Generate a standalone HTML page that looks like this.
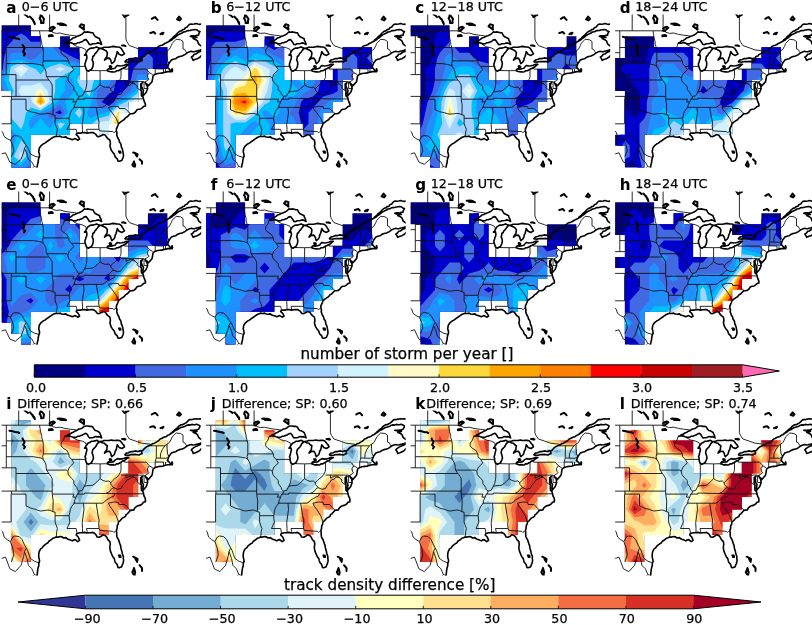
<!DOCTYPE html>
<html><head><meta charset="utf-8"><style>
html,body{margin:0;padding:0;background:#fff;}
body{width:812px;height:625px;overflow:hidden;}
svg{display:block;}
text{font-family:'DejaVu Sans', 'Liberation Sans', sans-serif;fill:#000;stroke:#000;stroke-width:0.25px;}
</style></head><body>
<svg width="812" height="625" viewBox="0 0 812 625">
<defs><clipPath id="cpA"><rect x="1.6" y="14.4" width="199.6" height="153.2"/></clipPath><clipPath id="cpB"><rect x="1.6" y="15.5" width="199.6" height="165.1"/></clipPath></defs>
<g transform="translate(0,0)">
<path d="M11.4 25.3L21.1 25.3L30.9 25.3L30.9 36.3L40.6 36.3L40.6 47.2L50.4 47.2L60.1 47.2L60.1 36.3L69.9 36.3L69.9 47.2L79.6 47.2L79.6 58.1L79.6 69.1L79.6 80.0L89.4 80.0L99.1 80.0L108.9 80.0L118.6 80.0L128.4 80.0L128.4 69.1L128.4 58.1L138.1 58.1L138.1 47.2L147.9 47.2L157.6 47.2L167.4 47.2L167.4 58.1L167.4 69.1L157.6 69.1L147.9 69.1L147.9 80.0L138.1 80.0L138.1 91.0L138.1 101.9L128.4 101.9L128.4 112.8L118.6 112.8L118.6 123.8L108.9 123.8L108.9 134.7L99.1 134.7L99.1 123.8L89.4 123.8L79.6 123.8L69.9 123.8L69.9 134.7L60.1 134.7L50.4 134.7L40.6 134.7L30.9 134.7L30.9 145.7L30.9 156.6L30.9 167.6L21.1 167.6L11.4 167.6L11.4 156.6L11.4 145.7L11.4 134.7L11.4 123.8L11.4 112.8L11.4 101.9L11.4 91.0L1.6 91.0L1.6 80.0L1.6 69.1L1.6 58.1L1.6 47.2L1.6 36.3L1.6 25.3Z" fill="#000080"/>
<path d="M11.4 30.8L21.1 28.1L30.9 30.8L30.9 36.3L40.6 36.3L40.6 47.2L50.4 47.2L60.1 47.2L60.1 41.7L65.0 47.2L69.9 49.9L79.6 52.7L79.6 58.1L79.6 69.1L79.6 80.0L89.4 80.0L99.1 80.0L108.9 80.0L118.6 80.0L128.4 80.0L128.4 69.1L128.4 58.1L138.1 58.1L138.1 47.2L147.9 47.2L157.6 47.2L167.4 47.2L167.4 58.1L167.4 69.1L157.6 69.1L147.9 69.1L147.9 80.0L138.1 80.0L138.1 91.0L138.1 101.9L128.4 101.9L128.4 112.8L118.6 112.8L118.6 123.8L108.9 123.8L108.9 134.7L99.1 134.7L99.1 123.8L89.4 123.8L79.6 123.8L69.9 123.8L69.9 134.7L60.1 134.7L50.4 134.7L40.6 134.7L30.9 134.7L30.9 145.7L30.9 156.6L30.9 167.6L21.1 167.6L11.4 167.6L11.4 156.6L11.4 145.7L11.4 134.7L11.4 123.8L11.4 112.8L11.4 101.9L11.4 91.0L1.6 91.0L1.6 80.0L1.6 69.1L1.6 58.1L1.6 47.2L1.6 36.3L1.6 30.8ZM106.4 101.9L108.9 103.3L110.5 101.9L108.9 99.2Z" fill="#0000cd"/>
<path d="M21.1 33.5L26.0 36.3L30.9 41.7L40.6 41.7L40.6 47.2L50.4 47.2L57.7 47.2L60.1 49.9L69.9 55.4L74.8 58.1L79.6 60.0L79.6 69.1L79.6 80.0L89.4 80.0L99.1 80.0L108.9 80.0L116.2 80.0L113.8 91.0L108.9 93.7L101.6 101.9L108.9 106.0L113.8 101.9L118.6 93.7L123.5 91.0L128.4 85.5L130.8 80.0L133.2 69.1L138.1 63.6L143.0 58.1L147.9 52.7L152.8 58.1L152.8 69.1L147.9 69.1L147.9 80.0L138.1 80.0L138.1 91.0L138.1 101.9L128.4 101.9L128.4 112.8L118.6 112.8L118.6 123.8L108.9 123.8L108.9 134.7L99.1 134.7L99.1 123.8L89.4 123.8L79.6 123.8L69.9 123.8L69.9 134.7L60.1 134.7L50.4 134.7L40.6 134.7L30.9 134.7L30.9 145.7L30.9 156.6L30.9 167.6L21.1 167.6L11.4 167.6L11.4 156.6L11.4 145.7L11.4 134.7L11.4 123.8L11.4 112.8L11.4 101.9L11.4 91.0L1.6 91.0L1.6 80.0L1.6 71.8L2.8 69.1L4.1 58.1L6.5 47.2L11.4 41.7L16.2 36.3ZM55.2 112.8L60.1 114.2L61.8 112.8L60.1 110.1Z" fill="#4169e1"/>
<path d="M11.4 52.7L21.1 52.7L26.0 58.1L30.9 60.0L35.8 58.1L40.6 52.7L45.5 47.2L50.4 47.2L52.8 47.2L60.1 55.4L65.0 58.1L69.9 60.0L79.6 63.6L79.6 69.1L79.6 80.0L89.4 80.0L99.1 80.0L108.9 80.0L111.3 80.0L108.9 85.5L99.1 88.2L97.5 91.0L96.7 101.9L99.1 107.4L108.9 108.7L117.0 101.9L118.6 99.2L128.4 92.8L130.8 91.0L135.7 80.0L138.1 74.6L147.9 74.6L147.9 80.0L138.1 80.0L138.1 91.0L138.1 101.9L128.4 101.9L128.4 112.8L118.6 112.8L118.6 123.8L108.9 123.8L108.9 134.7L99.1 134.7L99.1 123.8L89.4 123.8L79.6 123.8L69.9 123.8L69.9 134.7L60.1 134.7L50.4 134.7L40.6 134.7L30.9 134.7L30.9 145.7L30.9 156.6L30.9 162.1L26.0 167.6L21.1 167.6L11.4 167.6L11.4 156.6L11.4 145.7L11.4 134.7L11.4 123.8L11.4 112.8L11.4 101.9L11.4 91.0L4.1 91.0L1.6 85.5L1.6 80.0L1.6 77.3L5.3 69.1L8.9 58.1ZM45.5 112.8L50.4 118.3L60.1 117.0L65.0 112.8L60.1 104.6L50.4 111.0Z" fill="#1e90ff"/>
<path d="M11.4 60.9L21.1 59.5L30.9 63.6L40.6 63.6L50.4 60.9L60.1 60.0L69.9 63.6L79.6 67.3L79.6 69.1L79.6 80.0L89.4 80.0L99.1 80.0L104.0 80.0L99.1 82.8L94.2 91.0L91.8 101.9L89.4 107.4L86.9 112.8L89.4 118.3L99.1 114.7L104.0 112.8L108.9 111.5L118.6 103.0L121.1 101.9L128.4 96.4L135.7 91.0L138.1 85.5L138.1 91.0L138.1 101.9L128.4 101.9L128.4 112.8L118.6 112.8L118.6 123.8L108.9 123.8L108.9 134.7L99.1 134.7L99.1 123.8L89.4 123.8L79.6 123.8L69.9 123.8L69.9 134.7L60.1 134.7L50.4 134.7L40.6 134.7L30.9 134.7L30.9 145.7L30.9 151.1L29.2 156.6L21.1 165.7L11.4 162.1L11.4 156.6L11.4 151.1L13.8 145.7L16.2 134.7L11.4 129.3L11.4 123.8L11.4 112.8L11.4 101.9L11.4 91.0L8.9 91.0L4.1 80.0L7.7 69.1ZM65.0 80.0L65.0 91.0L60.1 96.4L57.7 101.9L50.4 107.4L40.6 112.1L35.8 112.8L30.9 118.3L28.4 123.8L30.9 129.3L35.8 123.8L40.6 118.3L45.5 123.8L50.4 129.3L52.8 123.8L60.1 119.7L68.2 112.8L65.0 101.9L69.9 96.4L74.8 91.0L72.3 80.0L69.9 77.3Z" fill="#00bfff"/>
<path d="M11.4 66.4L21.1 62.3L30.9 67.3L35.8 69.1L40.6 74.6L45.5 69.1L50.4 66.4L60.1 63.6L69.9 67.3L74.8 69.1L69.9 71.8L60.1 77.3L55.2 80.0L55.2 91.0L52.8 101.9L50.4 103.7L40.6 110.5L30.9 107.4L26.0 112.8L23.6 123.8L21.1 129.3L16.2 123.8L11.4 118.3L11.4 112.8L11.4 101.9L11.4 96.4L13.8 91.0L11.4 85.5L8.9 80.0L10.2 69.1ZM79.6 74.6L79.6 80.0L89.4 80.0L94.2 80.0L91.0 91.0L89.4 96.4L84.5 91.0L79.6 85.5L77.2 80.0ZM128.4 100.1L138.1 92.8L138.1 101.9L128.4 101.9L128.4 112.8L118.6 112.8L118.6 123.8L108.9 123.8L108.9 134.7L99.1 134.7L99.1 123.8L91.8 123.8L99.1 118.3L108.9 115.6L110.1 112.8L118.6 105.2L125.9 101.9ZM79.6 107.4L82.1 112.8L79.6 118.3L74.8 112.8ZM60.1 122.4L65.0 123.8L60.1 129.3L57.7 123.8ZM21.1 140.2L26.0 145.7L26.0 156.6L21.1 162.1L13.8 156.6L18.7 145.7Z" fill="#a4d2fe"/>
<path d="M21.1 65.0L28.4 69.1L21.1 77.3L13.8 69.1ZM60.1 67.3L65.0 69.1L60.1 71.8L55.2 69.1ZM21.1 85.5L30.9 85.5L40.6 82.8L47.9 91.0L49.4 101.9L40.6 108.9L31.9 101.9L30.9 96.4L21.1 96.4L18.7 91.0ZM138.1 96.4L138.1 101.9L130.8 101.9ZM118.6 107.4L128.4 107.4L128.4 112.8L118.6 112.8L118.6 123.8L108.9 123.8L108.9 134.7L99.1 134.7L99.1 123.8L96.7 123.8L99.1 122.0L108.9 121.1L112.5 112.8ZM21.1 151.1L22.8 156.6L21.1 158.4L18.7 156.6Z" fill="#d2f2ff"/>
<path d="M21.1 67.7L23.6 69.1L21.1 71.8L18.7 69.1ZM40.6 88.2L43.1 91.0L47.4 101.9L40.6 107.4L33.8 101.9L35.8 91.0ZM138.1 100.1L138.1 101.9L135.7 101.9ZM118.6 109.6L125.9 112.8L118.6 112.8L118.6 123.8L110.5 123.8L115.0 112.8Z" fill="#fffac8"/>
<path d="M40.6 92.8L45.5 101.9L40.6 105.8L35.8 101.9ZM118.6 111.8L121.1 112.8L118.6 112.8L118.6 123.8L113.8 123.8L117.4 112.8Z" fill="#ffd93c"/>
<path d="M40.6 96.4L43.5 101.9L40.6 104.3L37.7 101.9ZM118.6 118.3L118.6 123.8L117.0 123.8Z" fill="#ffa500"/>
<path d="M40.6 100.1L41.6 101.9L40.6 102.7L39.6 101.9Z" fill="#ff7f00"/>
<g clip-path="url(#cpA)">
<path d="M-22.8,30.8 49.6,30.8M49.6,28.7 51.4,29.2 52.3,32.3 56.2,33.4 60.1,33.0 65.0,34.4 69.9,35.2 74.8,35.7 76.7,36.3M18.7,30.8 18.7,8.9M49.6,28.7 49.6,8.9M125.9,8.9 125.9,17.1 125.9,39.0 126.9,41.7 129.4,45.6 135.7,47.8 141.5,49.9 150.3,51.0 151.3,52.7M149.3,52.7 164.9,52.7M164.9,52.7 166.9,51.0 169.3,49.4 171.3,45.6 172.2,43.4 176.1,39.3 180.5,39.8 183.0,41.5 183.0,48.9 184.7,49.4 185.9,51.6 186.9,53.0M6.3,30.8 6.3,74.6M-27.6,52.7 6.3,52.7M-27.6,74.6 16.0,74.6M16.0,74.6 16.0,96.4M6.3,47.5 42.8,47.5M6.3,63.6 33.3,63.6 38.2,64.4 41.1,65.0 43.3,66.4M16.0,80.0 48.9,80.0M-17.9,96.4 52.2,96.4M11.4,96.4 11.4,99.2 26.0,99.2 26.0,109.8M11.1,99.2 11.1,123.8 -6.2,123.8M26.0,109.8 28.4,110.7 30.9,111.8 33.3,112.3 35.8,112.8 38.2,113.7 40.6,114.2 43.1,113.9 45.5,113.7 47.9,113.4 50.4,113.7 52.9,114.8 55.1,115.3M55.1,115.3 55.1,118.3M55.1,118.3 55.1,123.8 56.2,126.5 57.4,129.3 56.7,132.0 56.5,134.7 56.0,136.4M55.1,118.3 69.1,118.3M52.9,114.8 53.2,105.2 52.2,99.2 52.2,85.0M52.2,85.0 50.9,82.8 49.9,81.1 48.9,80.0 46.6,76.7 46.2,74.6 46.0,71.8 45.0,69.1 43.3,66.4M43.3,66.4 42.6,63.6 43.3,60.9 43.3,51.0 42.8,47.5 41.8,44.5 41.6,41.7 40.6,37.9 40.1,34.6 39.5,30.8M43.3,60.9 68.8,60.9M46.6,76.7 66.3,76.7 67.8,78.0M52.2,99.2 74.0,99.2 72.9,101.9 76.1,101.9M64.5,43.1 63.5,46.7 61.3,49.7 61.1,52.7 63.5,55.4 66.5,57.1 68.9,60.9 69.1,63.6 71.6,66.4 73.8,69.6 71.8,71.8 69.4,74.0 67.8,78.0 68.4,81.1 71.3,84.4 73.8,86.6 73.8,89.3 76.7,93.2 77.2,94.8 78.9,96.4 78.6,98.6 77.2,99.2 76.2,101.9 74.5,105.2 74.3,107.4 71.8,110.1 70.4,112.8 69.1,118.3 69.4,121.1 69.9,123.8 67.0,129.3M67.0,129.3 76.1,129.3 76.7,131.4 76.9,133.6M71.6,66.4 85.5,66.4M86.5,52.1 85.5,49.4 82.1,47.8 77.2,46.7 72.8,44.2M88.4,70.5 100.1,70.7 106.7,70.6M86.8,70.5 86.8,83.3 86.5,86.0 85.7,89.3 84.3,92.1M100.1,70.7 100.1,85.0M121.0,69.1 121.0,76.5M78.9,96.4 82.1,95.9 84.3,92.1 86.9,91.5 90.4,91.2 92.8,91.0 95.2,89.3 97.7,87.1 100.1,85.0 103.0,86.6 105.5,87.4 108.9,87.1 110.8,88.8 112.8,86.6 114.7,85.0 117.2,83.3 119.1,81.1 120.6,78.4 121.0,76.5M77.2,99.2 84.3,99.2 84.3,98.2 94.2,98.5 105.6,98.6 115.3,98.6 123.5,98.9 133.2,98.9 143.6,98.9M105.6,98.6 108.9,97.3 110.8,95.3 112.3,93.7 114.0,93.4 110.8,90.1 110.8,88.8M114.0,93.4 117.6,94.8 121.1,94.0 122.5,91.5 124.5,89.3 125.9,88.0 126.9,86.0 129.8,85.2 131.5,83.3 134.2,83.9 134.7,83.9M126.0,81.6 126.0,84.4 128.9,83.0 131.5,82.2 134.2,83.0 135.7,85.0 137.6,86.0 137.1,87.7 138.6,89.3 141.5,91.0M121.0,81.6 144.0,81.6M144.0,81.6 144.1,88.5 147.6,88.5M121.0,69.1 124.7,67.6 124.7,69.1 146.1,69.1M146.1,69.1 147.4,70.2 149.3,72.6 147.4,75.4 147.9,77.8 149.1,79.2 147.4,80.6 145.4,81.7 145.2,82.8M149.3,72.6 152.8,74.6M155.2,74.0 155.2,68.8 156.3,65.0 156.4,52.7M155.2,68.8 163.5,69.0 163.5,72.9M165.5,69.0 165.5,71.8M156.3,65.0 165.9,65.3 167.6,64.4M160.3,65.1 160.5,60.9 162.3,56.5 164.9,52.7M168.8,63.1 167.6,60.9 167.0,55.4 167.0,51.0M73.3,107.4 102.4,107.4M83.5,107.4 84.0,112.8 82.2,124.3 82.5,129.3 82.5,132.5M96.2,107.4 98.1,118.3 99.1,122.1 98.6,126.0 99.1,129.3M86.5,129.3 99.1,129.3M86.5,129.3 87.2,132.0 86.9,133.1M99.1,129.3 99.8,130.9 112.8,131.6 113.8,132.5 115.0,132.0 116.2,130.9M102.4,107.4 104.5,106.3 106.4,104.4 108.9,103.3 111.3,101.9 113.8,101.1 115.3,98.6M108.4,107.4 109.9,110.1 112.3,112.8 114.2,115.6 116.2,118.3 118.1,122.7 119.1,123.8M108.4,107.4 113.8,106.3 118.6,106.6 119.1,108.5 125.0,108.5 130.6,113.7M-6.2,123.8 -5.2,125.2 -0.8,129.3 2.6,132.0 4.1,136.4 7.0,138.6 10.4,140.2 12.8,136.4 14.8,135.6 19.2,136.1 22.1,138.6 24.5,142.9 27.5,147.3 28.9,150.6 30.4,153.9 34.3,156.1 38.2,157.2 39.9,156.9M-5.7,159.3 1.6,153.9 5.5,152.8 9.9,162.1 15.3,164.3M10.4,140.2 12.8,145.7 13.8,151.1 11.4,156.6M26.0,145.7 24.5,148.4 27.0,153.9 28.4,159.3 31.9,162.1 34.3,166.5M15.3,164.3 21.1,159.3 23.6,152.2 24.5,148.4M37.2,167.6 34.3,166.5 29.9,170.3 28.4,174.1" fill="none" stroke="#111" stroke-width="0.9" stroke-linejoin="round"/>
<path d="M197.6,37.4 195.2,37.4 193.2,38.5 194.8,39.2 196.3,40.0 197.6,41.2 198.6,43.9 200.0,45.1 201.5,46.1 203.2,46.6 204.4,47.8 202.9,48.5 201.5,49.4 199.6,50.2 197.6,50.8 194.7,51.6 192.9,51.8 191.3,51.3 188.8,52.1 186.9,53.0 184.9,54.6 183.5,55.3 182.0,56.0 179.6,56.5 177.1,57.6 175.8,58.7 174.2,59.0 171.3,60.1 170.3,61.5 169.3,62.8 168.4,64.7 167.9,66.4 167.4,67.4 168.8,68.5 169.8,69.9 171.8,70.5 172.5,69.6 172.0,68.8 172.5,70.7 172.2,71.6 169.8,71.6 167.9,71.6 165.4,72.1 163.0,72.9 160.1,73.2 157.6,73.5 154.7,74.6 153.2,75.7 152.8,77.3 152.5,79.5 152.0,81.7 150.3,83.6 148.4,85.8 147.4,84.4 145.7,83.3 145.2,82.2 145.9,83.9 147.4,86.6 147.6,88.8 146.7,91.0 146.1,92.5 145.0,93.7 143.2,95.6 143.0,93.2 143.5,90.4 142.0,87.7 141.4,86.1 141.5,84.4 142.5,82.5 140.6,84.1 140.8,86.6 140.6,88.8 141.5,91.0 141.3,93.2 141.5,95.9 143.0,97.0 143.5,98.9 144.2,101.4 145.4,104.1 145.4,106.0 143.5,106.6 142.1,107.8 140.6,109.0 138.5,109.3 136.7,110.1 135.5,112.0 133.7,113.4 132.1,113.8 130.3,113.7 128.8,115.1 127.4,116.7 125.4,117.9 124.0,119.7 122.5,120.6 121.1,121.6 118.6,123.5 118.0,125.3 117.2,127.1 116.4,128.9 116.4,130.9 117.0,132.8 116.7,134.7 117.6,137.5 119.1,140.2 119.5,142.0 120.6,143.5 121.1,145.1 121.3,146.8 122.3,148.9 122.8,151.1 123.3,153.9 123.5,155.8 123.0,157.7 121.8,160.4 119.1,161.3 117.9,161.0 117.2,158.8 115.2,156.9 114.2,153.9 112.3,151.7 111.3,150.1 110.6,148.4 109.9,145.7 110.4,144.1 110.3,142.4 109.9,140.2 107.9,138.6 106.5,137.1 105.5,135.3 103.0,134.5 101.6,135.6 99.1,136.6 97.2,136.4 95.7,134.2 94.3,133.3 92.8,132.5 91.1,132.6 89.4,132.8 86.9,133.1 84.5,132.5 82.1,132.8 80.4,133.1 78.6,133.1 76.7,133.6 76.2,134.7 78.2,136.4 79.6,139.1 77.7,140.2 75.2,138.6 72.3,139.7 70.6,139.1 68.9,138.6 67.2,138.1 66.0,136.9 63.5,137.2 61.7,137.0 60.1,136.1 58.2,136.5 56.2,136.4 54.5,136.8 52.8,137.5 50.4,139.1 48.5,140.5 46.5,141.8 44.9,143.1 43.1,144.0 41.8,145.1 40.6,146.2 39.2,148.4 39.0,150.1 38.7,151.7 39.3,153.8 39.6,156.1 38.9,157.6 38.5,159.3 38.2,161.0 38.1,162.8 37.5,164.6 37.2,166.5 37.1,168.1 36.6,169.7 36.6,171.4 36.7,173.0 37.0,174.6 36.5,176.3 37.4,177.9 37.2,179.6 37.2,181.2M64.5,43.1 66.4,42.4 67.9,41.0 69.9,40.4 71.5,39.4 72.9,38.0 74.8,37.4 77.2,36.3 78.9,35.7 80.5,35.0 82.1,34.1 83.3,33.0 84.5,31.9 86.1,32.3 87.8,31.9 89.4,32.2 91.1,32.6 92.8,32.7 93.9,34.7 95.2,36.5 96.7,37.3 98.2,38.0 99.6,38.7 99.9,40.4 100.8,41.7 101.6,44.5 99.1,43.1 97.5,42.9 95.9,43.5 94.2,43.7 92.6,43.8 91.1,44.6 89.4,44.5 88.4,42.7 87.2,41.1 86.0,39.6 84.0,40.1 82.5,41.5 79.6,42.6 77.9,42.7 76.4,43.7 74.8,43.9 73.1,43.6 71.5,42.9 69.9,42.6 68.1,43.2 66.3,43.0 64.5,43.1M100.1,48.3 98.3,47.9 96.7,46.9 95.0,47.6 93.2,48.1 91.3,48.0 89.5,48.8 87.9,49.9 86.5,52.1 85.8,53.8 84.5,55.1 86.5,54.9 86.9,57.1 86.7,58.8 86.0,60.3 85.6,62.0 85.0,63.6 84.9,65.3 85.5,66.9 86.5,69.9 88.4,71.3 89.7,70.3 91.3,69.9 92.0,68.4 92.8,66.9 93.1,65.3 93.3,63.6 93.0,61.6 92.1,59.8 92.7,58.2 92.8,56.5 94.2,55.5 94.9,53.8 96.2,52.7 97.1,51.4 98.0,50.1 99.1,48.9 100.1,48.3M100.1,48.3 102.1,48.1 104.0,47.2 106.9,47.2 109.2,47.3 111.3,46.7 113.0,46.4 114.6,46.6 116.2,46.9 118.2,47.0 120.1,47.5 121.5,48.8 122.5,50.5 123.5,52.1 124.5,53.8 122.0,55.4 119.1,54.3 118.2,52.9 117.2,51.6 116.7,54.3 116.1,56.3 115.2,58.1 114.9,60.2 113.8,62.0 111.8,63.6 111.2,62.0 110.8,60.3 109.4,58.1 106.9,58.4 104.5,60.1 105.6,58.2 106.9,56.5 107.2,54.6 107.4,52.7 106.2,51.0 104.5,49.9 102.4,49.0 100.1,48.3M111.3,65.8 109.4,66.1 109.9,67.4 111.6,67.2 111.3,65.8M106.7,70.6 108.5,71.2 110.3,71.8 112.0,71.9 113.6,72.0 115.2,71.8 116.5,70.8 118.3,70.8 119.7,70.0 121.1,69.1 122.9,68.6 124.5,67.4 126.1,66.7 127.3,65.4 128.9,64.4 126.4,64.3 124.3,65.2 122.0,65.8 119.8,66.0 117.6,65.5 116.3,66.4 115.3,67.9 113.8,68.5 110.8,69.1 108.4,68.8 106.7,70.6M124.5,62.0 126.2,61.7 127.9,62.3 129.6,61.8 131.4,61.5 133.2,61.6 135.2,61.6 137.2,61.4 139.1,62.0 140.4,60.9 142.0,60.6 141.5,57.9 139.9,58.5 138.1,58.4 135.2,57.9 133.1,58.6 130.8,58.6 128.7,59.4 126.4,60.1 124.5,62.0M141.5,57.9 142.6,56.5 144.4,55.9 145.4,54.6 147.4,53.6 149.3,52.4 151.0,51.3 152.8,50.6 154.7,49.9 156.0,48.7 157.3,47.7 158.5,46.4 160.1,45.6 161.8,45.2 163.4,44.6 164.8,43.5 166.4,42.8 167.9,42.0 169.3,41.2M169.3,41.2 170.5,39.6 172.2,38.5 173.7,36.6 175.7,35.2 176.9,33.8 178.1,32.5 179.6,31.3 181.3,30.9 182.7,29.6 184.4,29.2 185.4,27.7 187.2,27.1 188.1,25.7 189.3,24.5 190.9,24.0 192.6,24.2 194.2,24.0 196.0,23.5 197.8,24.0 199.7,24.4 201.5,24.0M169.3,41.2 171.5,40.1 173.2,38.5 175.3,37.2 177.1,35.7 178.6,34.6 180.3,33.8 182.0,33.0 183.5,32.0 185.4,31.8 186.9,30.8 188.5,30.6 190.2,30.5 191.8,30.0 193.4,29.7 195.0,29.5 196.6,29.7 198.2,30.9 200.0,31.6 198.9,33.2 198.6,35.2 196.8,35.3 195.2,36.0 193.5,35.8 191.9,35.9 190.3,36.3 192.2,37.0 194.2,37.4 195.9,37.1 197.6,37.4M202.5,51.0 200.5,51.6 198.6,52.1 197.2,53.0 195.8,54.0 194.2,54.3 193.0,56.0 191.3,57.1 192.4,58.6 193.2,60.3 195.3,59.3 197.6,58.7 199.0,57.7 200.5,56.8 201.5,55.4 203.9,54.9 206.4,54.3M201.5,43.4 203.5,44.3 205.4,45.3 207.6,45.7 209.8,45.3 207.7,44.3 205.4,44.2 203.5,43.4 201.5,43.4" fill="none" stroke="#000" stroke-width="1.6" stroke-linejoin="round"/>
<path d="M118.9,151.4 120.3,151.4 120.6,152.8 119.6,152.8 118.9,151.4M133.2,152.5 135.7,153.3 137.6,154.4 137.1,156.6 136.1,155.2 135.2,153.6M134.0,161.5 133.3,163.3 132.3,164.8 133.4,166.2 134.7,167.6 135.2,164.8 134.4,163.3 134.0,161.5M139.6,159.3 140.8,160.5 142.0,161.5 142.0,163.7M49.6,28.7 50.9,27.5 53.3,26.7 54.8,27.8 52.8,29.4 51.4,31.1 49.6,30.8M48.9,36.3 50.9,36.1 52.8,36.0 51.8,34.9 48.9,35.4 48.9,36.3M82.1,28.1 84.0,29.7 83.7,27.4 84.0,25.1 81.1,24.2 79.6,26.4 82.1,28.1M57.7,23.7 59.3,23.7 60.9,23.4 62.6,23.7 64.3,24.5 66.0,25.3 63.5,24.8 61.8,25.0 60.1,24.8M41.1,23.1 43.5,22.9 43.5,20.8 44.0,18.8 42.9,17.5 41.9,16.1 40.6,14.9 40.4,16.6 39.6,18.2 40.5,19.8 41.1,21.5 41.1,23.1M34.8,24.2 34.3,22.0 33.4,20.7 32.6,19.3 31.4,18.2 29.9,16.6 31.3,18.2 32.8,19.9 33.6,21.5 34.3,23.1M28.0,17.1 26.4,15.5 24.5,14.4 24.8,12.7 25.5,11.1 23.1,9.5M9.4,36.8 11.3,37.4 13.3,37.6 16.2,38.5 17.7,38.5 19.2,39.3M22.6,45.0 23.7,46.6 24.5,48.3 24.0,50.0 23.1,51.6 25.0,53.8 24.0,55.4M122.0,45.6 123.8,45.6 125.5,46.1 124.0,45.3M151.8,18.8 153.4,17.8 155.2,17.1 156.3,18.6 157.6,19.9M160.5,34.1 161.9,33.2 163.5,32.7 162.5,34.1M150.3,33.0 152.0,32.5 153.7,31.9 155.2,33.5M177.1,19.3 178.2,18.0 179.1,16.6 181.0,18.8 179.6,20.4 177.1,19.3M121.1,11.7 122.0,13.0 122.7,14.4 123.8,15.6 124.5,17.1 126.3,15.8 128.4,14.9 128.7,13.2 129.4,11.7" fill="none" stroke="#000" stroke-width="2.0" stroke-linejoin="round" stroke-linecap="round"/>
</g></g>
<g transform="translate(204.5,0)">
<path d="M11.4 25.3L21.1 25.3L30.9 25.3L40.6 25.3L40.6 36.3L40.6 47.2L50.4 47.2L60.1 47.2L60.1 36.3L69.9 36.3L69.9 47.2L79.6 47.2L79.6 58.1L79.6 69.1L79.6 80.0L89.4 80.0L99.1 80.0L108.9 80.0L118.6 80.0L128.4 80.0L128.4 69.1L138.1 69.1L138.1 58.1L138.1 47.2L147.9 47.2L157.6 47.2L167.4 47.2L167.4 58.1L167.4 69.1L157.6 69.1L147.9 69.1L147.9 80.0L138.1 80.0L138.1 91.0L138.1 101.9L128.4 101.9L128.4 112.8L118.6 112.8L118.6 123.8L108.9 123.8L108.9 134.7L99.1 134.7L99.1 123.8L89.4 123.8L79.6 123.8L69.9 123.8L69.9 134.7L60.1 134.7L50.4 134.7L40.6 134.7L30.9 134.7L30.9 145.7L30.9 156.6L30.9 167.6L21.1 167.6L11.4 167.6L11.4 156.6L11.4 145.7L11.4 134.7L11.4 123.8L11.4 112.8L11.4 101.9L11.4 91.0L11.4 80.0L1.6 80.0L1.6 69.1L1.6 58.1L1.6 47.2L1.6 36.3L1.6 25.3Z" fill="#000080"/>
<path d="M11.4 30.8L21.1 30.8L30.9 30.8L40.6 30.8L40.6 36.3L40.6 47.2L50.4 47.2L60.1 47.2L60.1 39.0L69.9 41.7L69.9 47.2L79.6 47.2L79.6 58.1L79.6 69.1L79.6 80.0L89.4 80.0L99.1 80.0L108.9 80.0L118.6 80.0L128.4 80.0L128.4 69.1L138.1 69.1L138.1 58.1L138.1 47.2L147.9 47.2L157.6 47.2L167.4 47.2L167.4 58.1L167.4 69.1L157.6 69.1L147.9 69.1L147.9 80.0L138.1 80.0L138.1 91.0L138.1 101.9L128.4 101.9L128.4 112.8L118.6 112.8L118.6 123.8L108.9 123.8L108.9 134.7L99.1 134.7L99.1 123.8L89.4 123.8L79.6 123.8L69.9 123.8L69.9 134.7L60.1 134.7L50.4 134.7L40.6 134.7L30.9 134.7L30.9 145.7L30.9 156.6L30.9 167.6L21.1 167.6L11.4 167.6L11.4 156.6L11.4 145.7L11.4 134.7L11.4 123.8L11.4 112.8L11.4 101.9L11.4 91.0L11.4 80.0L1.6 80.0L1.6 69.1L1.6 58.1L1.6 47.2L1.6 41.7L6.5 36.3Z" fill="#0000cd"/>
<path d="M11.4 41.7L21.1 41.7L30.9 41.7L40.6 39.0L40.6 47.2L50.4 47.2L60.1 47.2L60.1 44.5L65.0 47.2L69.9 49.9L74.8 47.2L79.6 47.2L79.6 58.1L79.6 69.1L79.6 80.0L89.4 80.0L99.1 80.0L108.9 80.0L116.2 80.0L113.8 91.0L108.9 96.4L99.1 99.2L96.7 101.9L94.2 112.8L96.7 123.8L89.4 123.8L79.6 123.8L69.9 123.8L69.9 134.7L60.1 134.7L50.4 134.7L40.6 134.7L30.9 134.7L30.9 145.7L30.9 156.6L30.9 167.6L21.1 167.6L16.2 167.6L11.4 162.1L11.4 156.6L11.4 145.7L11.4 134.7L11.4 123.8L11.4 112.8L11.4 101.9L11.4 91.0L11.4 80.0L3.2 80.0L4.1 69.1L6.5 58.1L6.5 47.2ZM147.9 52.7L152.8 58.1L152.8 69.1L147.9 69.1L147.9 80.0L138.1 80.0L138.1 91.0L138.1 101.9L128.4 101.9L128.4 112.8L118.6 112.8L118.6 123.8L108.9 123.8L108.9 134.7L99.1 134.7L99.1 129.3L104.0 123.8L104.0 112.8L108.9 107.4L113.8 101.9L118.6 96.4L128.4 93.7L133.2 91.0L133.2 80.0L133.2 69.1L138.1 69.1L138.1 63.6L143.0 58.1ZM167.4 52.7L167.4 58.1L167.4 63.6L162.5 58.1Z" fill="#4169e1"/>
<path d="M40.6 44.5L40.6 47.2L50.4 47.2L55.2 47.2L60.1 49.9L69.9 55.4L74.8 58.1L79.6 60.9L79.6 69.1L79.6 80.0L89.4 80.0L99.1 80.0L108.9 80.0L111.3 80.0L108.9 85.5L104.0 91.0L99.1 93.7L91.8 101.9L89.4 107.4L84.5 112.8L89.4 118.3L91.8 123.8L89.4 123.8L79.6 123.8L69.9 123.8L69.9 134.7L60.1 134.7L50.4 134.7L40.6 134.7L30.9 134.7L30.9 145.7L30.9 156.6L30.9 162.1L21.1 164.8L13.8 156.6L13.0 145.7L11.4 140.2L11.4 134.7L11.4 123.8L11.4 112.8L11.4 101.9L11.4 91.0L11.4 80.0L6.5 80.0L8.9 69.1L11.4 63.6L16.2 58.1L21.1 52.7L30.9 49.9L35.8 47.2ZM128.4 99.2L138.1 96.4L138.1 101.9L128.4 101.9L128.4 112.8L118.6 112.8L118.6 123.8L113.8 123.8L113.8 112.8L118.6 107.4L123.5 101.9Z" fill="#1e90ff"/>
<path d="M30.9 55.4L35.8 58.1L40.6 60.9L45.5 58.1L50.4 52.7L60.1 55.4L65.0 58.1L69.9 60.9L79.6 66.4L79.6 69.1L79.6 80.0L84.5 80.0L89.4 85.5L94.2 91.0L89.4 96.4L79.6 96.4L74.8 101.9L74.8 112.8L69.9 118.3L65.0 112.8L60.1 110.1L57.7 112.8L60.1 118.3L65.0 123.8L65.0 134.7L60.1 134.7L50.4 134.7L45.5 134.7L50.4 129.3L55.2 123.8L50.4 121.1L45.5 123.8L40.6 129.3L35.8 134.7L30.9 134.7L30.9 145.7L30.9 151.1L26.0 156.6L21.1 159.3L18.7 156.6L16.2 145.7L13.8 134.7L13.8 123.8L13.8 112.8L13.8 101.9L13.8 91.0L11.4 85.5L11.4 80.0L9.8 80.0L11.4 74.6L13.8 69.1L21.1 60.9L26.0 58.1ZM99.1 80.0L104.0 80.0L99.1 85.5L94.2 80.0Z" fill="#00bfff"/>
<path d="M21.1 66.4L30.9 60.9L40.6 66.4L50.4 59.5L60.1 60.9L69.9 66.4L74.8 69.1L69.9 74.6L68.2 80.0L67.4 91.0L65.0 101.9L60.1 104.6L52.8 112.8L50.4 115.6L40.6 122.4L30.9 122.4L26.0 123.8L26.0 134.7L26.0 145.7L21.1 151.1L19.5 145.7L18.7 134.7L18.7 123.8L18.7 112.8L18.7 101.9L18.7 91.0L13.8 80.0L18.7 69.1Z" fill="#a4d2fe"/>
<path d="M30.9 66.4L35.8 69.1L40.6 71.8L42.2 69.1L50.4 62.3L60.1 66.4L65.0 69.1L65.0 80.0L62.6 91.0L60.1 96.4L58.5 101.9L50.4 111.0L48.8 112.8L40.6 119.7L30.9 119.7L22.8 112.8L22.1 101.9L22.8 91.0L21.1 85.5L18.7 80.0L21.1 74.6L26.0 69.1Z" fill="#d2f2ff"/>
<path d="M50.4 65.0L57.7 69.1L60.1 74.6L61.8 80.0L60.1 85.5L57.7 91.0L55.2 101.9L50.4 107.4L45.5 112.8L40.6 117.0L30.9 117.0L26.0 112.8L24.1 101.9L26.0 91.0L30.9 82.8L35.8 80.0L40.6 77.3L45.5 69.1Z" fill="#fffac8"/>
<path d="M50.4 67.7L52.8 69.1L57.7 80.0L52.8 91.0L52.0 101.9L50.4 103.7L42.2 112.8L40.6 114.2L30.9 114.2L29.2 112.8L26.0 101.9L29.2 91.0L30.9 88.2L40.6 85.5L43.1 80.0L48.8 69.1Z" fill="#ffd93c"/>
<path d="M50.4 74.6L52.8 80.0L50.4 85.5L47.9 80.0ZM30.9 93.7L40.6 92.8L48.8 101.9L40.6 111.0L30.9 110.1L27.9 101.9Z" fill="#ffa500"/>
<path d="M30.9 99.2L40.6 96.4L45.5 101.9L40.6 107.4L30.9 104.6L29.9 101.9Z" fill="#ff7f00"/>
<path d="M40.6 100.1L42.2 101.9L40.6 103.7L35.8 101.9Z" fill="#ff0000"/>
<g clip-path="url(#cpA)">
<path d="M-22.8,30.8 49.6,30.8M49.6,28.7 51.4,29.2 52.3,32.3 56.2,33.4 60.1,33.0 65.0,34.4 69.9,35.2 74.8,35.7 76.7,36.3M18.7,30.8 18.7,8.9M49.6,28.7 49.6,8.9M125.9,8.9 125.9,17.1 125.9,39.0 126.9,41.7 129.4,45.6 135.7,47.8 141.5,49.9 150.3,51.0 151.3,52.7M149.3,52.7 164.9,52.7M164.9,52.7 166.9,51.0 169.3,49.4 171.3,45.6 172.2,43.4 176.1,39.3 180.5,39.8 183.0,41.5 183.0,48.9 184.7,49.4 185.9,51.6 186.9,53.0M6.3,30.8 6.3,74.6M-27.6,52.7 6.3,52.7M-27.6,74.6 16.0,74.6M16.0,74.6 16.0,96.4M6.3,47.5 42.8,47.5M6.3,63.6 33.3,63.6 38.2,64.4 41.1,65.0 43.3,66.4M16.0,80.0 48.9,80.0M-17.9,96.4 52.2,96.4M11.4,96.4 11.4,99.2 26.0,99.2 26.0,109.8M11.1,99.2 11.1,123.8 -6.2,123.8M26.0,109.8 28.4,110.7 30.9,111.8 33.3,112.3 35.8,112.8 38.2,113.7 40.6,114.2 43.1,113.9 45.5,113.7 47.9,113.4 50.4,113.7 52.9,114.8 55.1,115.3M55.1,115.3 55.1,118.3M55.1,118.3 55.1,123.8 56.2,126.5 57.4,129.3 56.7,132.0 56.5,134.7 56.0,136.4M55.1,118.3 69.1,118.3M52.9,114.8 53.2,105.2 52.2,99.2 52.2,85.0M52.2,85.0 50.9,82.8 49.9,81.1 48.9,80.0 46.6,76.7 46.2,74.6 46.0,71.8 45.0,69.1 43.3,66.4M43.3,66.4 42.6,63.6 43.3,60.9 43.3,51.0 42.8,47.5 41.8,44.5 41.6,41.7 40.6,37.9 40.1,34.6 39.5,30.8M43.3,60.9 68.8,60.9M46.6,76.7 66.3,76.7 67.8,78.0M52.2,99.2 74.0,99.2 72.9,101.9 76.1,101.9M64.5,43.1 63.5,46.7 61.3,49.7 61.1,52.7 63.5,55.4 66.5,57.1 68.9,60.9 69.1,63.6 71.6,66.4 73.8,69.6 71.8,71.8 69.4,74.0 67.8,78.0 68.4,81.1 71.3,84.4 73.8,86.6 73.8,89.3 76.7,93.2 77.2,94.8 78.9,96.4 78.6,98.6 77.2,99.2 76.2,101.9 74.5,105.2 74.3,107.4 71.8,110.1 70.4,112.8 69.1,118.3 69.4,121.1 69.9,123.8 67.0,129.3M67.0,129.3 76.1,129.3 76.7,131.4 76.9,133.6M71.6,66.4 85.5,66.4M86.5,52.1 85.5,49.4 82.1,47.8 77.2,46.7 72.8,44.2M88.4,70.5 100.1,70.7 106.7,70.6M86.8,70.5 86.8,83.3 86.5,86.0 85.7,89.3 84.3,92.1M100.1,70.7 100.1,85.0M121.0,69.1 121.0,76.5M78.9,96.4 82.1,95.9 84.3,92.1 86.9,91.5 90.4,91.2 92.8,91.0 95.2,89.3 97.7,87.1 100.1,85.0 103.0,86.6 105.5,87.4 108.9,87.1 110.8,88.8 112.8,86.6 114.7,85.0 117.2,83.3 119.1,81.1 120.6,78.4 121.0,76.5M77.2,99.2 84.3,99.2 84.3,98.2 94.2,98.5 105.6,98.6 115.3,98.6 123.5,98.9 133.2,98.9 143.6,98.9M105.6,98.6 108.9,97.3 110.8,95.3 112.3,93.7 114.0,93.4 110.8,90.1 110.8,88.8M114.0,93.4 117.6,94.8 121.1,94.0 122.5,91.5 124.5,89.3 125.9,88.0 126.9,86.0 129.8,85.2 131.5,83.3 134.2,83.9 134.7,83.9M126.0,81.6 126.0,84.4 128.9,83.0 131.5,82.2 134.2,83.0 135.7,85.0 137.6,86.0 137.1,87.7 138.6,89.3 141.5,91.0M121.0,81.6 144.0,81.6M144.0,81.6 144.1,88.5 147.6,88.5M121.0,69.1 124.7,67.6 124.7,69.1 146.1,69.1M146.1,69.1 147.4,70.2 149.3,72.6 147.4,75.4 147.9,77.8 149.1,79.2 147.4,80.6 145.4,81.7 145.2,82.8M149.3,72.6 152.8,74.6M155.2,74.0 155.2,68.8 156.3,65.0 156.4,52.7M155.2,68.8 163.5,69.0 163.5,72.9M165.5,69.0 165.5,71.8M156.3,65.0 165.9,65.3 167.6,64.4M160.3,65.1 160.5,60.9 162.3,56.5 164.9,52.7M168.8,63.1 167.6,60.9 167.0,55.4 167.0,51.0M73.3,107.4 102.4,107.4M83.5,107.4 84.0,112.8 82.2,124.3 82.5,129.3 82.5,132.5M96.2,107.4 98.1,118.3 99.1,122.1 98.6,126.0 99.1,129.3M86.5,129.3 99.1,129.3M86.5,129.3 87.2,132.0 86.9,133.1M99.1,129.3 99.8,130.9 112.8,131.6 113.8,132.5 115.0,132.0 116.2,130.9M102.4,107.4 104.5,106.3 106.4,104.4 108.9,103.3 111.3,101.9 113.8,101.1 115.3,98.6M108.4,107.4 109.9,110.1 112.3,112.8 114.2,115.6 116.2,118.3 118.1,122.7 119.1,123.8M108.4,107.4 113.8,106.3 118.6,106.6 119.1,108.5 125.0,108.5 130.6,113.7M-6.2,123.8 -5.2,125.2 -0.8,129.3 2.6,132.0 4.1,136.4 7.0,138.6 10.4,140.2 12.8,136.4 14.8,135.6 19.2,136.1 22.1,138.6 24.5,142.9 27.5,147.3 28.9,150.6 30.4,153.9 34.3,156.1 38.2,157.2 39.9,156.9M-5.7,159.3 1.6,153.9 5.5,152.8 9.9,162.1 15.3,164.3M10.4,140.2 12.8,145.7 13.8,151.1 11.4,156.6M26.0,145.7 24.5,148.4 27.0,153.9 28.4,159.3 31.9,162.1 34.3,166.5M15.3,164.3 21.1,159.3 23.6,152.2 24.5,148.4M37.2,167.6 34.3,166.5 29.9,170.3 28.4,174.1" fill="none" stroke="#111" stroke-width="0.9" stroke-linejoin="round"/>
<path d="M197.6,37.4 195.2,37.4 193.2,38.5 194.8,39.2 196.3,40.0 197.6,41.2 198.6,43.9 200.0,45.1 201.5,46.1 203.2,46.6 204.4,47.8 202.9,48.5 201.5,49.4 199.6,50.2 197.6,50.8 194.7,51.6 192.9,51.8 191.3,51.3 188.8,52.1 186.9,53.0 184.9,54.6 183.5,55.3 182.0,56.0 179.6,56.5 177.1,57.6 175.8,58.7 174.2,59.0 171.3,60.1 170.3,61.5 169.3,62.8 168.4,64.7 167.9,66.4 167.4,67.4 168.8,68.5 169.8,69.9 171.8,70.5 172.5,69.6 172.0,68.8 172.5,70.7 172.2,71.6 169.8,71.6 167.9,71.6 165.4,72.1 163.0,72.9 160.1,73.2 157.6,73.5 154.7,74.6 153.2,75.7 152.8,77.3 152.5,79.5 152.0,81.7 150.3,83.6 148.4,85.8 147.4,84.4 145.7,83.3 145.2,82.2 145.9,83.9 147.4,86.6 147.6,88.8 146.7,91.0 146.1,92.5 145.0,93.7 143.2,95.6 143.0,93.2 143.5,90.4 142.0,87.7 141.4,86.1 141.5,84.4 142.5,82.5 140.6,84.1 140.8,86.6 140.6,88.8 141.5,91.0 141.3,93.2 141.5,95.9 143.0,97.0 143.5,98.9 144.2,101.4 145.4,104.1 145.4,106.0 143.5,106.6 142.1,107.8 140.6,109.0 138.5,109.3 136.7,110.1 135.5,112.0 133.7,113.4 132.1,113.8 130.3,113.7 128.8,115.1 127.4,116.7 125.4,117.9 124.0,119.7 122.5,120.6 121.1,121.6 118.6,123.5 118.0,125.3 117.2,127.1 116.4,128.9 116.4,130.9 117.0,132.8 116.7,134.7 117.6,137.5 119.1,140.2 119.5,142.0 120.6,143.5 121.1,145.1 121.3,146.8 122.3,148.9 122.8,151.1 123.3,153.9 123.5,155.8 123.0,157.7 121.8,160.4 119.1,161.3 117.9,161.0 117.2,158.8 115.2,156.9 114.2,153.9 112.3,151.7 111.3,150.1 110.6,148.4 109.9,145.7 110.4,144.1 110.3,142.4 109.9,140.2 107.9,138.6 106.5,137.1 105.5,135.3 103.0,134.5 101.6,135.6 99.1,136.6 97.2,136.4 95.7,134.2 94.3,133.3 92.8,132.5 91.1,132.6 89.4,132.8 86.9,133.1 84.5,132.5 82.1,132.8 80.4,133.1 78.6,133.1 76.7,133.6 76.2,134.7 78.2,136.4 79.6,139.1 77.7,140.2 75.2,138.6 72.3,139.7 70.6,139.1 68.9,138.6 67.2,138.1 66.0,136.9 63.5,137.2 61.7,137.0 60.1,136.1 58.2,136.5 56.2,136.4 54.5,136.8 52.8,137.5 50.4,139.1 48.5,140.5 46.5,141.8 44.9,143.1 43.1,144.0 41.8,145.1 40.6,146.2 39.2,148.4 39.0,150.1 38.7,151.7 39.3,153.8 39.6,156.1 38.9,157.6 38.5,159.3 38.2,161.0 38.1,162.8 37.5,164.6 37.2,166.5 37.1,168.1 36.6,169.7 36.6,171.4 36.7,173.0 37.0,174.6 36.5,176.3 37.4,177.9 37.2,179.6 37.2,181.2M64.5,43.1 66.4,42.4 67.9,41.0 69.9,40.4 71.5,39.4 72.9,38.0 74.8,37.4 77.2,36.3 78.9,35.7 80.5,35.0 82.1,34.1 83.3,33.0 84.5,31.9 86.1,32.3 87.8,31.9 89.4,32.2 91.1,32.6 92.8,32.7 93.9,34.7 95.2,36.5 96.7,37.3 98.2,38.0 99.6,38.7 99.9,40.4 100.8,41.7 101.6,44.5 99.1,43.1 97.5,42.9 95.9,43.5 94.2,43.7 92.6,43.8 91.1,44.6 89.4,44.5 88.4,42.7 87.2,41.1 86.0,39.6 84.0,40.1 82.5,41.5 79.6,42.6 77.9,42.7 76.4,43.7 74.8,43.9 73.1,43.6 71.5,42.9 69.9,42.6 68.1,43.2 66.3,43.0 64.5,43.1M100.1,48.3 98.3,47.9 96.7,46.9 95.0,47.6 93.2,48.1 91.3,48.0 89.5,48.8 87.9,49.9 86.5,52.1 85.8,53.8 84.5,55.1 86.5,54.9 86.9,57.1 86.7,58.8 86.0,60.3 85.6,62.0 85.0,63.6 84.9,65.3 85.5,66.9 86.5,69.9 88.4,71.3 89.7,70.3 91.3,69.9 92.0,68.4 92.8,66.9 93.1,65.3 93.3,63.6 93.0,61.6 92.1,59.8 92.7,58.2 92.8,56.5 94.2,55.5 94.9,53.8 96.2,52.7 97.1,51.4 98.0,50.1 99.1,48.9 100.1,48.3M100.1,48.3 102.1,48.1 104.0,47.2 106.9,47.2 109.2,47.3 111.3,46.7 113.0,46.4 114.6,46.6 116.2,46.9 118.2,47.0 120.1,47.5 121.5,48.8 122.5,50.5 123.5,52.1 124.5,53.8 122.0,55.4 119.1,54.3 118.2,52.9 117.2,51.6 116.7,54.3 116.1,56.3 115.2,58.1 114.9,60.2 113.8,62.0 111.8,63.6 111.2,62.0 110.8,60.3 109.4,58.1 106.9,58.4 104.5,60.1 105.6,58.2 106.9,56.5 107.2,54.6 107.4,52.7 106.2,51.0 104.5,49.9 102.4,49.0 100.1,48.3M111.3,65.8 109.4,66.1 109.9,67.4 111.6,67.2 111.3,65.8M106.7,70.6 108.5,71.2 110.3,71.8 112.0,71.9 113.6,72.0 115.2,71.8 116.5,70.8 118.3,70.8 119.7,70.0 121.1,69.1 122.9,68.6 124.5,67.4 126.1,66.7 127.3,65.4 128.9,64.4 126.4,64.3 124.3,65.2 122.0,65.8 119.8,66.0 117.6,65.5 116.3,66.4 115.3,67.9 113.8,68.5 110.8,69.1 108.4,68.8 106.7,70.6M124.5,62.0 126.2,61.7 127.9,62.3 129.6,61.8 131.4,61.5 133.2,61.6 135.2,61.6 137.2,61.4 139.1,62.0 140.4,60.9 142.0,60.6 141.5,57.9 139.9,58.5 138.1,58.4 135.2,57.9 133.1,58.6 130.8,58.6 128.7,59.4 126.4,60.1 124.5,62.0M141.5,57.9 142.6,56.5 144.4,55.9 145.4,54.6 147.4,53.6 149.3,52.4 151.0,51.3 152.8,50.6 154.7,49.9 156.0,48.7 157.3,47.7 158.5,46.4 160.1,45.6 161.8,45.2 163.4,44.6 164.8,43.5 166.4,42.8 167.9,42.0 169.3,41.2M169.3,41.2 170.5,39.6 172.2,38.5 173.7,36.6 175.7,35.2 176.9,33.8 178.1,32.5 179.6,31.3 181.3,30.9 182.7,29.6 184.4,29.2 185.4,27.7 187.2,27.1 188.1,25.7 189.3,24.5 190.9,24.0 192.6,24.2 194.2,24.0 196.0,23.5 197.8,24.0 199.7,24.4 201.5,24.0M169.3,41.2 171.5,40.1 173.2,38.5 175.3,37.2 177.1,35.7 178.6,34.6 180.3,33.8 182.0,33.0 183.5,32.0 185.4,31.8 186.9,30.8 188.5,30.6 190.2,30.5 191.8,30.0 193.4,29.7 195.0,29.5 196.6,29.7 198.2,30.9 200.0,31.6 198.9,33.2 198.6,35.2 196.8,35.3 195.2,36.0 193.5,35.8 191.9,35.9 190.3,36.3 192.2,37.0 194.2,37.4 195.9,37.1 197.6,37.4M202.5,51.0 200.5,51.6 198.6,52.1 197.2,53.0 195.8,54.0 194.2,54.3 193.0,56.0 191.3,57.1 192.4,58.6 193.2,60.3 195.3,59.3 197.6,58.7 199.0,57.7 200.5,56.8 201.5,55.4 203.9,54.9 206.4,54.3M201.5,43.4 203.5,44.3 205.4,45.3 207.6,45.7 209.8,45.3 207.7,44.3 205.4,44.2 203.5,43.4 201.5,43.4" fill="none" stroke="#000" stroke-width="1.6" stroke-linejoin="round"/>
<path d="M118.9,151.4 120.3,151.4 120.6,152.8 119.6,152.8 118.9,151.4M133.2,152.5 135.7,153.3 137.6,154.4 137.1,156.6 136.1,155.2 135.2,153.6M134.0,161.5 133.3,163.3 132.3,164.8 133.4,166.2 134.7,167.6 135.2,164.8 134.4,163.3 134.0,161.5M139.6,159.3 140.8,160.5 142.0,161.5 142.0,163.7M49.6,28.7 50.9,27.5 53.3,26.7 54.8,27.8 52.8,29.4 51.4,31.1 49.6,30.8M48.9,36.3 50.9,36.1 52.8,36.0 51.8,34.9 48.9,35.4 48.9,36.3M82.1,28.1 84.0,29.7 83.7,27.4 84.0,25.1 81.1,24.2 79.6,26.4 82.1,28.1M57.7,23.7 59.3,23.7 60.9,23.4 62.6,23.7 64.3,24.5 66.0,25.3 63.5,24.8 61.8,25.0 60.1,24.8M41.1,23.1 43.5,22.9 43.5,20.8 44.0,18.8 42.9,17.5 41.9,16.1 40.6,14.9 40.4,16.6 39.6,18.2 40.5,19.8 41.1,21.5 41.1,23.1M34.8,24.2 34.3,22.0 33.4,20.7 32.6,19.3 31.4,18.2 29.9,16.6 31.3,18.2 32.8,19.9 33.6,21.5 34.3,23.1M28.0,17.1 26.4,15.5 24.5,14.4 24.8,12.7 25.5,11.1 23.1,9.5M9.4,36.8 11.3,37.4 13.3,37.6 16.2,38.5 17.7,38.5 19.2,39.3M22.6,45.0 23.7,46.6 24.5,48.3 24.0,50.0 23.1,51.6 25.0,53.8 24.0,55.4M122.0,45.6 123.8,45.6 125.5,46.1 124.0,45.3M151.8,18.8 153.4,17.8 155.2,17.1 156.3,18.6 157.6,19.9M160.5,34.1 161.9,33.2 163.5,32.7 162.5,34.1M150.3,33.0 152.0,32.5 153.7,31.9 155.2,33.5M177.1,19.3 178.2,18.0 179.1,16.6 181.0,18.8 179.6,20.4 177.1,19.3M121.1,11.7 122.0,13.0 122.7,14.4 123.8,15.6 124.5,17.1 126.3,15.8 128.4,14.9 128.7,13.2 129.4,11.7" fill="none" stroke="#000" stroke-width="2.0" stroke-linejoin="round" stroke-linecap="round"/>
</g></g>
<g transform="translate(409,0)">
<path d="M11.4 25.3L21.1 25.3L30.9 25.3L40.6 25.3L40.6 36.3L40.6 47.2L50.4 47.2L60.1 47.2L60.1 36.3L69.9 36.3L69.9 47.2L79.6 47.2L79.6 58.1L79.6 69.1L79.6 80.0L89.4 80.0L99.1 80.0L108.9 80.0L118.6 80.0L128.4 80.0L128.4 69.1L138.1 69.1L138.1 58.1L138.1 47.2L147.9 47.2L157.6 47.2L157.6 36.3L167.4 36.3L167.4 47.2L167.4 58.1L167.4 69.1L157.6 69.1L147.9 69.1L147.9 80.0L138.1 80.0L138.1 91.0L138.1 101.9L128.4 101.9L128.4 112.8L118.6 112.8L118.6 123.8L108.9 123.8L108.9 134.7L99.1 134.7L99.1 123.8L89.4 123.8L79.6 123.8L69.9 123.8L69.9 134.7L60.1 134.7L50.4 134.7L40.6 134.7L30.9 134.7L30.9 145.7L30.9 156.6L30.9 167.6L21.1 167.6L21.1 156.6L11.4 156.6L11.4 145.7L11.4 134.7L11.4 123.8L11.4 112.8L11.4 101.9L11.4 91.0L11.4 80.0L11.4 69.1L11.4 58.1L11.4 47.2L11.4 36.3L1.6 36.3L1.6 25.3Z" fill="#000080"/>
<path d="M30.9 30.8L40.6 30.8L40.6 36.3L40.6 47.2L50.4 47.2L60.1 47.2L60.1 41.7L69.9 41.7L69.9 47.2L79.6 47.2L79.6 58.1L79.6 69.1L79.6 80.0L89.4 80.0L99.1 80.0L108.9 80.0L118.6 80.0L128.4 80.0L128.4 69.1L138.1 69.1L138.1 58.1L138.1 47.2L147.9 47.2L152.8 47.2L157.6 49.9L167.4 49.9L167.4 58.1L167.4 69.1L157.6 69.1L147.9 69.1L147.9 80.0L138.1 80.0L138.1 91.0L138.1 101.9L128.4 101.9L128.4 112.8L118.6 112.8L118.6 123.8L108.9 123.8L108.9 134.7L99.1 134.7L99.1 123.8L89.4 123.8L79.6 123.8L69.9 123.8L69.9 134.7L60.1 134.7L50.4 134.7L40.6 134.7L30.9 134.7L30.9 145.7L30.9 156.6L30.9 167.6L21.1 167.6L21.1 156.6L11.4 156.6L11.4 145.7L11.4 134.7L11.4 123.8L11.4 112.8L11.4 107.4L13.8 101.9L16.2 91.0L16.2 80.0L16.2 69.1L21.1 63.6L23.6 58.1L26.0 47.2L26.0 36.3Z" fill="#0000cd"/>
<path d="M40.6 41.7L40.6 47.2L45.5 47.2L50.4 52.7L60.1 52.7L65.0 58.1L69.9 60.9L79.6 63.6L79.6 69.1L79.6 80.0L89.4 80.0L99.1 80.0L108.9 80.0L113.8 80.0L113.8 91.0L108.9 96.4L106.4 101.9L108.9 107.4L118.6 104.6L123.5 101.9L128.4 96.4L133.2 91.0L133.2 80.0L133.2 69.1L138.1 69.1L138.1 63.6L143.0 58.1L147.9 52.7L157.6 55.4L167.4 55.4L167.4 58.1L167.4 69.1L162.5 69.1L157.6 63.6L152.8 69.1L147.9 69.1L147.9 80.0L138.1 80.0L138.1 91.0L138.1 101.9L128.4 101.9L128.4 112.8L118.6 112.8L118.6 123.8L108.9 123.8L108.9 134.7L99.1 134.7L99.1 123.8L89.4 123.8L79.6 123.8L69.9 123.8L69.9 134.7L60.1 134.7L50.4 134.7L40.6 134.7L30.9 134.7L30.9 145.7L30.9 156.6L30.9 167.6L26.0 167.6L21.1 164.8L21.1 156.6L11.4 156.6L11.4 145.7L11.4 134.7L11.4 129.3L13.8 123.8L16.2 112.8L18.7 101.9L21.1 96.4L23.6 91.0L26.0 80.0L26.0 69.1L28.4 58.1L30.9 52.7L35.8 47.2Z" fill="#4169e1"/>
<path d="M40.6 52.7L45.5 58.1L50.4 60.9L60.1 60.9L69.9 66.4L74.8 69.1L79.6 74.6L79.6 80.0L84.5 80.0L89.4 85.5L94.2 80.0L99.1 80.0L104.0 80.0L106.4 91.0L101.6 101.9L104.0 112.8L99.1 118.3L96.7 123.8L89.4 123.8L79.6 123.8L69.9 123.8L69.9 134.7L60.1 134.7L50.4 134.7L40.6 134.7L30.9 134.7L30.9 145.7L30.9 153.9L26.0 156.6L21.1 159.3L21.1 156.6L11.4 156.6L11.4 145.7L11.4 140.2L16.2 134.7L18.7 123.8L21.1 118.3L23.6 112.8L23.6 101.9L28.4 91.0L30.9 85.5L33.3 80.0L35.8 69.1L35.8 58.1ZM147.9 74.6L147.9 80.0L143.0 80.0ZM118.6 110.1L128.4 107.4L128.4 112.8L118.6 112.8L118.6 123.8L113.8 123.8L113.8 112.8Z" fill="#1e90ff"/>
<path d="M50.4 66.4L60.1 66.4L65.0 69.1L67.4 80.0L69.9 85.5L79.6 85.5L84.5 91.0L79.6 96.4L69.9 96.4L67.4 101.9L67.4 112.8L69.9 118.3L74.8 112.8L79.6 107.4L84.5 112.8L89.4 118.3L91.8 123.8L89.4 123.8L79.6 123.8L69.9 123.8L69.9 134.7L60.1 134.7L50.4 134.7L40.6 134.7L30.9 134.7L30.9 145.7L30.9 148.4L21.1 151.1L16.2 145.7L21.1 140.2L23.6 134.7L26.0 123.8L28.4 112.8L28.4 101.9L30.9 96.4L32.5 91.0L38.2 80.0L40.6 74.6L45.5 69.1ZM99.1 85.5L101.6 91.0L99.1 96.4L94.2 91.0ZM89.4 96.4L94.2 101.9L89.4 107.4L84.5 101.9Z" fill="#00bfff"/>
<path d="M50.4 74.6L60.1 74.6L62.6 80.0L68.2 91.0L62.6 101.9L62.6 112.8L65.0 123.8L65.0 134.7L60.1 134.7L50.4 134.7L40.6 134.7L30.9 134.7L30.9 140.2L28.4 134.7L30.9 129.3L33.3 123.8L32.1 112.8L32.5 101.9L35.8 91.0L40.6 82.8L45.5 80.0ZM47.9 123.8L50.4 126.5L55.2 123.8L50.4 118.3Z" fill="#a4d2fe"/>
<path d="M40.6 88.2L45.5 91.0L47.9 101.9L48.8 112.8L43.1 123.8L40.6 129.3L38.2 123.8L34.5 112.8L35.8 101.9L39.0 91.0ZM60.1 82.8L65.0 91.0L60.1 99.2L52.8 91.0ZM50.4 132.0L55.2 134.7L50.4 134.7L45.5 134.7Z" fill="#d2f2ff"/>
<path d="M60.1 88.2L61.8 91.0L60.1 93.7L57.7 91.0ZM40.6 96.4L43.1 101.9L45.5 112.8L40.6 121.1L37.0 112.8L39.0 101.9Z" fill="#fffac8"/>
<path d="M40.6 107.4L42.2 112.8L40.6 115.6L39.4 112.8Z" fill="#ffd93c"/>
<g clip-path="url(#cpA)">
<path d="M-22.8,30.8 49.6,30.8M49.6,28.7 51.4,29.2 52.3,32.3 56.2,33.4 60.1,33.0 65.0,34.4 69.9,35.2 74.8,35.7 76.7,36.3M18.7,30.8 18.7,8.9M49.6,28.7 49.6,8.9M125.9,8.9 125.9,17.1 125.9,39.0 126.9,41.7 129.4,45.6 135.7,47.8 141.5,49.9 150.3,51.0 151.3,52.7M149.3,52.7 164.9,52.7M164.9,52.7 166.9,51.0 169.3,49.4 171.3,45.6 172.2,43.4 176.1,39.3 180.5,39.8 183.0,41.5 183.0,48.9 184.7,49.4 185.9,51.6 186.9,53.0M6.3,30.8 6.3,74.6M-27.6,52.7 6.3,52.7M-27.6,74.6 16.0,74.6M16.0,74.6 16.0,96.4M6.3,47.5 42.8,47.5M6.3,63.6 33.3,63.6 38.2,64.4 41.1,65.0 43.3,66.4M16.0,80.0 48.9,80.0M-17.9,96.4 52.2,96.4M11.4,96.4 11.4,99.2 26.0,99.2 26.0,109.8M11.1,99.2 11.1,123.8 -6.2,123.8M26.0,109.8 28.4,110.7 30.9,111.8 33.3,112.3 35.8,112.8 38.2,113.7 40.6,114.2 43.1,113.9 45.5,113.7 47.9,113.4 50.4,113.7 52.9,114.8 55.1,115.3M55.1,115.3 55.1,118.3M55.1,118.3 55.1,123.8 56.2,126.5 57.4,129.3 56.7,132.0 56.5,134.7 56.0,136.4M55.1,118.3 69.1,118.3M52.9,114.8 53.2,105.2 52.2,99.2 52.2,85.0M52.2,85.0 50.9,82.8 49.9,81.1 48.9,80.0 46.6,76.7 46.2,74.6 46.0,71.8 45.0,69.1 43.3,66.4M43.3,66.4 42.6,63.6 43.3,60.9 43.3,51.0 42.8,47.5 41.8,44.5 41.6,41.7 40.6,37.9 40.1,34.6 39.5,30.8M43.3,60.9 68.8,60.9M46.6,76.7 66.3,76.7 67.8,78.0M52.2,99.2 74.0,99.2 72.9,101.9 76.1,101.9M64.5,43.1 63.5,46.7 61.3,49.7 61.1,52.7 63.5,55.4 66.5,57.1 68.9,60.9 69.1,63.6 71.6,66.4 73.8,69.6 71.8,71.8 69.4,74.0 67.8,78.0 68.4,81.1 71.3,84.4 73.8,86.6 73.8,89.3 76.7,93.2 77.2,94.8 78.9,96.4 78.6,98.6 77.2,99.2 76.2,101.9 74.5,105.2 74.3,107.4 71.8,110.1 70.4,112.8 69.1,118.3 69.4,121.1 69.9,123.8 67.0,129.3M67.0,129.3 76.1,129.3 76.7,131.4 76.9,133.6M71.6,66.4 85.5,66.4M86.5,52.1 85.5,49.4 82.1,47.8 77.2,46.7 72.8,44.2M88.4,70.5 100.1,70.7 106.7,70.6M86.8,70.5 86.8,83.3 86.5,86.0 85.7,89.3 84.3,92.1M100.1,70.7 100.1,85.0M121.0,69.1 121.0,76.5M78.9,96.4 82.1,95.9 84.3,92.1 86.9,91.5 90.4,91.2 92.8,91.0 95.2,89.3 97.7,87.1 100.1,85.0 103.0,86.6 105.5,87.4 108.9,87.1 110.8,88.8 112.8,86.6 114.7,85.0 117.2,83.3 119.1,81.1 120.6,78.4 121.0,76.5M77.2,99.2 84.3,99.2 84.3,98.2 94.2,98.5 105.6,98.6 115.3,98.6 123.5,98.9 133.2,98.9 143.6,98.9M105.6,98.6 108.9,97.3 110.8,95.3 112.3,93.7 114.0,93.4 110.8,90.1 110.8,88.8M114.0,93.4 117.6,94.8 121.1,94.0 122.5,91.5 124.5,89.3 125.9,88.0 126.9,86.0 129.8,85.2 131.5,83.3 134.2,83.9 134.7,83.9M126.0,81.6 126.0,84.4 128.9,83.0 131.5,82.2 134.2,83.0 135.7,85.0 137.6,86.0 137.1,87.7 138.6,89.3 141.5,91.0M121.0,81.6 144.0,81.6M144.0,81.6 144.1,88.5 147.6,88.5M121.0,69.1 124.7,67.6 124.7,69.1 146.1,69.1M146.1,69.1 147.4,70.2 149.3,72.6 147.4,75.4 147.9,77.8 149.1,79.2 147.4,80.6 145.4,81.7 145.2,82.8M149.3,72.6 152.8,74.6M155.2,74.0 155.2,68.8 156.3,65.0 156.4,52.7M155.2,68.8 163.5,69.0 163.5,72.9M165.5,69.0 165.5,71.8M156.3,65.0 165.9,65.3 167.6,64.4M160.3,65.1 160.5,60.9 162.3,56.5 164.9,52.7M168.8,63.1 167.6,60.9 167.0,55.4 167.0,51.0M73.3,107.4 102.4,107.4M83.5,107.4 84.0,112.8 82.2,124.3 82.5,129.3 82.5,132.5M96.2,107.4 98.1,118.3 99.1,122.1 98.6,126.0 99.1,129.3M86.5,129.3 99.1,129.3M86.5,129.3 87.2,132.0 86.9,133.1M99.1,129.3 99.8,130.9 112.8,131.6 113.8,132.5 115.0,132.0 116.2,130.9M102.4,107.4 104.5,106.3 106.4,104.4 108.9,103.3 111.3,101.9 113.8,101.1 115.3,98.6M108.4,107.4 109.9,110.1 112.3,112.8 114.2,115.6 116.2,118.3 118.1,122.7 119.1,123.8M108.4,107.4 113.8,106.3 118.6,106.6 119.1,108.5 125.0,108.5 130.6,113.7M-6.2,123.8 -5.2,125.2 -0.8,129.3 2.6,132.0 4.1,136.4 7.0,138.6 10.4,140.2 12.8,136.4 14.8,135.6 19.2,136.1 22.1,138.6 24.5,142.9 27.5,147.3 28.9,150.6 30.4,153.9 34.3,156.1 38.2,157.2 39.9,156.9M-5.7,159.3 1.6,153.9 5.5,152.8 9.9,162.1 15.3,164.3M10.4,140.2 12.8,145.7 13.8,151.1 11.4,156.6M26.0,145.7 24.5,148.4 27.0,153.9 28.4,159.3 31.9,162.1 34.3,166.5M15.3,164.3 21.1,159.3 23.6,152.2 24.5,148.4M37.2,167.6 34.3,166.5 29.9,170.3 28.4,174.1" fill="none" stroke="#111" stroke-width="0.9" stroke-linejoin="round"/>
<path d="M197.6,37.4 195.2,37.4 193.2,38.5 194.8,39.2 196.3,40.0 197.6,41.2 198.6,43.9 200.0,45.1 201.5,46.1 203.2,46.6 204.4,47.8 202.9,48.5 201.5,49.4 199.6,50.2 197.6,50.8 194.7,51.6 192.9,51.8 191.3,51.3 188.8,52.1 186.9,53.0 184.9,54.6 183.5,55.3 182.0,56.0 179.6,56.5 177.1,57.6 175.8,58.7 174.2,59.0 171.3,60.1 170.3,61.5 169.3,62.8 168.4,64.7 167.9,66.4 167.4,67.4 168.8,68.5 169.8,69.9 171.8,70.5 172.5,69.6 172.0,68.8 172.5,70.7 172.2,71.6 169.8,71.6 167.9,71.6 165.4,72.1 163.0,72.9 160.1,73.2 157.6,73.5 154.7,74.6 153.2,75.7 152.8,77.3 152.5,79.5 152.0,81.7 150.3,83.6 148.4,85.8 147.4,84.4 145.7,83.3 145.2,82.2 145.9,83.9 147.4,86.6 147.6,88.8 146.7,91.0 146.1,92.5 145.0,93.7 143.2,95.6 143.0,93.2 143.5,90.4 142.0,87.7 141.4,86.1 141.5,84.4 142.5,82.5 140.6,84.1 140.8,86.6 140.6,88.8 141.5,91.0 141.3,93.2 141.5,95.9 143.0,97.0 143.5,98.9 144.2,101.4 145.4,104.1 145.4,106.0 143.5,106.6 142.1,107.8 140.6,109.0 138.5,109.3 136.7,110.1 135.5,112.0 133.7,113.4 132.1,113.8 130.3,113.7 128.8,115.1 127.4,116.7 125.4,117.9 124.0,119.7 122.5,120.6 121.1,121.6 118.6,123.5 118.0,125.3 117.2,127.1 116.4,128.9 116.4,130.9 117.0,132.8 116.7,134.7 117.6,137.5 119.1,140.2 119.5,142.0 120.6,143.5 121.1,145.1 121.3,146.8 122.3,148.9 122.8,151.1 123.3,153.9 123.5,155.8 123.0,157.7 121.8,160.4 119.1,161.3 117.9,161.0 117.2,158.8 115.2,156.9 114.2,153.9 112.3,151.7 111.3,150.1 110.6,148.4 109.9,145.7 110.4,144.1 110.3,142.4 109.9,140.2 107.9,138.6 106.5,137.1 105.5,135.3 103.0,134.5 101.6,135.6 99.1,136.6 97.2,136.4 95.7,134.2 94.3,133.3 92.8,132.5 91.1,132.6 89.4,132.8 86.9,133.1 84.5,132.5 82.1,132.8 80.4,133.1 78.6,133.1 76.7,133.6 76.2,134.7 78.2,136.4 79.6,139.1 77.7,140.2 75.2,138.6 72.3,139.7 70.6,139.1 68.9,138.6 67.2,138.1 66.0,136.9 63.5,137.2 61.7,137.0 60.1,136.1 58.2,136.5 56.2,136.4 54.5,136.8 52.8,137.5 50.4,139.1 48.5,140.5 46.5,141.8 44.9,143.1 43.1,144.0 41.8,145.1 40.6,146.2 39.2,148.4 39.0,150.1 38.7,151.7 39.3,153.8 39.6,156.1 38.9,157.6 38.5,159.3 38.2,161.0 38.1,162.8 37.5,164.6 37.2,166.5 37.1,168.1 36.6,169.7 36.6,171.4 36.7,173.0 37.0,174.6 36.5,176.3 37.4,177.9 37.2,179.6 37.2,181.2M64.5,43.1 66.4,42.4 67.9,41.0 69.9,40.4 71.5,39.4 72.9,38.0 74.8,37.4 77.2,36.3 78.9,35.7 80.5,35.0 82.1,34.1 83.3,33.0 84.5,31.9 86.1,32.3 87.8,31.9 89.4,32.2 91.1,32.6 92.8,32.7 93.9,34.7 95.2,36.5 96.7,37.3 98.2,38.0 99.6,38.7 99.9,40.4 100.8,41.7 101.6,44.5 99.1,43.1 97.5,42.9 95.9,43.5 94.2,43.7 92.6,43.8 91.1,44.6 89.4,44.5 88.4,42.7 87.2,41.1 86.0,39.6 84.0,40.1 82.5,41.5 79.6,42.6 77.9,42.7 76.4,43.7 74.8,43.9 73.1,43.6 71.5,42.9 69.9,42.6 68.1,43.2 66.3,43.0 64.5,43.1M100.1,48.3 98.3,47.9 96.7,46.9 95.0,47.6 93.2,48.1 91.3,48.0 89.5,48.8 87.9,49.9 86.5,52.1 85.8,53.8 84.5,55.1 86.5,54.9 86.9,57.1 86.7,58.8 86.0,60.3 85.6,62.0 85.0,63.6 84.9,65.3 85.5,66.9 86.5,69.9 88.4,71.3 89.7,70.3 91.3,69.9 92.0,68.4 92.8,66.9 93.1,65.3 93.3,63.6 93.0,61.6 92.1,59.8 92.7,58.2 92.8,56.5 94.2,55.5 94.9,53.8 96.2,52.7 97.1,51.4 98.0,50.1 99.1,48.9 100.1,48.3M100.1,48.3 102.1,48.1 104.0,47.2 106.9,47.2 109.2,47.3 111.3,46.7 113.0,46.4 114.6,46.6 116.2,46.9 118.2,47.0 120.1,47.5 121.5,48.8 122.5,50.5 123.5,52.1 124.5,53.8 122.0,55.4 119.1,54.3 118.2,52.9 117.2,51.6 116.7,54.3 116.1,56.3 115.2,58.1 114.9,60.2 113.8,62.0 111.8,63.6 111.2,62.0 110.8,60.3 109.4,58.1 106.9,58.4 104.5,60.1 105.6,58.2 106.9,56.5 107.2,54.6 107.4,52.7 106.2,51.0 104.5,49.9 102.4,49.0 100.1,48.3M111.3,65.8 109.4,66.1 109.9,67.4 111.6,67.2 111.3,65.8M106.7,70.6 108.5,71.2 110.3,71.8 112.0,71.9 113.6,72.0 115.2,71.8 116.5,70.8 118.3,70.8 119.7,70.0 121.1,69.1 122.9,68.6 124.5,67.4 126.1,66.7 127.3,65.4 128.9,64.4 126.4,64.3 124.3,65.2 122.0,65.8 119.8,66.0 117.6,65.5 116.3,66.4 115.3,67.9 113.8,68.5 110.8,69.1 108.4,68.8 106.7,70.6M124.5,62.0 126.2,61.7 127.9,62.3 129.6,61.8 131.4,61.5 133.2,61.6 135.2,61.6 137.2,61.4 139.1,62.0 140.4,60.9 142.0,60.6 141.5,57.9 139.9,58.5 138.1,58.4 135.2,57.9 133.1,58.6 130.8,58.6 128.7,59.4 126.4,60.1 124.5,62.0M141.5,57.9 142.6,56.5 144.4,55.9 145.4,54.6 147.4,53.6 149.3,52.4 151.0,51.3 152.8,50.6 154.7,49.9 156.0,48.7 157.3,47.7 158.5,46.4 160.1,45.6 161.8,45.2 163.4,44.6 164.8,43.5 166.4,42.8 167.9,42.0 169.3,41.2M169.3,41.2 170.5,39.6 172.2,38.5 173.7,36.6 175.7,35.2 176.9,33.8 178.1,32.5 179.6,31.3 181.3,30.9 182.7,29.6 184.4,29.2 185.4,27.7 187.2,27.1 188.1,25.7 189.3,24.5 190.9,24.0 192.6,24.2 194.2,24.0 196.0,23.5 197.8,24.0 199.7,24.4 201.5,24.0M169.3,41.2 171.5,40.1 173.2,38.5 175.3,37.2 177.1,35.7 178.6,34.6 180.3,33.8 182.0,33.0 183.5,32.0 185.4,31.8 186.9,30.8 188.5,30.6 190.2,30.5 191.8,30.0 193.4,29.7 195.0,29.5 196.6,29.7 198.2,30.9 200.0,31.6 198.9,33.2 198.6,35.2 196.8,35.3 195.2,36.0 193.5,35.8 191.9,35.9 190.3,36.3 192.2,37.0 194.2,37.4 195.9,37.1 197.6,37.4M202.5,51.0 200.5,51.6 198.6,52.1 197.2,53.0 195.8,54.0 194.2,54.3 193.0,56.0 191.3,57.1 192.4,58.6 193.2,60.3 195.3,59.3 197.6,58.7 199.0,57.7 200.5,56.8 201.5,55.4 203.9,54.9 206.4,54.3M201.5,43.4 203.5,44.3 205.4,45.3 207.6,45.7 209.8,45.3 207.7,44.3 205.4,44.2 203.5,43.4 201.5,43.4" fill="none" stroke="#000" stroke-width="1.6" stroke-linejoin="round"/>
<path d="M118.9,151.4 120.3,151.4 120.6,152.8 119.6,152.8 118.9,151.4M133.2,152.5 135.7,153.3 137.6,154.4 137.1,156.6 136.1,155.2 135.2,153.6M134.0,161.5 133.3,163.3 132.3,164.8 133.4,166.2 134.7,167.6 135.2,164.8 134.4,163.3 134.0,161.5M139.6,159.3 140.8,160.5 142.0,161.5 142.0,163.7M49.6,28.7 50.9,27.5 53.3,26.7 54.8,27.8 52.8,29.4 51.4,31.1 49.6,30.8M48.9,36.3 50.9,36.1 52.8,36.0 51.8,34.9 48.9,35.4 48.9,36.3M82.1,28.1 84.0,29.7 83.7,27.4 84.0,25.1 81.1,24.2 79.6,26.4 82.1,28.1M57.7,23.7 59.3,23.7 60.9,23.4 62.6,23.7 64.3,24.5 66.0,25.3 63.5,24.8 61.8,25.0 60.1,24.8M41.1,23.1 43.5,22.9 43.5,20.8 44.0,18.8 42.9,17.5 41.9,16.1 40.6,14.9 40.4,16.6 39.6,18.2 40.5,19.8 41.1,21.5 41.1,23.1M34.8,24.2 34.3,22.0 33.4,20.7 32.6,19.3 31.4,18.2 29.9,16.6 31.3,18.2 32.8,19.9 33.6,21.5 34.3,23.1M28.0,17.1 26.4,15.5 24.5,14.4 24.8,12.7 25.5,11.1 23.1,9.5M9.4,36.8 11.3,37.4 13.3,37.6 16.2,38.5 17.7,38.5 19.2,39.3M22.6,45.0 23.7,46.6 24.5,48.3 24.0,50.0 23.1,51.6 25.0,53.8 24.0,55.4M122.0,45.6 123.8,45.6 125.5,46.1 124.0,45.3M151.8,18.8 153.4,17.8 155.2,17.1 156.3,18.6 157.6,19.9M160.5,34.1 161.9,33.2 163.5,32.7 162.5,34.1M150.3,33.0 152.0,32.5 153.7,31.9 155.2,33.5M177.1,19.3 178.2,18.0 179.1,16.6 181.0,18.8 179.6,20.4 177.1,19.3M121.1,11.7 122.0,13.0 122.7,14.4 123.8,15.6 124.5,17.1 126.3,15.8 128.4,14.9 128.7,13.2 129.4,11.7" fill="none" stroke="#000" stroke-width="2.0" stroke-linejoin="round" stroke-linecap="round"/>
</g></g>
<g transform="translate(613.5,0)">
<path d="M21.1 36.3L30.9 36.3L40.6 36.3L40.6 47.2L50.4 47.2L60.1 47.2L69.9 47.2L79.6 47.2L79.6 58.1L79.6 69.1L79.6 80.0L89.4 80.0L99.1 80.0L108.9 80.0L118.6 80.0L128.4 80.0L128.4 69.1L138.1 69.1L138.1 58.1L147.9 58.1L147.9 47.2L157.6 47.2L167.4 47.2L167.4 58.1L167.4 69.1L157.6 69.1L147.9 69.1L147.9 80.0L138.1 80.0L138.1 91.0L138.1 101.9L128.4 101.9L128.4 112.8L118.6 112.8L118.6 123.8L118.6 134.7L108.9 134.7L99.1 134.7L99.1 123.8L89.4 123.8L79.6 123.8L69.9 123.8L69.9 134.7L60.1 134.7L50.4 134.7L40.6 134.7L30.9 134.7L30.9 145.7L30.9 156.6L30.9 167.6L21.1 167.6L11.4 167.6L11.4 156.6L11.4 145.7L1.6 145.7L1.6 134.7L11.4 134.7L11.4 123.8L11.4 112.8L11.4 101.9L11.4 91.0L1.6 91.0L1.6 80.0L1.6 69.1L1.6 58.1L11.4 58.1L11.4 47.2L11.4 36.3Z" fill="#000080"/>
<path d="M40.6 41.7L40.6 47.2L50.4 47.2L60.1 47.2L69.9 47.2L79.6 47.2L79.6 58.1L79.6 69.1L79.6 80.0L89.4 80.0L99.1 80.0L108.9 80.0L118.6 80.0L128.4 80.0L128.4 69.1L138.1 69.1L138.1 58.1L147.9 58.1L147.9 47.2L157.6 47.2L167.4 47.2L167.4 58.1L167.4 69.1L157.6 69.1L147.9 69.1L147.9 80.0L138.1 80.0L138.1 91.0L138.1 101.9L128.4 101.9L128.4 112.8L118.6 112.8L118.6 123.8L118.6 134.7L108.9 134.7L99.1 134.7L99.1 123.8L89.4 123.8L79.6 123.8L69.9 123.8L69.9 134.7L60.1 134.7L50.4 134.7L40.6 134.7L30.9 134.7L30.9 145.7L30.9 156.6L30.9 167.6L23.6 167.6L21.1 162.1L11.4 164.8L11.4 156.6L11.4 145.7L4.1 145.7L6.5 134.7L11.4 134.7L11.4 123.8L11.4 112.8L11.4 107.4L16.2 112.8L21.1 118.3L26.0 112.8L26.0 101.9L26.0 91.0L21.1 85.5L16.2 80.0L11.4 74.6L6.5 69.1L11.4 63.6L21.1 63.6L30.9 63.6L33.3 58.1L35.8 47.2ZM116.2 91.0L118.6 96.4L123.5 91.0L118.6 85.5Z" fill="#0000cd"/>
<path d="M40.6 52.7L50.4 52.7L60.1 52.7L69.9 52.7L74.8 58.1L74.8 69.1L79.6 71.8L79.6 80.0L89.4 80.0L99.1 80.0L108.9 80.0L113.8 80.0L111.3 91.0L108.9 96.4L106.4 101.9L108.9 107.4L118.6 103.0L119.6 101.9L128.4 92.1L130.0 91.0L133.2 80.0L133.2 69.1L138.1 69.1L138.1 63.6L147.9 63.6L152.8 69.1L147.9 69.1L147.9 80.0L138.1 80.0L138.1 91.0L138.1 101.9L128.4 101.9L128.4 112.8L118.6 112.8L118.6 123.8L118.6 134.7L108.9 134.7L99.1 134.7L99.1 123.8L89.4 123.8L79.6 123.8L69.9 123.8L69.9 134.7L60.1 134.7L50.4 134.7L40.6 134.7L30.9 134.7L30.9 145.7L30.9 156.6L30.9 167.6L28.4 167.6L26.0 156.6L26.0 145.7L26.0 134.7L26.0 123.8L30.9 118.3L33.3 112.8L33.3 101.9L35.8 91.0L35.8 80.0L35.8 69.1L38.2 58.1ZM86.9 91.0L89.4 93.7L94.2 91.0L89.4 85.5ZM167.4 52.7L167.4 58.1L167.4 63.6L162.5 58.1ZM11.4 140.2L16.2 145.7L16.2 156.6L11.4 159.3L11.4 156.6L11.4 145.7L8.9 145.7Z" fill="#4169e1"/>
<path d="M50.4 63.6L60.1 63.6L65.0 69.1L69.9 74.6L79.6 77.3L79.6 80.0L84.5 80.0L82.1 91.0L89.4 99.2L99.1 96.4L101.6 101.9L104.0 112.8L108.9 114.2L110.1 112.8L118.6 105.2L121.5 101.9L128.4 94.3L133.2 91.0L138.1 82.8L138.1 91.0L138.1 101.9L128.4 101.9L128.4 112.8L118.6 112.8L118.6 123.8L118.6 134.7L108.9 134.7L99.1 134.7L99.1 123.8L89.4 123.8L79.6 123.8L69.9 123.8L69.9 134.7L60.1 134.7L50.4 134.7L40.6 134.7L33.3 134.7L35.8 123.8L38.2 112.8L38.2 101.9L40.6 96.4L45.5 91.0L43.1 80.0L45.5 69.1ZM147.9 74.6L147.9 80.0L143.0 80.0Z" fill="#1e90ff"/>
<path d="M50.4 74.6L55.2 80.0L50.4 85.5L47.9 80.0ZM138.1 88.2L138.1 91.0L138.1 101.9L128.4 101.9L128.4 112.8L118.6 112.8L118.6 123.8L118.6 134.7L108.9 134.7L99.1 134.7L99.1 123.8L91.8 123.8L99.1 115.6L108.9 117.0L112.5 112.8L118.6 107.4L123.5 101.9L128.4 96.4L136.5 91.0ZM50.4 107.4L55.2 112.8L60.1 115.6L69.9 118.3L74.8 112.8L79.6 107.4L84.5 112.8L86.9 123.8L79.6 123.8L69.9 123.8L69.9 134.7L60.1 134.7L50.4 134.7L40.6 134.7L38.2 134.7L40.6 129.3L50.4 126.5L52.8 123.8L50.4 118.3L45.5 112.8Z" fill="#00bfff"/>
<path d="M128.4 98.6L138.1 92.8L138.1 101.9L128.4 101.9L128.4 112.8L118.6 112.8L118.6 123.8L118.6 134.7L108.9 134.7L99.1 134.7L99.1 123.8L96.7 123.8L99.1 121.1L108.9 119.7L115.0 112.8L118.6 109.6L125.4 101.9ZM60.1 121.1L65.0 123.8L69.9 126.5L69.9 134.7L60.1 134.7L50.4 134.7L45.5 134.7L50.4 132.0L57.7 123.8ZM79.6 118.3L82.1 123.8L79.6 123.8L74.8 123.8Z" fill="#a4d2fe"/>
<path d="M128.4 100.8L138.1 96.4L138.1 101.9L128.4 101.9L128.4 112.8L118.6 112.8L118.6 123.8L118.6 134.7L108.9 134.7L99.1 134.7L99.1 129.3L104.0 123.8L108.9 122.4L117.4 112.8L118.6 111.8L127.4 101.9ZM69.9 132.0L69.9 134.7L65.0 134.7Z" fill="#d2f2ff"/>
<path d="M138.1 100.1L138.1 101.9L133.2 101.9ZM118.6 118.3L118.6 123.8L118.6 129.3L113.8 123.8Z" fill="#fffac8"/>
<g clip-path="url(#cpA)">
<path d="M-22.8,30.8 49.6,30.8M49.6,28.7 51.4,29.2 52.3,32.3 56.2,33.4 60.1,33.0 65.0,34.4 69.9,35.2 74.8,35.7 76.7,36.3M18.7,30.8 18.7,8.9M49.6,28.7 49.6,8.9M125.9,8.9 125.9,17.1 125.9,39.0 126.9,41.7 129.4,45.6 135.7,47.8 141.5,49.9 150.3,51.0 151.3,52.7M149.3,52.7 164.9,52.7M164.9,52.7 166.9,51.0 169.3,49.4 171.3,45.6 172.2,43.4 176.1,39.3 180.5,39.8 183.0,41.5 183.0,48.9 184.7,49.4 185.9,51.6 186.9,53.0M6.3,30.8 6.3,74.6M-27.6,52.7 6.3,52.7M-27.6,74.6 16.0,74.6M16.0,74.6 16.0,96.4M6.3,47.5 42.8,47.5M6.3,63.6 33.3,63.6 38.2,64.4 41.1,65.0 43.3,66.4M16.0,80.0 48.9,80.0M-17.9,96.4 52.2,96.4M11.4,96.4 11.4,99.2 26.0,99.2 26.0,109.8M11.1,99.2 11.1,123.8 -6.2,123.8M26.0,109.8 28.4,110.7 30.9,111.8 33.3,112.3 35.8,112.8 38.2,113.7 40.6,114.2 43.1,113.9 45.5,113.7 47.9,113.4 50.4,113.7 52.9,114.8 55.1,115.3M55.1,115.3 55.1,118.3M55.1,118.3 55.1,123.8 56.2,126.5 57.4,129.3 56.7,132.0 56.5,134.7 56.0,136.4M55.1,118.3 69.1,118.3M52.9,114.8 53.2,105.2 52.2,99.2 52.2,85.0M52.2,85.0 50.9,82.8 49.9,81.1 48.9,80.0 46.6,76.7 46.2,74.6 46.0,71.8 45.0,69.1 43.3,66.4M43.3,66.4 42.6,63.6 43.3,60.9 43.3,51.0 42.8,47.5 41.8,44.5 41.6,41.7 40.6,37.9 40.1,34.6 39.5,30.8M43.3,60.9 68.8,60.9M46.6,76.7 66.3,76.7 67.8,78.0M52.2,99.2 74.0,99.2 72.9,101.9 76.1,101.9M64.5,43.1 63.5,46.7 61.3,49.7 61.1,52.7 63.5,55.4 66.5,57.1 68.9,60.9 69.1,63.6 71.6,66.4 73.8,69.6 71.8,71.8 69.4,74.0 67.8,78.0 68.4,81.1 71.3,84.4 73.8,86.6 73.8,89.3 76.7,93.2 77.2,94.8 78.9,96.4 78.6,98.6 77.2,99.2 76.2,101.9 74.5,105.2 74.3,107.4 71.8,110.1 70.4,112.8 69.1,118.3 69.4,121.1 69.9,123.8 67.0,129.3M67.0,129.3 76.1,129.3 76.7,131.4 76.9,133.6M71.6,66.4 85.5,66.4M86.5,52.1 85.5,49.4 82.1,47.8 77.2,46.7 72.8,44.2M88.4,70.5 100.1,70.7 106.7,70.6M86.8,70.5 86.8,83.3 86.5,86.0 85.7,89.3 84.3,92.1M100.1,70.7 100.1,85.0M121.0,69.1 121.0,76.5M78.9,96.4 82.1,95.9 84.3,92.1 86.9,91.5 90.4,91.2 92.8,91.0 95.2,89.3 97.7,87.1 100.1,85.0 103.0,86.6 105.5,87.4 108.9,87.1 110.8,88.8 112.8,86.6 114.7,85.0 117.2,83.3 119.1,81.1 120.6,78.4 121.0,76.5M77.2,99.2 84.3,99.2 84.3,98.2 94.2,98.5 105.6,98.6 115.3,98.6 123.5,98.9 133.2,98.9 143.6,98.9M105.6,98.6 108.9,97.3 110.8,95.3 112.3,93.7 114.0,93.4 110.8,90.1 110.8,88.8M114.0,93.4 117.6,94.8 121.1,94.0 122.5,91.5 124.5,89.3 125.9,88.0 126.9,86.0 129.8,85.2 131.5,83.3 134.2,83.9 134.7,83.9M126.0,81.6 126.0,84.4 128.9,83.0 131.5,82.2 134.2,83.0 135.7,85.0 137.6,86.0 137.1,87.7 138.6,89.3 141.5,91.0M121.0,81.6 144.0,81.6M144.0,81.6 144.1,88.5 147.6,88.5M121.0,69.1 124.7,67.6 124.7,69.1 146.1,69.1M146.1,69.1 147.4,70.2 149.3,72.6 147.4,75.4 147.9,77.8 149.1,79.2 147.4,80.6 145.4,81.7 145.2,82.8M149.3,72.6 152.8,74.6M155.2,74.0 155.2,68.8 156.3,65.0 156.4,52.7M155.2,68.8 163.5,69.0 163.5,72.9M165.5,69.0 165.5,71.8M156.3,65.0 165.9,65.3 167.6,64.4M160.3,65.1 160.5,60.9 162.3,56.5 164.9,52.7M168.8,63.1 167.6,60.9 167.0,55.4 167.0,51.0M73.3,107.4 102.4,107.4M83.5,107.4 84.0,112.8 82.2,124.3 82.5,129.3 82.5,132.5M96.2,107.4 98.1,118.3 99.1,122.1 98.6,126.0 99.1,129.3M86.5,129.3 99.1,129.3M86.5,129.3 87.2,132.0 86.9,133.1M99.1,129.3 99.8,130.9 112.8,131.6 113.8,132.5 115.0,132.0 116.2,130.9M102.4,107.4 104.5,106.3 106.4,104.4 108.9,103.3 111.3,101.9 113.8,101.1 115.3,98.6M108.4,107.4 109.9,110.1 112.3,112.8 114.2,115.6 116.2,118.3 118.1,122.7 119.1,123.8M108.4,107.4 113.8,106.3 118.6,106.6 119.1,108.5 125.0,108.5 130.6,113.7M-6.2,123.8 -5.2,125.2 -0.8,129.3 2.6,132.0 4.1,136.4 7.0,138.6 10.4,140.2 12.8,136.4 14.8,135.6 19.2,136.1 22.1,138.6 24.5,142.9 27.5,147.3 28.9,150.6 30.4,153.9 34.3,156.1 38.2,157.2 39.9,156.9M-5.7,159.3 1.6,153.9 5.5,152.8 9.9,162.1 15.3,164.3M10.4,140.2 12.8,145.7 13.8,151.1 11.4,156.6M26.0,145.7 24.5,148.4 27.0,153.9 28.4,159.3 31.9,162.1 34.3,166.5M15.3,164.3 21.1,159.3 23.6,152.2 24.5,148.4M37.2,167.6 34.3,166.5 29.9,170.3 28.4,174.1" fill="none" stroke="#111" stroke-width="0.9" stroke-linejoin="round"/>
<path d="M197.6,37.4 195.2,37.4 193.2,38.5 194.8,39.2 196.3,40.0 197.6,41.2 198.6,43.9 200.0,45.1 201.5,46.1 203.2,46.6 204.4,47.8 202.9,48.5 201.5,49.4 199.6,50.2 197.6,50.8 194.7,51.6 192.9,51.8 191.3,51.3 188.8,52.1 186.9,53.0 184.9,54.6 183.5,55.3 182.0,56.0 179.6,56.5 177.1,57.6 175.8,58.7 174.2,59.0 171.3,60.1 170.3,61.5 169.3,62.8 168.4,64.7 167.9,66.4 167.4,67.4 168.8,68.5 169.8,69.9 171.8,70.5 172.5,69.6 172.0,68.8 172.5,70.7 172.2,71.6 169.8,71.6 167.9,71.6 165.4,72.1 163.0,72.9 160.1,73.2 157.6,73.5 154.7,74.6 153.2,75.7 152.8,77.3 152.5,79.5 152.0,81.7 150.3,83.6 148.4,85.8 147.4,84.4 145.7,83.3 145.2,82.2 145.9,83.9 147.4,86.6 147.6,88.8 146.7,91.0 146.1,92.5 145.0,93.7 143.2,95.6 143.0,93.2 143.5,90.4 142.0,87.7 141.4,86.1 141.5,84.4 142.5,82.5 140.6,84.1 140.8,86.6 140.6,88.8 141.5,91.0 141.3,93.2 141.5,95.9 143.0,97.0 143.5,98.9 144.2,101.4 145.4,104.1 145.4,106.0 143.5,106.6 142.1,107.8 140.6,109.0 138.5,109.3 136.7,110.1 135.5,112.0 133.7,113.4 132.1,113.8 130.3,113.7 128.8,115.1 127.4,116.7 125.4,117.9 124.0,119.7 122.5,120.6 121.1,121.6 118.6,123.5 118.0,125.3 117.2,127.1 116.4,128.9 116.4,130.9 117.0,132.8 116.7,134.7 117.6,137.5 119.1,140.2 119.5,142.0 120.6,143.5 121.1,145.1 121.3,146.8 122.3,148.9 122.8,151.1 123.3,153.9 123.5,155.8 123.0,157.7 121.8,160.4 119.1,161.3 117.9,161.0 117.2,158.8 115.2,156.9 114.2,153.9 112.3,151.7 111.3,150.1 110.6,148.4 109.9,145.7 110.4,144.1 110.3,142.4 109.9,140.2 107.9,138.6 106.5,137.1 105.5,135.3 103.0,134.5 101.6,135.6 99.1,136.6 97.2,136.4 95.7,134.2 94.3,133.3 92.8,132.5 91.1,132.6 89.4,132.8 86.9,133.1 84.5,132.5 82.1,132.8 80.4,133.1 78.6,133.1 76.7,133.6 76.2,134.7 78.2,136.4 79.6,139.1 77.7,140.2 75.2,138.6 72.3,139.7 70.6,139.1 68.9,138.6 67.2,138.1 66.0,136.9 63.5,137.2 61.7,137.0 60.1,136.1 58.2,136.5 56.2,136.4 54.5,136.8 52.8,137.5 50.4,139.1 48.5,140.5 46.5,141.8 44.9,143.1 43.1,144.0 41.8,145.1 40.6,146.2 39.2,148.4 39.0,150.1 38.7,151.7 39.3,153.8 39.6,156.1 38.9,157.6 38.5,159.3 38.2,161.0 38.1,162.8 37.5,164.6 37.2,166.5 37.1,168.1 36.6,169.7 36.6,171.4 36.7,173.0 37.0,174.6 36.5,176.3 37.4,177.9 37.2,179.6 37.2,181.2M64.5,43.1 66.4,42.4 67.9,41.0 69.9,40.4 71.5,39.4 72.9,38.0 74.8,37.4 77.2,36.3 78.9,35.7 80.5,35.0 82.1,34.1 83.3,33.0 84.5,31.9 86.1,32.3 87.8,31.9 89.4,32.2 91.1,32.6 92.8,32.7 93.9,34.7 95.2,36.5 96.7,37.3 98.2,38.0 99.6,38.7 99.9,40.4 100.8,41.7 101.6,44.5 99.1,43.1 97.5,42.9 95.9,43.5 94.2,43.7 92.6,43.8 91.1,44.6 89.4,44.5 88.4,42.7 87.2,41.1 86.0,39.6 84.0,40.1 82.5,41.5 79.6,42.6 77.9,42.7 76.4,43.7 74.8,43.9 73.1,43.6 71.5,42.9 69.9,42.6 68.1,43.2 66.3,43.0 64.5,43.1M100.1,48.3 98.3,47.9 96.7,46.9 95.0,47.6 93.2,48.1 91.3,48.0 89.5,48.8 87.9,49.9 86.5,52.1 85.8,53.8 84.5,55.1 86.5,54.9 86.9,57.1 86.7,58.8 86.0,60.3 85.6,62.0 85.0,63.6 84.9,65.3 85.5,66.9 86.5,69.9 88.4,71.3 89.7,70.3 91.3,69.9 92.0,68.4 92.8,66.9 93.1,65.3 93.3,63.6 93.0,61.6 92.1,59.8 92.7,58.2 92.8,56.5 94.2,55.5 94.9,53.8 96.2,52.7 97.1,51.4 98.0,50.1 99.1,48.9 100.1,48.3M100.1,48.3 102.1,48.1 104.0,47.2 106.9,47.2 109.2,47.3 111.3,46.7 113.0,46.4 114.6,46.6 116.2,46.9 118.2,47.0 120.1,47.5 121.5,48.8 122.5,50.5 123.5,52.1 124.5,53.8 122.0,55.4 119.1,54.3 118.2,52.9 117.2,51.6 116.7,54.3 116.1,56.3 115.2,58.1 114.9,60.2 113.8,62.0 111.8,63.6 111.2,62.0 110.8,60.3 109.4,58.1 106.9,58.4 104.5,60.1 105.6,58.2 106.9,56.5 107.2,54.6 107.4,52.7 106.2,51.0 104.5,49.9 102.4,49.0 100.1,48.3M111.3,65.8 109.4,66.1 109.9,67.4 111.6,67.2 111.3,65.8M106.7,70.6 108.5,71.2 110.3,71.8 112.0,71.9 113.6,72.0 115.2,71.8 116.5,70.8 118.3,70.8 119.7,70.0 121.1,69.1 122.9,68.6 124.5,67.4 126.1,66.7 127.3,65.4 128.9,64.4 126.4,64.3 124.3,65.2 122.0,65.8 119.8,66.0 117.6,65.5 116.3,66.4 115.3,67.9 113.8,68.5 110.8,69.1 108.4,68.8 106.7,70.6M124.5,62.0 126.2,61.7 127.9,62.3 129.6,61.8 131.4,61.5 133.2,61.6 135.2,61.6 137.2,61.4 139.1,62.0 140.4,60.9 142.0,60.6 141.5,57.9 139.9,58.5 138.1,58.4 135.2,57.9 133.1,58.6 130.8,58.6 128.7,59.4 126.4,60.1 124.5,62.0M141.5,57.9 142.6,56.5 144.4,55.9 145.4,54.6 147.4,53.6 149.3,52.4 151.0,51.3 152.8,50.6 154.7,49.9 156.0,48.7 157.3,47.7 158.5,46.4 160.1,45.6 161.8,45.2 163.4,44.6 164.8,43.5 166.4,42.8 167.9,42.0 169.3,41.2M169.3,41.2 170.5,39.6 172.2,38.5 173.7,36.6 175.7,35.2 176.9,33.8 178.1,32.5 179.6,31.3 181.3,30.9 182.7,29.6 184.4,29.2 185.4,27.7 187.2,27.1 188.1,25.7 189.3,24.5 190.9,24.0 192.6,24.2 194.2,24.0 196.0,23.5 197.8,24.0 199.7,24.4 201.5,24.0M169.3,41.2 171.5,40.1 173.2,38.5 175.3,37.2 177.1,35.7 178.6,34.6 180.3,33.8 182.0,33.0 183.5,32.0 185.4,31.8 186.9,30.8 188.5,30.6 190.2,30.5 191.8,30.0 193.4,29.7 195.0,29.5 196.6,29.7 198.2,30.9 200.0,31.6 198.9,33.2 198.6,35.2 196.8,35.3 195.2,36.0 193.5,35.8 191.9,35.9 190.3,36.3 192.2,37.0 194.2,37.4 195.9,37.1 197.6,37.4M202.5,51.0 200.5,51.6 198.6,52.1 197.2,53.0 195.8,54.0 194.2,54.3 193.0,56.0 191.3,57.1 192.4,58.6 193.2,60.3 195.3,59.3 197.6,58.7 199.0,57.7 200.5,56.8 201.5,55.4 203.9,54.9 206.4,54.3M201.5,43.4 203.5,44.3 205.4,45.3 207.6,45.7 209.8,45.3 207.7,44.3 205.4,44.2 203.5,43.4 201.5,43.4" fill="none" stroke="#000" stroke-width="1.6" stroke-linejoin="round"/>
<path d="M118.9,151.4 120.3,151.4 120.6,152.8 119.6,152.8 118.9,151.4M133.2,152.5 135.7,153.3 137.6,154.4 137.1,156.6 136.1,155.2 135.2,153.6M134.0,161.5 133.3,163.3 132.3,164.8 133.4,166.2 134.7,167.6 135.2,164.8 134.4,163.3 134.0,161.5M139.6,159.3 140.8,160.5 142.0,161.5 142.0,163.7M49.6,28.7 50.9,27.5 53.3,26.7 54.8,27.8 52.8,29.4 51.4,31.1 49.6,30.8M48.9,36.3 50.9,36.1 52.8,36.0 51.8,34.9 48.9,35.4 48.9,36.3M82.1,28.1 84.0,29.7 83.7,27.4 84.0,25.1 81.1,24.2 79.6,26.4 82.1,28.1M57.7,23.7 59.3,23.7 60.9,23.4 62.6,23.7 64.3,24.5 66.0,25.3 63.5,24.8 61.8,25.0 60.1,24.8M41.1,23.1 43.5,22.9 43.5,20.8 44.0,18.8 42.9,17.5 41.9,16.1 40.6,14.9 40.4,16.6 39.6,18.2 40.5,19.8 41.1,21.5 41.1,23.1M34.8,24.2 34.3,22.0 33.4,20.7 32.6,19.3 31.4,18.2 29.9,16.6 31.3,18.2 32.8,19.9 33.6,21.5 34.3,23.1M28.0,17.1 26.4,15.5 24.5,14.4 24.8,12.7 25.5,11.1 23.1,9.5M9.4,36.8 11.3,37.4 13.3,37.6 16.2,38.5 17.7,38.5 19.2,39.3M22.6,45.0 23.7,46.6 24.5,48.3 24.0,50.0 23.1,51.6 25.0,53.8 24.0,55.4M122.0,45.6 123.8,45.6 125.5,46.1 124.0,45.3M151.8,18.8 153.4,17.8 155.2,17.1 156.3,18.6 157.6,19.9M160.5,34.1 161.9,33.2 163.5,32.7 162.5,34.1M150.3,33.0 152.0,32.5 153.7,31.9 155.2,33.5M177.1,19.3 178.2,18.0 179.1,16.6 181.0,18.8 179.6,20.4 177.1,19.3M121.1,11.7 122.0,13.0 122.7,14.4 123.8,15.6 124.5,17.1 126.3,15.8 128.4,14.9 128.7,13.2 129.4,11.7" fill="none" stroke="#000" stroke-width="2.0" stroke-linejoin="round" stroke-linecap="round"/>
</g></g>
<g transform="translate(0,177)">
<path d="M11.4 25.3L21.1 25.3L30.9 25.3L40.6 25.3L40.6 36.3L40.6 47.2L50.4 47.2L60.1 47.2L60.1 36.3L69.9 36.3L69.9 47.2L79.6 47.2L79.6 58.1L79.6 69.1L79.6 80.0L89.4 80.0L99.1 80.0L108.9 80.0L118.6 80.0L128.4 80.0L128.4 69.1L128.4 58.1L138.1 58.1L138.1 47.2L147.9 47.2L147.9 36.3L157.6 36.3L167.4 36.3L167.4 47.2L167.4 58.1L167.4 69.1L157.6 69.1L147.9 69.1L147.9 80.0L138.1 80.0L138.1 91.0L138.1 101.9L128.4 101.9L128.4 112.8L118.6 112.8L118.6 123.8L108.9 123.8L108.9 134.7L99.1 134.7L99.1 123.8L89.4 123.8L79.6 123.8L69.9 123.8L69.9 134.7L60.1 134.7L50.4 134.7L40.6 134.7L30.9 134.7L30.9 145.7L30.9 156.6L30.9 167.6L21.1 167.6L21.1 156.6L11.4 156.6L11.4 145.7L1.6 145.7L1.6 134.7L1.6 123.8L1.6 112.8L1.6 101.9L1.6 91.0L1.6 80.0L1.6 69.1L1.6 58.1L1.6 47.2L1.6 36.3L1.6 25.3Z" fill="#000080"/>
<path d="M11.4 30.8L21.1 30.8L30.9 30.8L40.6 30.8L40.6 36.3L40.6 47.2L50.4 47.2L60.1 47.2L60.1 36.3L65.0 36.3L69.9 39.0L69.9 47.2L79.6 47.2L79.6 58.1L79.6 69.1L79.6 80.0L89.4 80.0L99.1 80.0L108.9 80.0L118.6 80.0L128.4 80.0L128.4 69.1L128.4 58.1L138.1 58.1L138.1 52.7L147.9 52.7L152.8 47.2L157.6 41.7L167.4 41.7L167.4 47.2L167.4 58.1L167.4 69.1L157.6 69.1L147.9 69.1L147.9 80.0L138.1 80.0L138.1 91.0L138.1 101.9L128.4 101.9L128.4 112.8L118.6 112.8L118.6 123.8L108.9 123.8L108.9 134.7L99.1 134.7L99.1 123.8L89.4 123.8L79.6 123.8L69.9 123.8L69.9 134.7L60.1 134.7L50.4 134.7L40.6 134.7L30.9 134.7L30.9 145.7L30.9 156.6L30.9 167.6L21.1 167.6L21.1 156.6L11.4 156.6L11.4 145.7L3.2 145.7L4.1 134.7L3.2 123.8L3.2 112.8L3.2 101.9L1.6 99.2L1.6 91.0L1.6 80.0L1.6 71.8L4.1 69.1L6.5 58.1L6.5 47.2L6.5 36.3Z" fill="#0000cd"/>
<path d="M30.9 41.7L40.6 39.0L40.6 47.2L50.4 47.2L60.1 47.2L60.1 41.7L69.9 44.5L69.9 47.2L74.8 47.2L79.6 52.7L79.6 58.1L79.6 69.1L79.6 80.0L89.4 80.0L99.1 80.0L108.9 80.0L113.8 80.0L118.6 85.5L121.1 80.0L128.4 80.0L128.4 69.1L128.4 63.6L138.1 63.6L147.9 63.6L152.8 69.1L147.9 69.1L147.9 80.0L138.1 80.0L138.1 91.0L138.1 101.9L128.4 101.9L128.4 112.8L118.6 112.8L118.6 123.8L108.9 123.8L108.9 134.7L99.1 134.7L99.1 123.8L89.4 123.8L79.6 123.8L69.9 123.8L69.9 134.7L60.1 134.7L50.4 134.7L40.6 134.7L30.9 134.7L30.9 145.7L30.9 156.6L30.9 167.6L21.1 167.6L21.1 156.6L11.4 156.6L11.4 145.7L6.5 145.7L8.9 134.7L6.5 123.8L6.5 112.8L6.5 101.9L1.6 93.7L1.6 91.0L1.6 80.0L1.6 77.3L8.9 69.1L11.4 63.6L16.2 58.1L21.1 52.7L26.0 47.2ZM74.8 101.9L79.6 104.6L84.5 101.9L79.6 99.2ZM104.0 101.9L108.9 103.3L110.1 101.9L108.9 96.4ZM65.0 112.8L69.9 115.6L72.3 112.8L69.9 107.4ZM26.0 123.8L30.9 126.5L33.3 123.8L30.9 121.1Z" fill="#4169e1"/>
<path d="M40.6 44.5L40.6 47.2L50.4 47.2L55.2 47.2L55.2 58.1L57.7 69.1L60.1 71.8L65.0 69.1L62.6 58.1L69.9 49.9L77.2 58.1L79.6 63.6L79.6 69.1L79.6 74.6L74.8 80.0L79.6 85.5L84.5 80.0L89.4 80.0L99.1 80.0L104.0 80.0L99.1 85.5L94.2 91.0L89.4 96.4L79.6 93.7L69.9 96.4L60.1 96.4L55.2 101.9L50.4 107.4L45.5 112.8L45.5 123.8L50.4 129.3L60.1 126.5L65.0 123.8L69.9 121.1L77.2 112.8L79.6 110.1L89.4 107.4L99.1 107.4L108.9 106.0L112.5 101.9L118.6 92.8L120.2 91.0L125.9 80.0L128.4 80.0L128.4 74.6L138.1 70.9L147.9 70.5L147.9 80.0L138.1 80.0L138.1 91.0L138.1 101.9L128.4 101.9L128.4 112.8L118.6 112.8L118.6 123.8L108.9 123.8L108.9 134.7L99.1 134.7L99.1 123.8L89.4 123.8L79.6 123.8L69.9 123.8L69.9 134.7L60.1 134.7L50.4 134.7L40.6 134.7L30.9 134.7L30.9 145.7L30.9 156.6L30.9 164.8L21.1 165.7L21.1 156.6L11.4 156.6L11.4 145.7L9.8 145.7L11.4 140.2L21.1 136.6L26.0 134.7L30.9 132.0L38.2 123.8L30.9 115.6L21.1 118.3L16.2 123.8L11.4 129.3L9.8 123.8L9.8 112.8L9.8 101.9L6.5 91.0L4.1 80.0L11.4 71.8L13.8 69.1L21.1 60.9L26.0 58.1L30.9 52.7L35.8 47.2ZM35.8 69.1L30.9 74.6L26.0 80.0L26.0 91.0L30.9 96.4L40.6 93.7L45.5 91.0L45.5 80.0L43.1 69.1L40.6 66.4Z" fill="#1e90ff"/>
<path d="M40.6 52.7L45.5 58.1L40.6 60.9L35.8 58.1ZM69.9 55.4L72.3 58.1L69.9 63.6L67.4 58.1ZM21.1 66.4L26.0 69.1L21.1 74.6L18.7 69.1ZM50.4 63.6L52.8 69.1L50.4 74.6L47.9 69.1ZM11.4 77.3L16.2 80.0L11.4 85.5L8.9 80.0ZM60.1 77.3L65.0 80.0L60.1 85.5L55.2 80.0ZM138.1 74.6L147.9 73.2L147.9 80.0L138.1 80.0L138.1 91.0L138.1 101.9L128.4 101.9L128.4 112.8L118.6 112.8L118.6 123.8L108.9 123.8L108.9 134.7L99.1 134.7L99.1 123.8L89.4 123.8L84.5 123.8L89.4 118.3L99.1 115.6L101.6 112.8L108.9 108.7L115.0 101.9L118.6 96.4L123.5 91.0L128.4 82.8L130.8 80.0ZM21.1 96.4L26.0 101.9L21.1 107.4L16.2 101.9ZM40.6 99.2L45.5 101.9L40.6 107.4L35.8 101.9ZM60.1 132.0L69.9 129.3L69.9 134.7L60.1 134.7L55.2 134.7ZM21.1 140.2L30.9 140.2L30.9 145.7L30.9 156.6L30.9 159.3L21.1 162.1L21.1 156.6L13.8 156.6L13.8 145.7Z" fill="#00bfff"/>
<path d="M138.1 78.2L147.9 75.9L147.9 80.0L138.1 80.0L138.1 91.0L138.1 101.9L128.4 101.9L128.4 112.8L118.6 112.8L118.6 123.8L108.9 123.8L108.9 134.7L99.1 134.7L99.1 123.8L94.2 123.8L99.1 121.1L106.4 112.8L108.9 111.5L117.4 101.9L118.6 100.1L126.8 91.0L128.4 88.2L135.7 80.0ZM21.1 143.8L26.0 145.7L26.0 156.6L21.1 158.4L21.1 156.6L18.7 156.6L18.7 145.7Z" fill="#a4d2fe"/>
<path d="M147.9 78.7L147.9 80.0L143.0 80.0ZM138.1 82.8L138.1 91.0L138.1 101.9L128.4 101.9L128.4 112.8L118.6 112.8L118.6 123.8L108.9 123.8L108.9 134.7L99.1 134.7L99.1 124.7L100.3 123.8L108.9 114.2L110.1 112.8L118.6 103.3L119.6 101.9L128.4 92.1L130.8 91.0Z" fill="#d2f2ff"/>
<path d="M138.1 88.2L138.1 91.0L138.1 101.9L128.4 101.9L128.4 112.8L118.6 112.8L118.6 123.8L108.9 123.8L108.9 134.7L99.1 134.7L99.1 126.5L102.8 123.8L108.9 117.0L112.5 112.8L118.6 106.0L121.5 101.9L128.4 94.3L135.7 91.0Z" fill="#fffac8"/>
<path d="M128.4 96.4L138.1 92.1L138.1 101.9L128.4 101.9L128.4 112.8L118.6 112.8L118.6 123.8L108.9 123.8L108.9 134.7L99.1 134.7L99.1 128.3L105.2 123.8L108.9 119.7L115.0 112.8L118.6 108.7L123.5 101.9Z" fill="#ffd93c"/>
<path d="M128.4 98.6L138.1 94.3L138.1 101.9L128.4 101.9L128.4 112.8L118.6 112.8L118.6 123.8L108.9 123.8L108.9 134.7L99.1 134.7L99.1 130.2L107.7 123.8L108.9 122.4L117.4 112.8L118.6 111.5L125.4 101.9Z" fill="#ffa500"/>
<path d="M128.4 100.8L138.1 96.4L138.1 101.9L128.4 101.9L128.4 112.8L120.2 112.8L127.4 101.9ZM118.6 114.7L118.6 123.8L110.5 123.8ZM108.9 125.6L108.9 134.7L99.1 134.7L99.1 132.0Z" fill="#ff7f00"/>
<path d="M138.1 98.6L138.1 101.9L130.8 101.9ZM128.4 104.6L128.4 112.8L123.5 112.8ZM118.6 118.3L118.6 123.8L113.8 123.8ZM108.9 129.3L108.9 134.7L99.1 134.7L99.1 133.8Z" fill="#ff0000"/>
<path d="M138.1 100.8L138.1 101.9L135.7 101.9ZM128.4 110.1L128.4 112.8L126.8 112.8ZM118.6 122.0L118.6 123.8L117.0 123.8ZM108.9 132.9L108.9 134.7L104.0 134.7Z" fill="#c80000"/>
<g clip-path="url(#cpA)">
<path d="M-22.8,30.8 49.6,30.8M49.6,28.7 51.4,29.2 52.3,32.3 56.2,33.4 60.1,33.0 65.0,34.4 69.9,35.2 74.8,35.7 76.7,36.3M18.7,30.8 18.7,8.9M49.6,28.7 49.6,8.9M125.9,8.9 125.9,17.1 125.9,39.0 126.9,41.7 129.4,45.6 135.7,47.8 141.5,49.9 150.3,51.0 151.3,52.7M149.3,52.7 164.9,52.7M164.9,52.7 166.9,51.0 169.3,49.4 171.3,45.6 172.2,43.4 176.1,39.3 180.5,39.8 183.0,41.5 183.0,48.9 184.7,49.4 185.9,51.6 186.9,53.0M6.3,30.8 6.3,74.6M-27.6,52.7 6.3,52.7M-27.6,74.6 16.0,74.6M16.0,74.6 16.0,96.4M6.3,47.5 42.8,47.5M6.3,63.6 33.3,63.6 38.2,64.4 41.1,65.0 43.3,66.4M16.0,80.0 48.9,80.0M-17.9,96.4 52.2,96.4M11.4,96.4 11.4,99.2 26.0,99.2 26.0,109.8M11.1,99.2 11.1,123.8 -6.2,123.8M26.0,109.8 28.4,110.7 30.9,111.8 33.3,112.3 35.8,112.8 38.2,113.7 40.6,114.2 43.1,113.9 45.5,113.7 47.9,113.4 50.4,113.7 52.9,114.8 55.1,115.3M55.1,115.3 55.1,118.3M55.1,118.3 55.1,123.8 56.2,126.5 57.4,129.3 56.7,132.0 56.5,134.7 56.0,136.4M55.1,118.3 69.1,118.3M52.9,114.8 53.2,105.2 52.2,99.2 52.2,85.0M52.2,85.0 50.9,82.8 49.9,81.1 48.9,80.0 46.6,76.7 46.2,74.6 46.0,71.8 45.0,69.1 43.3,66.4M43.3,66.4 42.6,63.6 43.3,60.9 43.3,51.0 42.8,47.5 41.8,44.5 41.6,41.7 40.6,37.9 40.1,34.6 39.5,30.8M43.3,60.9 68.8,60.9M46.6,76.7 66.3,76.7 67.8,78.0M52.2,99.2 74.0,99.2 72.9,101.9 76.1,101.9M64.5,43.1 63.5,46.7 61.3,49.7 61.1,52.7 63.5,55.4 66.5,57.1 68.9,60.9 69.1,63.6 71.6,66.4 73.8,69.6 71.8,71.8 69.4,74.0 67.8,78.0 68.4,81.1 71.3,84.4 73.8,86.6 73.8,89.3 76.7,93.2 77.2,94.8 78.9,96.4 78.6,98.6 77.2,99.2 76.2,101.9 74.5,105.2 74.3,107.4 71.8,110.1 70.4,112.8 69.1,118.3 69.4,121.1 69.9,123.8 67.0,129.3M67.0,129.3 76.1,129.3 76.7,131.4 76.9,133.6M71.6,66.4 85.5,66.4M86.5,52.1 85.5,49.4 82.1,47.8 77.2,46.7 72.8,44.2M88.4,70.5 100.1,70.7 106.7,70.6M86.8,70.5 86.8,83.3 86.5,86.0 85.7,89.3 84.3,92.1M100.1,70.7 100.1,85.0M121.0,69.1 121.0,76.5M78.9,96.4 82.1,95.9 84.3,92.1 86.9,91.5 90.4,91.2 92.8,91.0 95.2,89.3 97.7,87.1 100.1,85.0 103.0,86.6 105.5,87.4 108.9,87.1 110.8,88.8 112.8,86.6 114.7,85.0 117.2,83.3 119.1,81.1 120.6,78.4 121.0,76.5M77.2,99.2 84.3,99.2 84.3,98.2 94.2,98.5 105.6,98.6 115.3,98.6 123.5,98.9 133.2,98.9 143.6,98.9M105.6,98.6 108.9,97.3 110.8,95.3 112.3,93.7 114.0,93.4 110.8,90.1 110.8,88.8M114.0,93.4 117.6,94.8 121.1,94.0 122.5,91.5 124.5,89.3 125.9,88.0 126.9,86.0 129.8,85.2 131.5,83.3 134.2,83.9 134.7,83.9M126.0,81.6 126.0,84.4 128.9,83.0 131.5,82.2 134.2,83.0 135.7,85.0 137.6,86.0 137.1,87.7 138.6,89.3 141.5,91.0M121.0,81.6 144.0,81.6M144.0,81.6 144.1,88.5 147.6,88.5M121.0,69.1 124.7,67.6 124.7,69.1 146.1,69.1M146.1,69.1 147.4,70.2 149.3,72.6 147.4,75.4 147.9,77.8 149.1,79.2 147.4,80.6 145.4,81.7 145.2,82.8M149.3,72.6 152.8,74.6M155.2,74.0 155.2,68.8 156.3,65.0 156.4,52.7M155.2,68.8 163.5,69.0 163.5,72.9M165.5,69.0 165.5,71.8M156.3,65.0 165.9,65.3 167.6,64.4M160.3,65.1 160.5,60.9 162.3,56.5 164.9,52.7M168.8,63.1 167.6,60.9 167.0,55.4 167.0,51.0M73.3,107.4 102.4,107.4M83.5,107.4 84.0,112.8 82.2,124.3 82.5,129.3 82.5,132.5M96.2,107.4 98.1,118.3 99.1,122.1 98.6,126.0 99.1,129.3M86.5,129.3 99.1,129.3M86.5,129.3 87.2,132.0 86.9,133.1M99.1,129.3 99.8,130.9 112.8,131.6 113.8,132.5 115.0,132.0 116.2,130.9M102.4,107.4 104.5,106.3 106.4,104.4 108.9,103.3 111.3,101.9 113.8,101.1 115.3,98.6M108.4,107.4 109.9,110.1 112.3,112.8 114.2,115.6 116.2,118.3 118.1,122.7 119.1,123.8M108.4,107.4 113.8,106.3 118.6,106.6 119.1,108.5 125.0,108.5 130.6,113.7M-6.2,123.8 -5.2,125.2 -0.8,129.3 2.6,132.0 4.1,136.4 7.0,138.6 10.4,140.2 12.8,136.4 14.8,135.6 19.2,136.1 22.1,138.6 24.5,142.9 27.5,147.3 28.9,150.6 30.4,153.9 34.3,156.1 38.2,157.2 39.9,156.9M-5.7,159.3 1.6,153.9 5.5,152.8 9.9,162.1 15.3,164.3M10.4,140.2 12.8,145.7 13.8,151.1 11.4,156.6M26.0,145.7 24.5,148.4 27.0,153.9 28.4,159.3 31.9,162.1 34.3,166.5M15.3,164.3 21.1,159.3 23.6,152.2 24.5,148.4M37.2,167.6 34.3,166.5 29.9,170.3 28.4,174.1" fill="none" stroke="#111" stroke-width="0.9" stroke-linejoin="round"/>
<path d="M197.6,37.4 195.2,37.4 193.2,38.5 194.8,39.2 196.3,40.0 197.6,41.2 198.6,43.9 200.0,45.1 201.5,46.1 203.2,46.6 204.4,47.8 202.9,48.5 201.5,49.4 199.6,50.2 197.6,50.8 194.7,51.6 192.9,51.8 191.3,51.3 188.8,52.1 186.9,53.0 184.9,54.6 183.5,55.3 182.0,56.0 179.6,56.5 177.1,57.6 175.8,58.7 174.2,59.0 171.3,60.1 170.3,61.5 169.3,62.8 168.4,64.7 167.9,66.4 167.4,67.4 168.8,68.5 169.8,69.9 171.8,70.5 172.5,69.6 172.0,68.8 172.5,70.7 172.2,71.6 169.8,71.6 167.9,71.6 165.4,72.1 163.0,72.9 160.1,73.2 157.6,73.5 154.7,74.6 153.2,75.7 152.8,77.3 152.5,79.5 152.0,81.7 150.3,83.6 148.4,85.8 147.4,84.4 145.7,83.3 145.2,82.2 145.9,83.9 147.4,86.6 147.6,88.8 146.7,91.0 146.1,92.5 145.0,93.7 143.2,95.6 143.0,93.2 143.5,90.4 142.0,87.7 141.4,86.1 141.5,84.4 142.5,82.5 140.6,84.1 140.8,86.6 140.6,88.8 141.5,91.0 141.3,93.2 141.5,95.9 143.0,97.0 143.5,98.9 144.2,101.4 145.4,104.1 145.4,106.0 143.5,106.6 142.1,107.8 140.6,109.0 138.5,109.3 136.7,110.1 135.5,112.0 133.7,113.4 132.1,113.8 130.3,113.7 128.8,115.1 127.4,116.7 125.4,117.9 124.0,119.7 122.5,120.6 121.1,121.6 118.6,123.5 118.0,125.3 117.2,127.1 116.4,128.9 116.4,130.9 117.0,132.8 116.7,134.7 117.6,137.5 119.1,140.2 119.5,142.0 120.6,143.5 121.1,145.1 121.3,146.8 122.3,148.9 122.8,151.1 123.3,153.9 123.5,155.8 123.0,157.7 121.8,160.4 119.1,161.3 117.9,161.0 117.2,158.8 115.2,156.9 114.2,153.9 112.3,151.7 111.3,150.1 110.6,148.4 109.9,145.7 110.4,144.1 110.3,142.4 109.9,140.2 107.9,138.6 106.5,137.1 105.5,135.3 103.0,134.5 101.6,135.6 99.1,136.6 97.2,136.4 95.7,134.2 94.3,133.3 92.8,132.5 91.1,132.6 89.4,132.8 86.9,133.1 84.5,132.5 82.1,132.8 80.4,133.1 78.6,133.1 76.7,133.6 76.2,134.7 78.2,136.4 79.6,139.1 77.7,140.2 75.2,138.6 72.3,139.7 70.6,139.1 68.9,138.6 67.2,138.1 66.0,136.9 63.5,137.2 61.7,137.0 60.1,136.1 58.2,136.5 56.2,136.4 54.5,136.8 52.8,137.5 50.4,139.1 48.5,140.5 46.5,141.8 44.9,143.1 43.1,144.0 41.8,145.1 40.6,146.2 39.2,148.4 39.0,150.1 38.7,151.7 39.3,153.8 39.6,156.1 38.9,157.6 38.5,159.3 38.2,161.0 38.1,162.8 37.5,164.6 37.2,166.5 37.1,168.1 36.6,169.7 36.6,171.4 36.7,173.0 37.0,174.6 36.5,176.3 37.4,177.9 37.2,179.6 37.2,181.2M64.5,43.1 66.4,42.4 67.9,41.0 69.9,40.4 71.5,39.4 72.9,38.0 74.8,37.4 77.2,36.3 78.9,35.7 80.5,35.0 82.1,34.1 83.3,33.0 84.5,31.9 86.1,32.3 87.8,31.9 89.4,32.2 91.1,32.6 92.8,32.7 93.9,34.7 95.2,36.5 96.7,37.3 98.2,38.0 99.6,38.7 99.9,40.4 100.8,41.7 101.6,44.5 99.1,43.1 97.5,42.9 95.9,43.5 94.2,43.7 92.6,43.8 91.1,44.6 89.4,44.5 88.4,42.7 87.2,41.1 86.0,39.6 84.0,40.1 82.5,41.5 79.6,42.6 77.9,42.7 76.4,43.7 74.8,43.9 73.1,43.6 71.5,42.9 69.9,42.6 68.1,43.2 66.3,43.0 64.5,43.1M100.1,48.3 98.3,47.9 96.7,46.9 95.0,47.6 93.2,48.1 91.3,48.0 89.5,48.8 87.9,49.9 86.5,52.1 85.8,53.8 84.5,55.1 86.5,54.9 86.9,57.1 86.7,58.8 86.0,60.3 85.6,62.0 85.0,63.6 84.9,65.3 85.5,66.9 86.5,69.9 88.4,71.3 89.7,70.3 91.3,69.9 92.0,68.4 92.8,66.9 93.1,65.3 93.3,63.6 93.0,61.6 92.1,59.8 92.7,58.2 92.8,56.5 94.2,55.5 94.9,53.8 96.2,52.7 97.1,51.4 98.0,50.1 99.1,48.9 100.1,48.3M100.1,48.3 102.1,48.1 104.0,47.2 106.9,47.2 109.2,47.3 111.3,46.7 113.0,46.4 114.6,46.6 116.2,46.9 118.2,47.0 120.1,47.5 121.5,48.8 122.5,50.5 123.5,52.1 124.5,53.8 122.0,55.4 119.1,54.3 118.2,52.9 117.2,51.6 116.7,54.3 116.1,56.3 115.2,58.1 114.9,60.2 113.8,62.0 111.8,63.6 111.2,62.0 110.8,60.3 109.4,58.1 106.9,58.4 104.5,60.1 105.6,58.2 106.9,56.5 107.2,54.6 107.4,52.7 106.2,51.0 104.5,49.9 102.4,49.0 100.1,48.3M111.3,65.8 109.4,66.1 109.9,67.4 111.6,67.2 111.3,65.8M106.7,70.6 108.5,71.2 110.3,71.8 112.0,71.9 113.6,72.0 115.2,71.8 116.5,70.8 118.3,70.8 119.7,70.0 121.1,69.1 122.9,68.6 124.5,67.4 126.1,66.7 127.3,65.4 128.9,64.4 126.4,64.3 124.3,65.2 122.0,65.8 119.8,66.0 117.6,65.5 116.3,66.4 115.3,67.9 113.8,68.5 110.8,69.1 108.4,68.8 106.7,70.6M124.5,62.0 126.2,61.7 127.9,62.3 129.6,61.8 131.4,61.5 133.2,61.6 135.2,61.6 137.2,61.4 139.1,62.0 140.4,60.9 142.0,60.6 141.5,57.9 139.9,58.5 138.1,58.4 135.2,57.9 133.1,58.6 130.8,58.6 128.7,59.4 126.4,60.1 124.5,62.0M141.5,57.9 142.6,56.5 144.4,55.9 145.4,54.6 147.4,53.6 149.3,52.4 151.0,51.3 152.8,50.6 154.7,49.9 156.0,48.7 157.3,47.7 158.5,46.4 160.1,45.6 161.8,45.2 163.4,44.6 164.8,43.5 166.4,42.8 167.9,42.0 169.3,41.2M169.3,41.2 170.5,39.6 172.2,38.5 173.7,36.6 175.7,35.2 176.9,33.8 178.1,32.5 179.6,31.3 181.3,30.9 182.7,29.6 184.4,29.2 185.4,27.7 187.2,27.1 188.1,25.7 189.3,24.5 190.9,24.0 192.6,24.2 194.2,24.0 196.0,23.5 197.8,24.0 199.7,24.4 201.5,24.0M169.3,41.2 171.5,40.1 173.2,38.5 175.3,37.2 177.1,35.7 178.6,34.6 180.3,33.8 182.0,33.0 183.5,32.0 185.4,31.8 186.9,30.8 188.5,30.6 190.2,30.5 191.8,30.0 193.4,29.7 195.0,29.5 196.6,29.7 198.2,30.9 200.0,31.6 198.9,33.2 198.6,35.2 196.8,35.3 195.2,36.0 193.5,35.8 191.9,35.9 190.3,36.3 192.2,37.0 194.2,37.4 195.9,37.1 197.6,37.4M202.5,51.0 200.5,51.6 198.6,52.1 197.2,53.0 195.8,54.0 194.2,54.3 193.0,56.0 191.3,57.1 192.4,58.6 193.2,60.3 195.3,59.3 197.6,58.7 199.0,57.7 200.5,56.8 201.5,55.4 203.9,54.9 206.4,54.3M201.5,43.4 203.5,44.3 205.4,45.3 207.6,45.7 209.8,45.3 207.7,44.3 205.4,44.2 203.5,43.4 201.5,43.4" fill="none" stroke="#000" stroke-width="1.6" stroke-linejoin="round"/>
<path d="M118.9,151.4 120.3,151.4 120.6,152.8 119.6,152.8 118.9,151.4M133.2,152.5 135.7,153.3 137.6,154.4 137.1,156.6 136.1,155.2 135.2,153.6M134.0,161.5 133.3,163.3 132.3,164.8 133.4,166.2 134.7,167.6 135.2,164.8 134.4,163.3 134.0,161.5M139.6,159.3 140.8,160.5 142.0,161.5 142.0,163.7M49.6,28.7 50.9,27.5 53.3,26.7 54.8,27.8 52.8,29.4 51.4,31.1 49.6,30.8M48.9,36.3 50.9,36.1 52.8,36.0 51.8,34.9 48.9,35.4 48.9,36.3M82.1,28.1 84.0,29.7 83.7,27.4 84.0,25.1 81.1,24.2 79.6,26.4 82.1,28.1M57.7,23.7 59.3,23.7 60.9,23.4 62.6,23.7 64.3,24.5 66.0,25.3 63.5,24.8 61.8,25.0 60.1,24.8M41.1,23.1 43.5,22.9 43.5,20.8 44.0,18.8 42.9,17.5 41.9,16.1 40.6,14.9 40.4,16.6 39.6,18.2 40.5,19.8 41.1,21.5 41.1,23.1M34.8,24.2 34.3,22.0 33.4,20.7 32.6,19.3 31.4,18.2 29.9,16.6 31.3,18.2 32.8,19.9 33.6,21.5 34.3,23.1M28.0,17.1 26.4,15.5 24.5,14.4 24.8,12.7 25.5,11.1 23.1,9.5M9.4,36.8 11.3,37.4 13.3,37.6 16.2,38.5 17.7,38.5 19.2,39.3M22.6,45.0 23.7,46.6 24.5,48.3 24.0,50.0 23.1,51.6 25.0,53.8 24.0,55.4M122.0,45.6 123.8,45.6 125.5,46.1 124.0,45.3M151.8,18.8 153.4,17.8 155.2,17.1 156.3,18.6 157.6,19.9M160.5,34.1 161.9,33.2 163.5,32.7 162.5,34.1M150.3,33.0 152.0,32.5 153.7,31.9 155.2,33.5M177.1,19.3 178.2,18.0 179.1,16.6 181.0,18.8 179.6,20.4 177.1,19.3M121.1,11.7 122.0,13.0 122.7,14.4 123.8,15.6 124.5,17.1 126.3,15.8 128.4,14.9 128.7,13.2 129.4,11.7" fill="none" stroke="#000" stroke-width="2.0" stroke-linejoin="round" stroke-linecap="round"/>
</g></g>
<g transform="translate(204.5,177)">
<path d="M21.1 25.3L30.9 25.3L40.6 25.3L40.6 36.3L40.6 47.2L50.4 47.2L60.1 47.2L60.1 36.3L69.9 36.3L69.9 47.2L79.6 47.2L79.6 58.1L79.6 69.1L79.6 80.0L89.4 80.0L99.1 80.0L108.9 80.0L118.6 80.0L128.4 80.0L128.4 69.1L138.1 69.1L138.1 58.1L138.1 47.2L147.9 47.2L147.9 36.3L157.6 36.3L167.4 36.3L167.4 47.2L167.4 58.1L167.4 69.1L157.6 69.1L147.9 69.1L147.9 80.0L138.1 80.0L138.1 91.0L138.1 101.9L128.4 101.9L128.4 112.8L118.6 112.8L118.6 123.8L108.9 123.8L108.9 134.7L99.1 134.7L99.1 123.8L89.4 123.8L79.6 123.8L69.9 123.8L69.9 134.7L60.1 134.7L50.4 134.7L40.6 134.7L30.9 134.7L30.9 145.7L30.9 156.6L30.9 167.6L21.1 167.6L21.1 156.6L11.4 156.6L11.4 145.7L11.4 134.7L11.4 123.8L11.4 112.8L11.4 101.9L11.4 91.0L1.6 91.0L1.6 80.0L1.6 69.1L1.6 58.1L1.6 47.2L1.6 36.3L11.4 36.3L11.4 25.3Z" fill="#000080"/>
<path d="M40.6 30.8L40.6 36.3L40.6 47.2L50.4 47.2L60.1 47.2L60.1 36.3L69.9 36.3L69.9 47.2L79.6 47.2L79.6 58.1L79.6 69.1L79.6 80.0L89.4 80.0L99.1 80.0L108.9 80.0L118.6 80.0L128.4 80.0L128.4 69.1L138.1 69.1L138.1 63.6L147.9 63.6L152.8 58.1L157.6 52.7L167.4 52.7L167.4 58.1L167.4 69.1L157.6 69.1L147.9 69.1L147.9 80.0L138.1 80.0L138.1 91.0L138.1 101.9L128.4 101.9L128.4 112.8L118.6 112.8L118.6 123.8L108.9 123.8L108.9 134.7L99.1 134.7L99.1 123.8L89.4 123.8L79.6 123.8L69.9 123.8L69.9 134.7L60.1 134.7L50.4 134.7L40.6 134.7L30.9 134.7L30.9 145.7L30.9 156.6L30.9 167.6L21.1 167.6L21.1 156.6L11.4 156.6L11.4 145.7L11.4 134.7L11.4 123.8L11.4 112.8L11.4 101.9L11.4 91.0L6.5 91.0L6.5 80.0L1.6 74.6L1.6 69.1L1.6 58.1L1.6 47.2L1.6 36.3L6.5 36.3L6.5 47.2L11.4 52.7L21.1 49.9L26.0 47.2L30.9 41.7L35.8 36.3ZM113.8 91.0L118.6 93.7L121.1 91.0L118.6 88.2Z" fill="#0000cd"/>
<path d="M69.9 41.7L69.9 47.2L74.8 47.2L74.8 58.1L79.6 63.6L79.6 69.1L79.6 80.0L89.4 80.0L99.1 80.0L108.9 80.0L118.6 80.0L123.5 80.0L118.6 82.8L108.9 85.5L99.1 85.5L89.4 85.5L84.5 91.0L79.6 96.4L74.8 101.9L69.9 107.4L65.0 112.8L65.0 123.8L60.1 129.3L50.4 132.0L45.5 134.7L40.6 134.7L30.9 134.7L30.9 145.7L30.9 156.6L30.9 167.6L21.1 167.6L21.1 156.6L11.4 156.6L11.4 145.7L11.4 134.7L11.4 123.8L11.4 112.8L11.4 101.9L11.4 96.4L13.8 91.0L16.2 80.0L16.2 69.1L16.2 58.1L21.1 55.4L30.9 49.9L40.6 52.7L45.5 47.2L50.4 47.2L60.1 47.2L60.1 41.7ZM26.0 80.0L30.9 85.5L40.6 85.5L45.5 80.0L40.6 77.3L30.9 77.3ZM55.2 91.0L60.1 96.4L65.0 91.0L60.1 85.5ZM47.9 112.8L50.4 115.6L55.2 112.8L50.4 110.1ZM167.4 60.9L167.4 69.1L160.1 69.1ZM138.1 71.8L147.9 71.8L147.9 80.0L138.1 80.0L138.1 91.0L138.1 101.9L128.4 101.9L128.4 112.8L118.6 112.8L118.6 123.8L108.9 123.8L108.9 134.7L99.1 134.7L99.1 123.8L94.2 123.8L99.1 118.3L104.0 112.8L108.9 107.4L113.8 101.9L118.6 99.2L125.9 91.0L128.4 85.5L130.8 80.0Z" fill="#4169e1"/>
<path d="M30.9 55.4L35.8 58.1L40.6 63.6L45.5 58.1L50.4 52.7L55.2 58.1L60.1 63.6L69.9 63.6L74.8 69.1L69.9 74.6L60.1 74.6L50.4 77.3L40.6 71.8L30.9 71.8L26.0 69.1L26.0 58.1ZM167.4 66.4L167.4 69.1L164.9 69.1ZM138.1 77.3L147.9 77.3L147.9 80.0L138.1 80.0L138.1 85.5L135.7 80.0ZM21.1 85.5L26.0 91.0L26.0 101.9L30.9 107.4L35.8 101.9L40.6 96.4L50.4 96.4L55.2 101.9L50.4 104.6L43.1 112.8L40.6 118.3L35.8 123.8L35.8 134.7L30.9 134.7L30.9 145.7L30.9 156.6L30.9 167.6L26.0 167.6L21.1 164.8L21.1 156.6L11.4 156.6L11.4 145.7L11.4 134.7L11.4 123.8L11.4 118.3L13.8 112.8L16.2 101.9L18.7 91.0ZM128.4 96.4L138.1 96.4L138.1 101.9L128.4 101.9L128.4 112.8L118.6 112.8L118.6 123.8L108.9 123.8L108.9 134.7L99.1 134.7L99.1 129.3L104.0 123.8L108.9 118.3L111.3 112.8L118.6 104.6L123.5 101.9ZM50.4 121.1L55.2 123.8L50.4 126.5L45.5 123.8Z" fill="#1e90ff"/>
<path d="M50.4 63.6L55.2 69.1L50.4 71.8L45.5 69.1ZM21.1 107.4L26.0 112.8L26.0 123.8L21.1 129.3L16.2 123.8L18.7 112.8ZM118.6 110.1L128.4 107.4L128.4 112.8L118.6 112.8L118.6 123.8L113.8 123.8L116.2 112.8ZM21.1 140.2L26.0 145.7L26.0 156.6L21.1 159.3L21.1 156.6L16.2 156.6L11.4 153.9L11.4 145.7L11.4 137.5Z" fill="#00bfff"/>
<path d="M16.2 145.7L11.4 148.4L11.4 145.7L11.4 142.9Z" fill="#a4d2fe"/>
<g clip-path="url(#cpA)">
<path d="M-22.8,30.8 49.6,30.8M49.6,28.7 51.4,29.2 52.3,32.3 56.2,33.4 60.1,33.0 65.0,34.4 69.9,35.2 74.8,35.7 76.7,36.3M18.7,30.8 18.7,8.9M49.6,28.7 49.6,8.9M125.9,8.9 125.9,17.1 125.9,39.0 126.9,41.7 129.4,45.6 135.7,47.8 141.5,49.9 150.3,51.0 151.3,52.7M149.3,52.7 164.9,52.7M164.9,52.7 166.9,51.0 169.3,49.4 171.3,45.6 172.2,43.4 176.1,39.3 180.5,39.8 183.0,41.5 183.0,48.9 184.7,49.4 185.9,51.6 186.9,53.0M6.3,30.8 6.3,74.6M-27.6,52.7 6.3,52.7M-27.6,74.6 16.0,74.6M16.0,74.6 16.0,96.4M6.3,47.5 42.8,47.5M6.3,63.6 33.3,63.6 38.2,64.4 41.1,65.0 43.3,66.4M16.0,80.0 48.9,80.0M-17.9,96.4 52.2,96.4M11.4,96.4 11.4,99.2 26.0,99.2 26.0,109.8M11.1,99.2 11.1,123.8 -6.2,123.8M26.0,109.8 28.4,110.7 30.9,111.8 33.3,112.3 35.8,112.8 38.2,113.7 40.6,114.2 43.1,113.9 45.5,113.7 47.9,113.4 50.4,113.7 52.9,114.8 55.1,115.3M55.1,115.3 55.1,118.3M55.1,118.3 55.1,123.8 56.2,126.5 57.4,129.3 56.7,132.0 56.5,134.7 56.0,136.4M55.1,118.3 69.1,118.3M52.9,114.8 53.2,105.2 52.2,99.2 52.2,85.0M52.2,85.0 50.9,82.8 49.9,81.1 48.9,80.0 46.6,76.7 46.2,74.6 46.0,71.8 45.0,69.1 43.3,66.4M43.3,66.4 42.6,63.6 43.3,60.9 43.3,51.0 42.8,47.5 41.8,44.5 41.6,41.7 40.6,37.9 40.1,34.6 39.5,30.8M43.3,60.9 68.8,60.9M46.6,76.7 66.3,76.7 67.8,78.0M52.2,99.2 74.0,99.2 72.9,101.9 76.1,101.9M64.5,43.1 63.5,46.7 61.3,49.7 61.1,52.7 63.5,55.4 66.5,57.1 68.9,60.9 69.1,63.6 71.6,66.4 73.8,69.6 71.8,71.8 69.4,74.0 67.8,78.0 68.4,81.1 71.3,84.4 73.8,86.6 73.8,89.3 76.7,93.2 77.2,94.8 78.9,96.4 78.6,98.6 77.2,99.2 76.2,101.9 74.5,105.2 74.3,107.4 71.8,110.1 70.4,112.8 69.1,118.3 69.4,121.1 69.9,123.8 67.0,129.3M67.0,129.3 76.1,129.3 76.7,131.4 76.9,133.6M71.6,66.4 85.5,66.4M86.5,52.1 85.5,49.4 82.1,47.8 77.2,46.7 72.8,44.2M88.4,70.5 100.1,70.7 106.7,70.6M86.8,70.5 86.8,83.3 86.5,86.0 85.7,89.3 84.3,92.1M100.1,70.7 100.1,85.0M121.0,69.1 121.0,76.5M78.9,96.4 82.1,95.9 84.3,92.1 86.9,91.5 90.4,91.2 92.8,91.0 95.2,89.3 97.7,87.1 100.1,85.0 103.0,86.6 105.5,87.4 108.9,87.1 110.8,88.8 112.8,86.6 114.7,85.0 117.2,83.3 119.1,81.1 120.6,78.4 121.0,76.5M77.2,99.2 84.3,99.2 84.3,98.2 94.2,98.5 105.6,98.6 115.3,98.6 123.5,98.9 133.2,98.9 143.6,98.9M105.6,98.6 108.9,97.3 110.8,95.3 112.3,93.7 114.0,93.4 110.8,90.1 110.8,88.8M114.0,93.4 117.6,94.8 121.1,94.0 122.5,91.5 124.5,89.3 125.9,88.0 126.9,86.0 129.8,85.2 131.5,83.3 134.2,83.9 134.7,83.9M126.0,81.6 126.0,84.4 128.9,83.0 131.5,82.2 134.2,83.0 135.7,85.0 137.6,86.0 137.1,87.7 138.6,89.3 141.5,91.0M121.0,81.6 144.0,81.6M144.0,81.6 144.1,88.5 147.6,88.5M121.0,69.1 124.7,67.6 124.7,69.1 146.1,69.1M146.1,69.1 147.4,70.2 149.3,72.6 147.4,75.4 147.9,77.8 149.1,79.2 147.4,80.6 145.4,81.7 145.2,82.8M149.3,72.6 152.8,74.6M155.2,74.0 155.2,68.8 156.3,65.0 156.4,52.7M155.2,68.8 163.5,69.0 163.5,72.9M165.5,69.0 165.5,71.8M156.3,65.0 165.9,65.3 167.6,64.4M160.3,65.1 160.5,60.9 162.3,56.5 164.9,52.7M168.8,63.1 167.6,60.9 167.0,55.4 167.0,51.0M73.3,107.4 102.4,107.4M83.5,107.4 84.0,112.8 82.2,124.3 82.5,129.3 82.5,132.5M96.2,107.4 98.1,118.3 99.1,122.1 98.6,126.0 99.1,129.3M86.5,129.3 99.1,129.3M86.5,129.3 87.2,132.0 86.9,133.1M99.1,129.3 99.8,130.9 112.8,131.6 113.8,132.5 115.0,132.0 116.2,130.9M102.4,107.4 104.5,106.3 106.4,104.4 108.9,103.3 111.3,101.9 113.8,101.1 115.3,98.6M108.4,107.4 109.9,110.1 112.3,112.8 114.2,115.6 116.2,118.3 118.1,122.7 119.1,123.8M108.4,107.4 113.8,106.3 118.6,106.6 119.1,108.5 125.0,108.5 130.6,113.7M-6.2,123.8 -5.2,125.2 -0.8,129.3 2.6,132.0 4.1,136.4 7.0,138.6 10.4,140.2 12.8,136.4 14.8,135.6 19.2,136.1 22.1,138.6 24.5,142.9 27.5,147.3 28.9,150.6 30.4,153.9 34.3,156.1 38.2,157.2 39.9,156.9M-5.7,159.3 1.6,153.9 5.5,152.8 9.9,162.1 15.3,164.3M10.4,140.2 12.8,145.7 13.8,151.1 11.4,156.6M26.0,145.7 24.5,148.4 27.0,153.9 28.4,159.3 31.9,162.1 34.3,166.5M15.3,164.3 21.1,159.3 23.6,152.2 24.5,148.4M37.2,167.6 34.3,166.5 29.9,170.3 28.4,174.1" fill="none" stroke="#111" stroke-width="0.9" stroke-linejoin="round"/>
<path d="M197.6,37.4 195.2,37.4 193.2,38.5 194.8,39.2 196.3,40.0 197.6,41.2 198.6,43.9 200.0,45.1 201.5,46.1 203.2,46.6 204.4,47.8 202.9,48.5 201.5,49.4 199.6,50.2 197.6,50.8 194.7,51.6 192.9,51.8 191.3,51.3 188.8,52.1 186.9,53.0 184.9,54.6 183.5,55.3 182.0,56.0 179.6,56.5 177.1,57.6 175.8,58.7 174.2,59.0 171.3,60.1 170.3,61.5 169.3,62.8 168.4,64.7 167.9,66.4 167.4,67.4 168.8,68.5 169.8,69.9 171.8,70.5 172.5,69.6 172.0,68.8 172.5,70.7 172.2,71.6 169.8,71.6 167.9,71.6 165.4,72.1 163.0,72.9 160.1,73.2 157.6,73.5 154.7,74.6 153.2,75.7 152.8,77.3 152.5,79.5 152.0,81.7 150.3,83.6 148.4,85.8 147.4,84.4 145.7,83.3 145.2,82.2 145.9,83.9 147.4,86.6 147.6,88.8 146.7,91.0 146.1,92.5 145.0,93.7 143.2,95.6 143.0,93.2 143.5,90.4 142.0,87.7 141.4,86.1 141.5,84.4 142.5,82.5 140.6,84.1 140.8,86.6 140.6,88.8 141.5,91.0 141.3,93.2 141.5,95.9 143.0,97.0 143.5,98.9 144.2,101.4 145.4,104.1 145.4,106.0 143.5,106.6 142.1,107.8 140.6,109.0 138.5,109.3 136.7,110.1 135.5,112.0 133.7,113.4 132.1,113.8 130.3,113.7 128.8,115.1 127.4,116.7 125.4,117.9 124.0,119.7 122.5,120.6 121.1,121.6 118.6,123.5 118.0,125.3 117.2,127.1 116.4,128.9 116.4,130.9 117.0,132.8 116.7,134.7 117.6,137.5 119.1,140.2 119.5,142.0 120.6,143.5 121.1,145.1 121.3,146.8 122.3,148.9 122.8,151.1 123.3,153.9 123.5,155.8 123.0,157.7 121.8,160.4 119.1,161.3 117.9,161.0 117.2,158.8 115.2,156.9 114.2,153.9 112.3,151.7 111.3,150.1 110.6,148.4 109.9,145.7 110.4,144.1 110.3,142.4 109.9,140.2 107.9,138.6 106.5,137.1 105.5,135.3 103.0,134.5 101.6,135.6 99.1,136.6 97.2,136.4 95.7,134.2 94.3,133.3 92.8,132.5 91.1,132.6 89.4,132.8 86.9,133.1 84.5,132.5 82.1,132.8 80.4,133.1 78.6,133.1 76.7,133.6 76.2,134.7 78.2,136.4 79.6,139.1 77.7,140.2 75.2,138.6 72.3,139.7 70.6,139.1 68.9,138.6 67.2,138.1 66.0,136.9 63.5,137.2 61.7,137.0 60.1,136.1 58.2,136.5 56.2,136.4 54.5,136.8 52.8,137.5 50.4,139.1 48.5,140.5 46.5,141.8 44.9,143.1 43.1,144.0 41.8,145.1 40.6,146.2 39.2,148.4 39.0,150.1 38.7,151.7 39.3,153.8 39.6,156.1 38.9,157.6 38.5,159.3 38.2,161.0 38.1,162.8 37.5,164.6 37.2,166.5 37.1,168.1 36.6,169.7 36.6,171.4 36.7,173.0 37.0,174.6 36.5,176.3 37.4,177.9 37.2,179.6 37.2,181.2M64.5,43.1 66.4,42.4 67.9,41.0 69.9,40.4 71.5,39.4 72.9,38.0 74.8,37.4 77.2,36.3 78.9,35.7 80.5,35.0 82.1,34.1 83.3,33.0 84.5,31.9 86.1,32.3 87.8,31.9 89.4,32.2 91.1,32.6 92.8,32.7 93.9,34.7 95.2,36.5 96.7,37.3 98.2,38.0 99.6,38.7 99.9,40.4 100.8,41.7 101.6,44.5 99.1,43.1 97.5,42.9 95.9,43.5 94.2,43.7 92.6,43.8 91.1,44.6 89.4,44.5 88.4,42.7 87.2,41.1 86.0,39.6 84.0,40.1 82.5,41.5 79.6,42.6 77.9,42.7 76.4,43.7 74.8,43.9 73.1,43.6 71.5,42.9 69.9,42.6 68.1,43.2 66.3,43.0 64.5,43.1M100.1,48.3 98.3,47.9 96.7,46.9 95.0,47.6 93.2,48.1 91.3,48.0 89.5,48.8 87.9,49.9 86.5,52.1 85.8,53.8 84.5,55.1 86.5,54.9 86.9,57.1 86.7,58.8 86.0,60.3 85.6,62.0 85.0,63.6 84.9,65.3 85.5,66.9 86.5,69.9 88.4,71.3 89.7,70.3 91.3,69.9 92.0,68.4 92.8,66.9 93.1,65.3 93.3,63.6 93.0,61.6 92.1,59.8 92.7,58.2 92.8,56.5 94.2,55.5 94.9,53.8 96.2,52.7 97.1,51.4 98.0,50.1 99.1,48.9 100.1,48.3M100.1,48.3 102.1,48.1 104.0,47.2 106.9,47.2 109.2,47.3 111.3,46.7 113.0,46.4 114.6,46.6 116.2,46.9 118.2,47.0 120.1,47.5 121.5,48.8 122.5,50.5 123.5,52.1 124.5,53.8 122.0,55.4 119.1,54.3 118.2,52.9 117.2,51.6 116.7,54.3 116.1,56.3 115.2,58.1 114.9,60.2 113.8,62.0 111.8,63.6 111.2,62.0 110.8,60.3 109.4,58.1 106.9,58.4 104.5,60.1 105.6,58.2 106.9,56.5 107.2,54.6 107.4,52.7 106.2,51.0 104.5,49.9 102.4,49.0 100.1,48.3M111.3,65.8 109.4,66.1 109.9,67.4 111.6,67.2 111.3,65.8M106.7,70.6 108.5,71.2 110.3,71.8 112.0,71.9 113.6,72.0 115.2,71.8 116.5,70.8 118.3,70.8 119.7,70.0 121.1,69.1 122.9,68.6 124.5,67.4 126.1,66.7 127.3,65.4 128.9,64.4 126.4,64.3 124.3,65.2 122.0,65.8 119.8,66.0 117.6,65.5 116.3,66.4 115.3,67.9 113.8,68.5 110.8,69.1 108.4,68.8 106.7,70.6M124.5,62.0 126.2,61.7 127.9,62.3 129.6,61.8 131.4,61.5 133.2,61.6 135.2,61.6 137.2,61.4 139.1,62.0 140.4,60.9 142.0,60.6 141.5,57.9 139.9,58.5 138.1,58.4 135.2,57.9 133.1,58.6 130.8,58.6 128.7,59.4 126.4,60.1 124.5,62.0M141.5,57.9 142.6,56.5 144.4,55.9 145.4,54.6 147.4,53.6 149.3,52.4 151.0,51.3 152.8,50.6 154.7,49.9 156.0,48.7 157.3,47.7 158.5,46.4 160.1,45.6 161.8,45.2 163.4,44.6 164.8,43.5 166.4,42.8 167.9,42.0 169.3,41.2M169.3,41.2 170.5,39.6 172.2,38.5 173.7,36.6 175.7,35.2 176.9,33.8 178.1,32.5 179.6,31.3 181.3,30.9 182.7,29.6 184.4,29.2 185.4,27.7 187.2,27.1 188.1,25.7 189.3,24.5 190.9,24.0 192.6,24.2 194.2,24.0 196.0,23.5 197.8,24.0 199.7,24.4 201.5,24.0M169.3,41.2 171.5,40.1 173.2,38.5 175.3,37.2 177.1,35.7 178.6,34.6 180.3,33.8 182.0,33.0 183.5,32.0 185.4,31.8 186.9,30.8 188.5,30.6 190.2,30.5 191.8,30.0 193.4,29.7 195.0,29.5 196.6,29.7 198.2,30.9 200.0,31.6 198.9,33.2 198.6,35.2 196.8,35.3 195.2,36.0 193.5,35.8 191.9,35.9 190.3,36.3 192.2,37.0 194.2,37.4 195.9,37.1 197.6,37.4M202.5,51.0 200.5,51.6 198.6,52.1 197.2,53.0 195.8,54.0 194.2,54.3 193.0,56.0 191.3,57.1 192.4,58.6 193.2,60.3 195.3,59.3 197.6,58.7 199.0,57.7 200.5,56.8 201.5,55.4 203.9,54.9 206.4,54.3M201.5,43.4 203.5,44.3 205.4,45.3 207.6,45.7 209.8,45.3 207.7,44.3 205.4,44.2 203.5,43.4 201.5,43.4" fill="none" stroke="#000" stroke-width="1.6" stroke-linejoin="round"/>
<path d="M118.9,151.4 120.3,151.4 120.6,152.8 119.6,152.8 118.9,151.4M133.2,152.5 135.7,153.3 137.6,154.4 137.1,156.6 136.1,155.2 135.2,153.6M134.0,161.5 133.3,163.3 132.3,164.8 133.4,166.2 134.7,167.6 135.2,164.8 134.4,163.3 134.0,161.5M139.6,159.3 140.8,160.5 142.0,161.5 142.0,163.7M49.6,28.7 50.9,27.5 53.3,26.7 54.8,27.8 52.8,29.4 51.4,31.1 49.6,30.8M48.9,36.3 50.9,36.1 52.8,36.0 51.8,34.9 48.9,35.4 48.9,36.3M82.1,28.1 84.0,29.7 83.7,27.4 84.0,25.1 81.1,24.2 79.6,26.4 82.1,28.1M57.7,23.7 59.3,23.7 60.9,23.4 62.6,23.7 64.3,24.5 66.0,25.3 63.5,24.8 61.8,25.0 60.1,24.8M41.1,23.1 43.5,22.9 43.5,20.8 44.0,18.8 42.9,17.5 41.9,16.1 40.6,14.9 40.4,16.6 39.6,18.2 40.5,19.8 41.1,21.5 41.1,23.1M34.8,24.2 34.3,22.0 33.4,20.7 32.6,19.3 31.4,18.2 29.9,16.6 31.3,18.2 32.8,19.9 33.6,21.5 34.3,23.1M28.0,17.1 26.4,15.5 24.5,14.4 24.8,12.7 25.5,11.1 23.1,9.5M9.4,36.8 11.3,37.4 13.3,37.6 16.2,38.5 17.7,38.5 19.2,39.3M22.6,45.0 23.7,46.6 24.5,48.3 24.0,50.0 23.1,51.6 25.0,53.8 24.0,55.4M122.0,45.6 123.8,45.6 125.5,46.1 124.0,45.3M151.8,18.8 153.4,17.8 155.2,17.1 156.3,18.6 157.6,19.9M160.5,34.1 161.9,33.2 163.5,32.7 162.5,34.1M150.3,33.0 152.0,32.5 153.7,31.9 155.2,33.5M177.1,19.3 178.2,18.0 179.1,16.6 181.0,18.8 179.6,20.4 177.1,19.3M121.1,11.7 122.0,13.0 122.7,14.4 123.8,15.6 124.5,17.1 126.3,15.8 128.4,14.9 128.7,13.2 129.4,11.7" fill="none" stroke="#000" stroke-width="2.0" stroke-linejoin="round" stroke-linecap="round"/>
</g></g>
<g transform="translate(409,177)">
<path d="M11.4 25.3L21.1 25.3L30.9 25.3L40.6 25.3L40.6 36.3L40.6 47.2L50.4 47.2L60.1 47.2L60.1 36.3L69.9 36.3L69.9 47.2L79.6 47.2L79.6 58.1L79.6 69.1L79.6 80.0L89.4 80.0L99.1 80.0L108.9 80.0L118.6 80.0L128.4 80.0L128.4 69.1L138.1 69.1L138.1 58.1L138.1 47.2L147.9 47.2L157.6 47.2L167.4 47.2L167.4 58.1L167.4 69.1L157.6 69.1L147.9 69.1L147.9 80.0L138.1 80.0L138.1 91.0L138.1 101.9L128.4 101.9L128.4 112.8L118.6 112.8L118.6 123.8L108.9 123.8L108.9 134.7L99.1 134.7L99.1 123.8L89.4 123.8L79.6 123.8L69.9 123.8L69.9 134.7L60.1 134.7L50.4 134.7L40.6 134.7L30.9 134.7L30.9 145.7L30.9 156.6L30.9 167.6L21.1 167.6L11.4 167.6L11.4 156.6L11.4 145.7L11.4 134.7L11.4 123.8L11.4 112.8L11.4 101.9L11.4 91.0L11.4 80.0L11.4 69.1L11.4 58.1L11.4 47.2L1.6 47.2L1.6 36.3L1.6 25.3Z" fill="#000080"/>
<path d="M30.9 30.8L40.6 30.8L40.6 36.3L40.6 47.2L50.4 47.2L60.1 47.2L60.1 41.7L65.0 36.3L69.9 36.3L69.9 47.2L79.6 47.2L79.6 58.1L79.6 69.1L79.6 80.0L89.4 80.0L99.1 80.0L108.9 80.0L118.6 80.0L128.4 80.0L128.4 69.1L138.1 69.1L138.1 63.6L147.9 63.6L157.6 63.6L167.4 63.6L167.4 69.1L157.6 69.1L147.9 69.1L147.9 80.0L138.1 80.0L138.1 91.0L138.1 101.9L128.4 101.9L128.4 112.8L118.6 112.8L118.6 123.8L108.9 123.8L108.9 134.7L99.1 134.7L99.1 123.8L89.4 123.8L79.6 123.8L69.9 123.8L69.9 134.7L60.1 134.7L50.4 134.7L40.6 134.7L30.9 134.7L30.9 145.7L30.9 156.6L30.9 167.6L21.1 167.6L16.2 167.6L11.4 164.8L11.4 156.6L11.4 145.7L11.4 134.7L11.4 123.8L11.4 118.3L16.2 112.8L16.2 101.9L21.1 96.4L26.0 91.0L26.0 80.0L21.1 74.6L16.2 69.1L16.2 58.1L21.1 52.7L26.0 47.2L26.0 36.3Z" fill="#0000cd"/>
<path d="M69.9 41.7L69.9 47.2L74.8 47.2L74.8 58.1L69.9 63.6L65.0 58.1L65.0 47.2ZM30.9 52.7L35.8 58.1L35.8 69.1L30.9 74.6L26.0 69.1L26.0 58.1ZM50.4 52.7L55.2 58.1L50.4 63.6L45.5 58.1ZM60.1 63.6L65.0 69.1L65.0 80.0L60.1 85.5L55.2 80.0L55.2 69.1ZM138.1 74.6L147.9 71.8L147.9 80.0L138.1 80.0L138.1 91.0L138.1 101.9L128.4 101.9L128.4 112.8L118.6 112.8L118.6 123.8L108.9 123.8L108.9 134.7L99.1 134.7L99.1 123.8L89.4 123.8L79.6 123.8L69.9 123.8L69.9 134.7L60.1 134.7L50.4 134.7L40.6 134.7L30.9 134.7L30.9 145.7L30.9 156.6L30.9 167.6L23.6 167.6L21.1 162.1L11.4 159.3L11.4 156.6L11.4 145.7L11.4 134.7L11.4 129.3L16.2 123.8L21.1 118.3L26.0 112.8L26.0 101.9L30.9 96.4L35.8 91.0L40.6 85.5L50.4 85.5L55.2 91.0L50.4 96.4L47.9 101.9L50.4 107.4L55.2 101.9L60.1 96.4L69.9 93.7L74.8 91.0L79.6 85.5L84.5 91.0L89.4 93.7L99.1 93.7L108.9 96.4L118.6 93.7L123.5 91.0L121.1 80.0L128.4 80.0L128.4 69.1L133.2 69.1ZM74.8 112.8L79.6 115.6L84.5 112.8L79.6 110.1Z" fill="#4169e1"/>
<path d="M133.2 80.0L128.4 85.5L125.9 80.0L128.4 80.0L128.4 74.6ZM147.9 77.3L147.9 80.0L143.0 80.0ZM138.1 85.5L138.1 91.0L138.1 101.9L128.4 101.9L128.4 112.8L118.6 112.8L118.6 123.8L108.9 123.8L108.9 134.7L99.1 134.7L99.1 123.8L89.4 123.8L79.6 123.8L69.9 123.8L69.9 134.7L60.1 134.7L55.2 134.7L55.2 123.8L60.1 118.3L69.9 118.3L79.6 121.1L89.4 118.3L94.2 112.8L89.4 107.4L79.6 104.6L69.9 107.4L65.0 101.9L69.9 99.2L79.6 96.4L89.4 99.2L99.1 99.2L104.0 101.9L108.9 104.6L113.8 101.9L118.6 99.2L128.4 96.4L133.2 91.0ZM40.6 96.4L43.1 101.9L40.6 107.4L35.8 101.9ZM30.9 115.6L40.6 118.3L45.5 123.8L45.5 134.7L40.6 134.7L30.9 134.7L30.9 140.2L28.4 145.7L21.1 153.9L11.4 154.8L11.4 145.7L11.4 136.6L16.2 134.7L21.1 129.3L23.6 123.8ZM30.9 162.1L30.9 167.6L28.4 167.6Z" fill="#1e90ff"/>
<path d="M108.9 110.1L118.6 107.4L123.5 112.8L118.6 112.8L118.6 123.8L108.9 123.8L108.9 134.7L104.0 134.7L104.0 123.8L104.0 112.8ZM30.9 121.1L35.8 123.8L30.9 129.3L28.4 123.8ZM21.1 140.2L23.6 145.7L21.1 148.4L11.4 151.1L11.4 145.7L11.4 140.2Z" fill="#00bfff"/>
<path d="M16.2 145.7L11.4 147.5L11.4 145.7L11.4 143.8Z" fill="#a4d2fe"/>
<g clip-path="url(#cpA)">
<path d="M-22.8,30.8 49.6,30.8M49.6,28.7 51.4,29.2 52.3,32.3 56.2,33.4 60.1,33.0 65.0,34.4 69.9,35.2 74.8,35.7 76.7,36.3M18.7,30.8 18.7,8.9M49.6,28.7 49.6,8.9M125.9,8.9 125.9,17.1 125.9,39.0 126.9,41.7 129.4,45.6 135.7,47.8 141.5,49.9 150.3,51.0 151.3,52.7M149.3,52.7 164.9,52.7M164.9,52.7 166.9,51.0 169.3,49.4 171.3,45.6 172.2,43.4 176.1,39.3 180.5,39.8 183.0,41.5 183.0,48.9 184.7,49.4 185.9,51.6 186.9,53.0M6.3,30.8 6.3,74.6M-27.6,52.7 6.3,52.7M-27.6,74.6 16.0,74.6M16.0,74.6 16.0,96.4M6.3,47.5 42.8,47.5M6.3,63.6 33.3,63.6 38.2,64.4 41.1,65.0 43.3,66.4M16.0,80.0 48.9,80.0M-17.9,96.4 52.2,96.4M11.4,96.4 11.4,99.2 26.0,99.2 26.0,109.8M11.1,99.2 11.1,123.8 -6.2,123.8M26.0,109.8 28.4,110.7 30.9,111.8 33.3,112.3 35.8,112.8 38.2,113.7 40.6,114.2 43.1,113.9 45.5,113.7 47.9,113.4 50.4,113.7 52.9,114.8 55.1,115.3M55.1,115.3 55.1,118.3M55.1,118.3 55.1,123.8 56.2,126.5 57.4,129.3 56.7,132.0 56.5,134.7 56.0,136.4M55.1,118.3 69.1,118.3M52.9,114.8 53.2,105.2 52.2,99.2 52.2,85.0M52.2,85.0 50.9,82.8 49.9,81.1 48.9,80.0 46.6,76.7 46.2,74.6 46.0,71.8 45.0,69.1 43.3,66.4M43.3,66.4 42.6,63.6 43.3,60.9 43.3,51.0 42.8,47.5 41.8,44.5 41.6,41.7 40.6,37.9 40.1,34.6 39.5,30.8M43.3,60.9 68.8,60.9M46.6,76.7 66.3,76.7 67.8,78.0M52.2,99.2 74.0,99.2 72.9,101.9 76.1,101.9M64.5,43.1 63.5,46.7 61.3,49.7 61.1,52.7 63.5,55.4 66.5,57.1 68.9,60.9 69.1,63.6 71.6,66.4 73.8,69.6 71.8,71.8 69.4,74.0 67.8,78.0 68.4,81.1 71.3,84.4 73.8,86.6 73.8,89.3 76.7,93.2 77.2,94.8 78.9,96.4 78.6,98.6 77.2,99.2 76.2,101.9 74.5,105.2 74.3,107.4 71.8,110.1 70.4,112.8 69.1,118.3 69.4,121.1 69.9,123.8 67.0,129.3M67.0,129.3 76.1,129.3 76.7,131.4 76.9,133.6M71.6,66.4 85.5,66.4M86.5,52.1 85.5,49.4 82.1,47.8 77.2,46.7 72.8,44.2M88.4,70.5 100.1,70.7 106.7,70.6M86.8,70.5 86.8,83.3 86.5,86.0 85.7,89.3 84.3,92.1M100.1,70.7 100.1,85.0M121.0,69.1 121.0,76.5M78.9,96.4 82.1,95.9 84.3,92.1 86.9,91.5 90.4,91.2 92.8,91.0 95.2,89.3 97.7,87.1 100.1,85.0 103.0,86.6 105.5,87.4 108.9,87.1 110.8,88.8 112.8,86.6 114.7,85.0 117.2,83.3 119.1,81.1 120.6,78.4 121.0,76.5M77.2,99.2 84.3,99.2 84.3,98.2 94.2,98.5 105.6,98.6 115.3,98.6 123.5,98.9 133.2,98.9 143.6,98.9M105.6,98.6 108.9,97.3 110.8,95.3 112.3,93.7 114.0,93.4 110.8,90.1 110.8,88.8M114.0,93.4 117.6,94.8 121.1,94.0 122.5,91.5 124.5,89.3 125.9,88.0 126.9,86.0 129.8,85.2 131.5,83.3 134.2,83.9 134.7,83.9M126.0,81.6 126.0,84.4 128.9,83.0 131.5,82.2 134.2,83.0 135.7,85.0 137.6,86.0 137.1,87.7 138.6,89.3 141.5,91.0M121.0,81.6 144.0,81.6M144.0,81.6 144.1,88.5 147.6,88.5M121.0,69.1 124.7,67.6 124.7,69.1 146.1,69.1M146.1,69.1 147.4,70.2 149.3,72.6 147.4,75.4 147.9,77.8 149.1,79.2 147.4,80.6 145.4,81.7 145.2,82.8M149.3,72.6 152.8,74.6M155.2,74.0 155.2,68.8 156.3,65.0 156.4,52.7M155.2,68.8 163.5,69.0 163.5,72.9M165.5,69.0 165.5,71.8M156.3,65.0 165.9,65.3 167.6,64.4M160.3,65.1 160.5,60.9 162.3,56.5 164.9,52.7M168.8,63.1 167.6,60.9 167.0,55.4 167.0,51.0M73.3,107.4 102.4,107.4M83.5,107.4 84.0,112.8 82.2,124.3 82.5,129.3 82.5,132.5M96.2,107.4 98.1,118.3 99.1,122.1 98.6,126.0 99.1,129.3M86.5,129.3 99.1,129.3M86.5,129.3 87.2,132.0 86.9,133.1M99.1,129.3 99.8,130.9 112.8,131.6 113.8,132.5 115.0,132.0 116.2,130.9M102.4,107.4 104.5,106.3 106.4,104.4 108.9,103.3 111.3,101.9 113.8,101.1 115.3,98.6M108.4,107.4 109.9,110.1 112.3,112.8 114.2,115.6 116.2,118.3 118.1,122.7 119.1,123.8M108.4,107.4 113.8,106.3 118.6,106.6 119.1,108.5 125.0,108.5 130.6,113.7M-6.2,123.8 -5.2,125.2 -0.8,129.3 2.6,132.0 4.1,136.4 7.0,138.6 10.4,140.2 12.8,136.4 14.8,135.6 19.2,136.1 22.1,138.6 24.5,142.9 27.5,147.3 28.9,150.6 30.4,153.9 34.3,156.1 38.2,157.2 39.9,156.9M-5.7,159.3 1.6,153.9 5.5,152.8 9.9,162.1 15.3,164.3M10.4,140.2 12.8,145.7 13.8,151.1 11.4,156.6M26.0,145.7 24.5,148.4 27.0,153.9 28.4,159.3 31.9,162.1 34.3,166.5M15.3,164.3 21.1,159.3 23.6,152.2 24.5,148.4M37.2,167.6 34.3,166.5 29.9,170.3 28.4,174.1" fill="none" stroke="#111" stroke-width="0.9" stroke-linejoin="round"/>
<path d="M197.6,37.4 195.2,37.4 193.2,38.5 194.8,39.2 196.3,40.0 197.6,41.2 198.6,43.9 200.0,45.1 201.5,46.1 203.2,46.6 204.4,47.8 202.9,48.5 201.5,49.4 199.6,50.2 197.6,50.8 194.7,51.6 192.9,51.8 191.3,51.3 188.8,52.1 186.9,53.0 184.9,54.6 183.5,55.3 182.0,56.0 179.6,56.5 177.1,57.6 175.8,58.7 174.2,59.0 171.3,60.1 170.3,61.5 169.3,62.8 168.4,64.7 167.9,66.4 167.4,67.4 168.8,68.5 169.8,69.9 171.8,70.5 172.5,69.6 172.0,68.8 172.5,70.7 172.2,71.6 169.8,71.6 167.9,71.6 165.4,72.1 163.0,72.9 160.1,73.2 157.6,73.5 154.7,74.6 153.2,75.7 152.8,77.3 152.5,79.5 152.0,81.7 150.3,83.6 148.4,85.8 147.4,84.4 145.7,83.3 145.2,82.2 145.9,83.9 147.4,86.6 147.6,88.8 146.7,91.0 146.1,92.5 145.0,93.7 143.2,95.6 143.0,93.2 143.5,90.4 142.0,87.7 141.4,86.1 141.5,84.4 142.5,82.5 140.6,84.1 140.8,86.6 140.6,88.8 141.5,91.0 141.3,93.2 141.5,95.9 143.0,97.0 143.5,98.9 144.2,101.4 145.4,104.1 145.4,106.0 143.5,106.6 142.1,107.8 140.6,109.0 138.5,109.3 136.7,110.1 135.5,112.0 133.7,113.4 132.1,113.8 130.3,113.7 128.8,115.1 127.4,116.7 125.4,117.9 124.0,119.7 122.5,120.6 121.1,121.6 118.6,123.5 118.0,125.3 117.2,127.1 116.4,128.9 116.4,130.9 117.0,132.8 116.7,134.7 117.6,137.5 119.1,140.2 119.5,142.0 120.6,143.5 121.1,145.1 121.3,146.8 122.3,148.9 122.8,151.1 123.3,153.9 123.5,155.8 123.0,157.7 121.8,160.4 119.1,161.3 117.9,161.0 117.2,158.8 115.2,156.9 114.2,153.9 112.3,151.7 111.3,150.1 110.6,148.4 109.9,145.7 110.4,144.1 110.3,142.4 109.9,140.2 107.9,138.6 106.5,137.1 105.5,135.3 103.0,134.5 101.6,135.6 99.1,136.6 97.2,136.4 95.7,134.2 94.3,133.3 92.8,132.5 91.1,132.6 89.4,132.8 86.9,133.1 84.5,132.5 82.1,132.8 80.4,133.1 78.6,133.1 76.7,133.6 76.2,134.7 78.2,136.4 79.6,139.1 77.7,140.2 75.2,138.6 72.3,139.7 70.6,139.1 68.9,138.6 67.2,138.1 66.0,136.9 63.5,137.2 61.7,137.0 60.1,136.1 58.2,136.5 56.2,136.4 54.5,136.8 52.8,137.5 50.4,139.1 48.5,140.5 46.5,141.8 44.9,143.1 43.1,144.0 41.8,145.1 40.6,146.2 39.2,148.4 39.0,150.1 38.7,151.7 39.3,153.8 39.6,156.1 38.9,157.6 38.5,159.3 38.2,161.0 38.1,162.8 37.5,164.6 37.2,166.5 37.1,168.1 36.6,169.7 36.6,171.4 36.7,173.0 37.0,174.6 36.5,176.3 37.4,177.9 37.2,179.6 37.2,181.2M64.5,43.1 66.4,42.4 67.9,41.0 69.9,40.4 71.5,39.4 72.9,38.0 74.8,37.4 77.2,36.3 78.9,35.7 80.5,35.0 82.1,34.1 83.3,33.0 84.5,31.9 86.1,32.3 87.8,31.9 89.4,32.2 91.1,32.6 92.8,32.7 93.9,34.7 95.2,36.5 96.7,37.3 98.2,38.0 99.6,38.7 99.9,40.4 100.8,41.7 101.6,44.5 99.1,43.1 97.5,42.9 95.9,43.5 94.2,43.7 92.6,43.8 91.1,44.6 89.4,44.5 88.4,42.7 87.2,41.1 86.0,39.6 84.0,40.1 82.5,41.5 79.6,42.6 77.9,42.7 76.4,43.7 74.8,43.9 73.1,43.6 71.5,42.9 69.9,42.6 68.1,43.2 66.3,43.0 64.5,43.1M100.1,48.3 98.3,47.9 96.7,46.9 95.0,47.6 93.2,48.1 91.3,48.0 89.5,48.8 87.9,49.9 86.5,52.1 85.8,53.8 84.5,55.1 86.5,54.9 86.9,57.1 86.7,58.8 86.0,60.3 85.6,62.0 85.0,63.6 84.9,65.3 85.5,66.9 86.5,69.9 88.4,71.3 89.7,70.3 91.3,69.9 92.0,68.4 92.8,66.9 93.1,65.3 93.3,63.6 93.0,61.6 92.1,59.8 92.7,58.2 92.8,56.5 94.2,55.5 94.9,53.8 96.2,52.7 97.1,51.4 98.0,50.1 99.1,48.9 100.1,48.3M100.1,48.3 102.1,48.1 104.0,47.2 106.9,47.2 109.2,47.3 111.3,46.7 113.0,46.4 114.6,46.6 116.2,46.9 118.2,47.0 120.1,47.5 121.5,48.8 122.5,50.5 123.5,52.1 124.5,53.8 122.0,55.4 119.1,54.3 118.2,52.9 117.2,51.6 116.7,54.3 116.1,56.3 115.2,58.1 114.9,60.2 113.8,62.0 111.8,63.6 111.2,62.0 110.8,60.3 109.4,58.1 106.9,58.4 104.5,60.1 105.6,58.2 106.9,56.5 107.2,54.6 107.4,52.7 106.2,51.0 104.5,49.9 102.4,49.0 100.1,48.3M111.3,65.8 109.4,66.1 109.9,67.4 111.6,67.2 111.3,65.8M106.7,70.6 108.5,71.2 110.3,71.8 112.0,71.9 113.6,72.0 115.2,71.8 116.5,70.8 118.3,70.8 119.7,70.0 121.1,69.1 122.9,68.6 124.5,67.4 126.1,66.7 127.3,65.4 128.9,64.4 126.4,64.3 124.3,65.2 122.0,65.8 119.8,66.0 117.6,65.5 116.3,66.4 115.3,67.9 113.8,68.5 110.8,69.1 108.4,68.8 106.7,70.6M124.5,62.0 126.2,61.7 127.9,62.3 129.6,61.8 131.4,61.5 133.2,61.6 135.2,61.6 137.2,61.4 139.1,62.0 140.4,60.9 142.0,60.6 141.5,57.9 139.9,58.5 138.1,58.4 135.2,57.9 133.1,58.6 130.8,58.6 128.7,59.4 126.4,60.1 124.5,62.0M141.5,57.9 142.6,56.5 144.4,55.9 145.4,54.6 147.4,53.6 149.3,52.4 151.0,51.3 152.8,50.6 154.7,49.9 156.0,48.7 157.3,47.7 158.5,46.4 160.1,45.6 161.8,45.2 163.4,44.6 164.8,43.5 166.4,42.8 167.9,42.0 169.3,41.2M169.3,41.2 170.5,39.6 172.2,38.5 173.7,36.6 175.7,35.2 176.9,33.8 178.1,32.5 179.6,31.3 181.3,30.9 182.7,29.6 184.4,29.2 185.4,27.7 187.2,27.1 188.1,25.7 189.3,24.5 190.9,24.0 192.6,24.2 194.2,24.0 196.0,23.5 197.8,24.0 199.7,24.4 201.5,24.0M169.3,41.2 171.5,40.1 173.2,38.5 175.3,37.2 177.1,35.7 178.6,34.6 180.3,33.8 182.0,33.0 183.5,32.0 185.4,31.8 186.9,30.8 188.5,30.6 190.2,30.5 191.8,30.0 193.4,29.7 195.0,29.5 196.6,29.7 198.2,30.9 200.0,31.6 198.9,33.2 198.6,35.2 196.8,35.3 195.2,36.0 193.5,35.8 191.9,35.9 190.3,36.3 192.2,37.0 194.2,37.4 195.9,37.1 197.6,37.4M202.5,51.0 200.5,51.6 198.6,52.1 197.2,53.0 195.8,54.0 194.2,54.3 193.0,56.0 191.3,57.1 192.4,58.6 193.2,60.3 195.3,59.3 197.6,58.7 199.0,57.7 200.5,56.8 201.5,55.4 203.9,54.9 206.4,54.3M201.5,43.4 203.5,44.3 205.4,45.3 207.6,45.7 209.8,45.3 207.7,44.3 205.4,44.2 203.5,43.4 201.5,43.4" fill="none" stroke="#000" stroke-width="1.6" stroke-linejoin="round"/>
<path d="M118.9,151.4 120.3,151.4 120.6,152.8 119.6,152.8 118.9,151.4M133.2,152.5 135.7,153.3 137.6,154.4 137.1,156.6 136.1,155.2 135.2,153.6M134.0,161.5 133.3,163.3 132.3,164.8 133.4,166.2 134.7,167.6 135.2,164.8 134.4,163.3 134.0,161.5M139.6,159.3 140.8,160.5 142.0,161.5 142.0,163.7M49.6,28.7 50.9,27.5 53.3,26.7 54.8,27.8 52.8,29.4 51.4,31.1 49.6,30.8M48.9,36.3 50.9,36.1 52.8,36.0 51.8,34.9 48.9,35.4 48.9,36.3M82.1,28.1 84.0,29.7 83.7,27.4 84.0,25.1 81.1,24.2 79.6,26.4 82.1,28.1M57.7,23.7 59.3,23.7 60.9,23.4 62.6,23.7 64.3,24.5 66.0,25.3 63.5,24.8 61.8,25.0 60.1,24.8M41.1,23.1 43.5,22.9 43.5,20.8 44.0,18.8 42.9,17.5 41.9,16.1 40.6,14.9 40.4,16.6 39.6,18.2 40.5,19.8 41.1,21.5 41.1,23.1M34.8,24.2 34.3,22.0 33.4,20.7 32.6,19.3 31.4,18.2 29.9,16.6 31.3,18.2 32.8,19.9 33.6,21.5 34.3,23.1M28.0,17.1 26.4,15.5 24.5,14.4 24.8,12.7 25.5,11.1 23.1,9.5M9.4,36.8 11.3,37.4 13.3,37.6 16.2,38.5 17.7,38.5 19.2,39.3M22.6,45.0 23.7,46.6 24.5,48.3 24.0,50.0 23.1,51.6 25.0,53.8 24.0,55.4M122.0,45.6 123.8,45.6 125.5,46.1 124.0,45.3M151.8,18.8 153.4,17.8 155.2,17.1 156.3,18.6 157.6,19.9M160.5,34.1 161.9,33.2 163.5,32.7 162.5,34.1M150.3,33.0 152.0,32.5 153.7,31.9 155.2,33.5M177.1,19.3 178.2,18.0 179.1,16.6 181.0,18.8 179.6,20.4 177.1,19.3M121.1,11.7 122.0,13.0 122.7,14.4 123.8,15.6 124.5,17.1 126.3,15.8 128.4,14.9 128.7,13.2 129.4,11.7" fill="none" stroke="#000" stroke-width="2.0" stroke-linejoin="round" stroke-linecap="round"/>
</g></g>
<g transform="translate(613.5,177)">
<path d="M11.4 25.3L21.1 25.3L30.9 25.3L40.6 25.3L40.6 36.3L40.6 47.2L50.4 47.2L60.1 47.2L60.1 36.3L69.9 36.3L69.9 47.2L79.6 47.2L79.6 58.1L79.6 69.1L79.6 80.0L89.4 80.0L99.1 80.0L108.9 80.0L118.6 80.0L128.4 80.0L128.4 69.1L128.4 58.1L118.6 58.1L118.6 47.2L128.4 47.2L138.1 47.2L147.9 47.2L147.9 36.3L157.6 36.3L167.4 36.3L167.4 47.2L167.4 58.1L167.4 69.1L157.6 69.1L147.9 69.1L147.9 80.0L138.1 80.0L138.1 91.0L138.1 101.9L128.4 101.9L128.4 112.8L118.6 112.8L118.6 123.8L108.9 123.8L108.9 134.7L99.1 134.7L99.1 123.8L89.4 123.8L79.6 123.8L69.9 123.8L69.9 134.7L60.1 134.7L50.4 134.7L40.6 134.7L30.9 134.7L30.9 145.7L30.9 156.6L30.9 167.6L21.1 167.6L11.4 167.6L11.4 156.6L11.4 145.7L11.4 134.7L11.4 123.8L11.4 112.8L11.4 101.9L11.4 91.0L1.6 91.0L1.6 80.0L11.4 80.0L11.4 69.1L11.4 58.1L1.6 58.1L1.6 47.2L1.6 36.3L1.6 25.3Z" fill="#000080"/>
<path d="M21.1 30.8L26.0 36.3L30.9 41.7L40.6 39.0L40.6 47.2L50.4 47.2L60.1 47.2L60.1 36.3L69.9 36.3L69.9 47.2L79.6 47.2L79.6 58.1L79.6 69.1L79.6 80.0L89.4 80.0L99.1 80.0L108.9 80.0L118.6 80.0L128.4 80.0L128.4 69.1L128.4 58.1L123.5 58.1L128.4 52.7L133.2 47.2L138.1 47.2L147.9 47.2L147.9 41.7L157.6 39.0L167.4 41.7L167.4 47.2L167.4 58.1L167.4 69.1L157.6 69.1L147.9 69.1L147.9 80.0L138.1 80.0L138.1 91.0L138.1 101.9L128.4 101.9L128.4 112.8L118.6 112.8L118.6 123.8L108.9 123.8L108.9 134.7L99.1 134.7L99.1 123.8L89.4 123.8L79.6 123.8L69.9 123.8L69.9 134.7L60.1 134.7L50.4 134.7L40.6 134.7L30.9 134.7L30.9 145.7L30.9 156.6L30.9 167.6L21.1 167.6L16.2 167.6L11.4 164.8L11.4 156.6L11.4 145.7L11.4 134.7L11.4 123.8L11.4 112.8L11.4 101.9L11.4 91.0L6.5 91.0L6.5 80.0L11.4 80.0L11.4 69.1L11.4 58.1L6.5 58.1L11.4 52.7L16.2 47.2L16.2 36.3ZM26.0 69.1L30.9 74.6L33.3 69.1L30.9 63.6Z" fill="#0000cd"/>
<path d="M40.6 44.5L40.6 47.2L45.5 47.2L50.4 52.7L60.1 52.7L62.6 47.2L69.9 39.0L69.9 47.2L77.2 47.2L74.8 58.1L69.9 63.6L60.1 63.6L50.4 63.6L45.5 69.1L50.4 71.8L60.1 74.6L65.0 80.0L65.0 91.0L69.9 96.4L74.8 91.0L79.6 85.5L89.4 85.5L94.2 80.0L99.1 80.0L108.9 80.0L118.6 80.0L128.4 80.0L128.4 69.1L128.4 60.9L138.1 63.6L147.9 63.6L152.8 58.1L152.8 47.2L157.6 44.5L162.5 47.2L162.5 58.1L167.4 63.6L167.4 69.1L157.6 69.1L147.9 69.1L147.9 80.0L138.1 80.0L138.1 91.0L138.1 101.9L128.4 101.9L128.4 112.8L118.6 112.8L118.6 123.8L108.9 123.8L108.9 134.7L99.1 134.7L99.1 123.8L89.4 123.8L79.6 123.8L69.9 123.8L69.9 134.7L60.1 134.7L50.4 134.7L40.6 134.7L30.9 134.7L30.9 145.7L30.9 156.6L30.9 167.6L26.0 167.6L21.1 162.1L11.4 159.3L11.4 156.6L11.4 145.7L11.4 136.1L16.2 134.7L16.2 123.8L21.1 118.3L26.0 112.8L26.0 101.9L21.1 96.4L16.2 91.0L21.1 85.5L30.9 85.5L35.8 80.0L38.2 69.1L35.8 58.1L35.8 47.2ZM57.7 112.8L60.1 118.3L65.0 112.8L60.1 110.1Z" fill="#4169e1"/>
<path d="M69.9 44.5L69.9 47.2L72.3 47.2L69.9 52.7L67.4 47.2ZM133.2 69.1L138.1 70.9L147.9 71.8L147.9 80.0L138.1 80.0L138.1 91.0L138.1 101.9L128.4 101.9L128.4 112.8L118.6 112.8L118.6 123.8L108.9 123.8L108.9 134.7L99.1 134.7L99.1 123.8L89.4 123.8L79.6 123.8L69.9 123.8L69.9 134.7L60.1 134.7L50.4 134.7L40.6 134.7L30.9 134.7L30.9 145.7L30.9 156.6L30.9 164.8L23.6 156.6L26.0 145.7L26.0 134.7L30.9 129.3L35.8 123.8L35.8 112.8L35.8 101.9L35.8 91.0L40.6 85.5L45.5 91.0L45.5 101.9L50.4 107.4L52.8 112.8L55.2 123.8L60.1 125.2L62.6 123.8L69.9 115.6L74.8 112.8L74.8 101.9L79.6 96.4L89.4 96.4L99.1 96.4L108.9 96.4L113.8 91.0L118.6 85.5L120.2 80.0L128.4 80.0L128.4 69.1L128.4 66.4ZM50.4 77.3L55.2 80.0L50.4 85.5L45.5 80.0ZM60.1 96.4L65.0 101.9L60.1 104.6L55.2 101.9ZM19.5 145.7L11.4 154.8L11.4 145.7L11.4 138.8Z" fill="#1e90ff"/>
<path d="M138.1 74.6L147.9 77.3L147.9 80.0L138.1 80.0L138.1 91.0L138.1 101.9L128.4 101.9L128.4 112.8L118.6 112.8L118.6 123.8L108.9 123.8L108.9 134.7L99.1 134.7L99.1 123.8L89.4 123.8L82.1 123.8L82.1 112.8L89.4 104.6L96.7 112.8L99.1 118.3L101.6 112.8L108.9 104.6L111.3 101.9L118.6 93.7L121.1 91.0L123.5 80.0L128.4 80.0L128.4 71.8ZM69.9 121.1L74.8 123.8L69.9 123.8L69.9 134.7L60.1 134.7L50.4 134.7L40.6 134.7L35.8 134.7L40.6 129.3L50.4 129.3L60.1 127.9L67.4 123.8ZM16.2 145.7L11.4 151.1L11.4 145.7L11.4 141.6ZM30.9 151.1L30.9 156.6L30.9 159.3L28.4 156.6Z" fill="#00bfff"/>
<path d="M138.1 78.2L143.0 80.0L138.1 80.0L138.1 91.0L138.1 101.9L128.4 101.9L128.4 112.8L118.6 112.8L118.6 123.8L108.9 123.8L108.9 134.7L99.1 134.7L99.1 124.5L100.1 123.8L106.4 112.8L108.9 110.1L116.2 101.9L118.6 99.2L125.9 91.0L126.8 80.0L128.4 80.0L128.4 77.3ZM89.4 110.1L91.8 112.8L94.2 123.8L89.4 123.8L86.9 123.8L86.9 112.8ZM60.1 130.6L69.9 125.2L69.9 134.7L60.1 134.7L52.8 134.7ZM13.0 145.7L11.4 147.5L11.4 145.7L11.4 144.3Z" fill="#a4d2fe"/>
<path d="M138.1 81.1L138.1 91.0L138.1 101.9L128.4 101.9L128.4 112.8L118.6 112.8L118.6 123.8L108.9 123.8L108.9 134.7L99.1 134.7L99.1 125.8L102.0 123.8L108.9 114.2L110.1 112.8L118.6 103.3L119.3 101.9L128.4 91.8L129.3 91.0ZM60.1 133.4L69.9 127.9L69.9 134.7L60.1 134.7L57.7 134.7Z" fill="#d2f2ff"/>
<path d="M138.1 83.3L138.1 91.0L138.1 101.9L128.4 101.9L128.4 112.8L118.6 112.8L118.6 123.8L108.9 123.8L108.9 134.7L99.1 134.7L99.1 127.2L104.0 123.8L108.9 117.0L112.5 112.8L118.6 106.0L120.7 101.9L128.4 93.3L131.3 91.0ZM69.9 130.6L69.9 134.7L62.6 134.7Z" fill="#fffac8"/>
<path d="M138.1 85.5L138.1 91.0L138.1 101.9L128.4 101.9L128.4 112.8L118.6 112.8L118.6 123.8L108.9 123.8L108.9 134.7L99.1 134.7L99.1 128.6L105.9 123.8L108.9 119.7L115.0 112.8L118.6 108.7L122.1 101.9L128.4 94.9L133.2 91.0ZM69.9 133.4L69.9 134.7L67.4 134.7Z" fill="#ffd93c"/>
<path d="M138.1 87.7L138.1 91.0L138.1 101.9L128.4 101.9L128.4 112.8L118.6 112.8L118.6 123.8L108.9 123.8L108.9 134.7L99.1 134.7L99.1 129.9L107.9 123.8L108.9 122.4L117.4 112.8L118.6 111.5L123.5 101.9L128.4 96.4L135.2 91.0Z" fill="#ffa500"/>
<path d="M138.1 89.9L138.1 91.0L138.1 101.9L128.4 101.9L128.4 112.8L120.2 112.8L124.9 101.9L128.4 98.0L137.2 91.0ZM118.6 114.7L118.6 123.8L110.5 123.8ZM108.9 124.9L108.9 134.7L99.1 134.7L99.1 131.3Z" fill="#ff7f00"/>
<path d="M128.4 99.6L138.1 93.7L138.1 101.9L128.4 101.9L128.4 112.8L123.5 112.8L126.3 101.9ZM118.6 118.3L118.6 123.8L113.8 123.8ZM108.9 127.1L108.9 134.7L99.1 134.7L99.1 132.7Z" fill="#ff0000"/>
<path d="M128.4 101.1L138.1 99.2L138.1 101.9L128.4 101.9L128.4 112.8L126.8 112.8L127.7 101.9ZM118.6 122.0L118.6 123.8L117.0 123.8ZM108.9 129.3L108.9 134.7L99.1 134.7L99.1 134.0Z" fill="#c80000"/>
<path d="M108.9 131.4L108.9 134.7L101.6 134.7Z" fill="#a01e23"/>
<path d="M108.9 133.6L108.9 134.7L106.4 134.7Z" fill="#ff69b4"/>
<g clip-path="url(#cpA)">
<path d="M-22.8,30.8 49.6,30.8M49.6,28.7 51.4,29.2 52.3,32.3 56.2,33.4 60.1,33.0 65.0,34.4 69.9,35.2 74.8,35.7 76.7,36.3M18.7,30.8 18.7,8.9M49.6,28.7 49.6,8.9M125.9,8.9 125.9,17.1 125.9,39.0 126.9,41.7 129.4,45.6 135.7,47.8 141.5,49.9 150.3,51.0 151.3,52.7M149.3,52.7 164.9,52.7M164.9,52.7 166.9,51.0 169.3,49.4 171.3,45.6 172.2,43.4 176.1,39.3 180.5,39.8 183.0,41.5 183.0,48.9 184.7,49.4 185.9,51.6 186.9,53.0M6.3,30.8 6.3,74.6M-27.6,52.7 6.3,52.7M-27.6,74.6 16.0,74.6M16.0,74.6 16.0,96.4M6.3,47.5 42.8,47.5M6.3,63.6 33.3,63.6 38.2,64.4 41.1,65.0 43.3,66.4M16.0,80.0 48.9,80.0M-17.9,96.4 52.2,96.4M11.4,96.4 11.4,99.2 26.0,99.2 26.0,109.8M11.1,99.2 11.1,123.8 -6.2,123.8M26.0,109.8 28.4,110.7 30.9,111.8 33.3,112.3 35.8,112.8 38.2,113.7 40.6,114.2 43.1,113.9 45.5,113.7 47.9,113.4 50.4,113.7 52.9,114.8 55.1,115.3M55.1,115.3 55.1,118.3M55.1,118.3 55.1,123.8 56.2,126.5 57.4,129.3 56.7,132.0 56.5,134.7 56.0,136.4M55.1,118.3 69.1,118.3M52.9,114.8 53.2,105.2 52.2,99.2 52.2,85.0M52.2,85.0 50.9,82.8 49.9,81.1 48.9,80.0 46.6,76.7 46.2,74.6 46.0,71.8 45.0,69.1 43.3,66.4M43.3,66.4 42.6,63.6 43.3,60.9 43.3,51.0 42.8,47.5 41.8,44.5 41.6,41.7 40.6,37.9 40.1,34.6 39.5,30.8M43.3,60.9 68.8,60.9M46.6,76.7 66.3,76.7 67.8,78.0M52.2,99.2 74.0,99.2 72.9,101.9 76.1,101.9M64.5,43.1 63.5,46.7 61.3,49.7 61.1,52.7 63.5,55.4 66.5,57.1 68.9,60.9 69.1,63.6 71.6,66.4 73.8,69.6 71.8,71.8 69.4,74.0 67.8,78.0 68.4,81.1 71.3,84.4 73.8,86.6 73.8,89.3 76.7,93.2 77.2,94.8 78.9,96.4 78.6,98.6 77.2,99.2 76.2,101.9 74.5,105.2 74.3,107.4 71.8,110.1 70.4,112.8 69.1,118.3 69.4,121.1 69.9,123.8 67.0,129.3M67.0,129.3 76.1,129.3 76.7,131.4 76.9,133.6M71.6,66.4 85.5,66.4M86.5,52.1 85.5,49.4 82.1,47.8 77.2,46.7 72.8,44.2M88.4,70.5 100.1,70.7 106.7,70.6M86.8,70.5 86.8,83.3 86.5,86.0 85.7,89.3 84.3,92.1M100.1,70.7 100.1,85.0M121.0,69.1 121.0,76.5M78.9,96.4 82.1,95.9 84.3,92.1 86.9,91.5 90.4,91.2 92.8,91.0 95.2,89.3 97.7,87.1 100.1,85.0 103.0,86.6 105.5,87.4 108.9,87.1 110.8,88.8 112.8,86.6 114.7,85.0 117.2,83.3 119.1,81.1 120.6,78.4 121.0,76.5M77.2,99.2 84.3,99.2 84.3,98.2 94.2,98.5 105.6,98.6 115.3,98.6 123.5,98.9 133.2,98.9 143.6,98.9M105.6,98.6 108.9,97.3 110.8,95.3 112.3,93.7 114.0,93.4 110.8,90.1 110.8,88.8M114.0,93.4 117.6,94.8 121.1,94.0 122.5,91.5 124.5,89.3 125.9,88.0 126.9,86.0 129.8,85.2 131.5,83.3 134.2,83.9 134.7,83.9M126.0,81.6 126.0,84.4 128.9,83.0 131.5,82.2 134.2,83.0 135.7,85.0 137.6,86.0 137.1,87.7 138.6,89.3 141.5,91.0M121.0,81.6 144.0,81.6M144.0,81.6 144.1,88.5 147.6,88.5M121.0,69.1 124.7,67.6 124.7,69.1 146.1,69.1M146.1,69.1 147.4,70.2 149.3,72.6 147.4,75.4 147.9,77.8 149.1,79.2 147.4,80.6 145.4,81.7 145.2,82.8M149.3,72.6 152.8,74.6M155.2,74.0 155.2,68.8 156.3,65.0 156.4,52.7M155.2,68.8 163.5,69.0 163.5,72.9M165.5,69.0 165.5,71.8M156.3,65.0 165.9,65.3 167.6,64.4M160.3,65.1 160.5,60.9 162.3,56.5 164.9,52.7M168.8,63.1 167.6,60.9 167.0,55.4 167.0,51.0M73.3,107.4 102.4,107.4M83.5,107.4 84.0,112.8 82.2,124.3 82.5,129.3 82.5,132.5M96.2,107.4 98.1,118.3 99.1,122.1 98.6,126.0 99.1,129.3M86.5,129.3 99.1,129.3M86.5,129.3 87.2,132.0 86.9,133.1M99.1,129.3 99.8,130.9 112.8,131.6 113.8,132.5 115.0,132.0 116.2,130.9M102.4,107.4 104.5,106.3 106.4,104.4 108.9,103.3 111.3,101.9 113.8,101.1 115.3,98.6M108.4,107.4 109.9,110.1 112.3,112.8 114.2,115.6 116.2,118.3 118.1,122.7 119.1,123.8M108.4,107.4 113.8,106.3 118.6,106.6 119.1,108.5 125.0,108.5 130.6,113.7M-6.2,123.8 -5.2,125.2 -0.8,129.3 2.6,132.0 4.1,136.4 7.0,138.6 10.4,140.2 12.8,136.4 14.8,135.6 19.2,136.1 22.1,138.6 24.5,142.9 27.5,147.3 28.9,150.6 30.4,153.9 34.3,156.1 38.2,157.2 39.9,156.9M-5.7,159.3 1.6,153.9 5.5,152.8 9.9,162.1 15.3,164.3M10.4,140.2 12.8,145.7 13.8,151.1 11.4,156.6M26.0,145.7 24.5,148.4 27.0,153.9 28.4,159.3 31.9,162.1 34.3,166.5M15.3,164.3 21.1,159.3 23.6,152.2 24.5,148.4M37.2,167.6 34.3,166.5 29.9,170.3 28.4,174.1" fill="none" stroke="#111" stroke-width="0.9" stroke-linejoin="round"/>
<path d="M197.6,37.4 195.2,37.4 193.2,38.5 194.8,39.2 196.3,40.0 197.6,41.2 198.6,43.9 200.0,45.1 201.5,46.1 203.2,46.6 204.4,47.8 202.9,48.5 201.5,49.4 199.6,50.2 197.6,50.8 194.7,51.6 192.9,51.8 191.3,51.3 188.8,52.1 186.9,53.0 184.9,54.6 183.5,55.3 182.0,56.0 179.6,56.5 177.1,57.6 175.8,58.7 174.2,59.0 171.3,60.1 170.3,61.5 169.3,62.8 168.4,64.7 167.9,66.4 167.4,67.4 168.8,68.5 169.8,69.9 171.8,70.5 172.5,69.6 172.0,68.8 172.5,70.7 172.2,71.6 169.8,71.6 167.9,71.6 165.4,72.1 163.0,72.9 160.1,73.2 157.6,73.5 154.7,74.6 153.2,75.7 152.8,77.3 152.5,79.5 152.0,81.7 150.3,83.6 148.4,85.8 147.4,84.4 145.7,83.3 145.2,82.2 145.9,83.9 147.4,86.6 147.6,88.8 146.7,91.0 146.1,92.5 145.0,93.7 143.2,95.6 143.0,93.2 143.5,90.4 142.0,87.7 141.4,86.1 141.5,84.4 142.5,82.5 140.6,84.1 140.8,86.6 140.6,88.8 141.5,91.0 141.3,93.2 141.5,95.9 143.0,97.0 143.5,98.9 144.2,101.4 145.4,104.1 145.4,106.0 143.5,106.6 142.1,107.8 140.6,109.0 138.5,109.3 136.7,110.1 135.5,112.0 133.7,113.4 132.1,113.8 130.3,113.7 128.8,115.1 127.4,116.7 125.4,117.9 124.0,119.7 122.5,120.6 121.1,121.6 118.6,123.5 118.0,125.3 117.2,127.1 116.4,128.9 116.4,130.9 117.0,132.8 116.7,134.7 117.6,137.5 119.1,140.2 119.5,142.0 120.6,143.5 121.1,145.1 121.3,146.8 122.3,148.9 122.8,151.1 123.3,153.9 123.5,155.8 123.0,157.7 121.8,160.4 119.1,161.3 117.9,161.0 117.2,158.8 115.2,156.9 114.2,153.9 112.3,151.7 111.3,150.1 110.6,148.4 109.9,145.7 110.4,144.1 110.3,142.4 109.9,140.2 107.9,138.6 106.5,137.1 105.5,135.3 103.0,134.5 101.6,135.6 99.1,136.6 97.2,136.4 95.7,134.2 94.3,133.3 92.8,132.5 91.1,132.6 89.4,132.8 86.9,133.1 84.5,132.5 82.1,132.8 80.4,133.1 78.6,133.1 76.7,133.6 76.2,134.7 78.2,136.4 79.6,139.1 77.7,140.2 75.2,138.6 72.3,139.7 70.6,139.1 68.9,138.6 67.2,138.1 66.0,136.9 63.5,137.2 61.7,137.0 60.1,136.1 58.2,136.5 56.2,136.4 54.5,136.8 52.8,137.5 50.4,139.1 48.5,140.5 46.5,141.8 44.9,143.1 43.1,144.0 41.8,145.1 40.6,146.2 39.2,148.4 39.0,150.1 38.7,151.7 39.3,153.8 39.6,156.1 38.9,157.6 38.5,159.3 38.2,161.0 38.1,162.8 37.5,164.6 37.2,166.5 37.1,168.1 36.6,169.7 36.6,171.4 36.7,173.0 37.0,174.6 36.5,176.3 37.4,177.9 37.2,179.6 37.2,181.2M64.5,43.1 66.4,42.4 67.9,41.0 69.9,40.4 71.5,39.4 72.9,38.0 74.8,37.4 77.2,36.3 78.9,35.7 80.5,35.0 82.1,34.1 83.3,33.0 84.5,31.9 86.1,32.3 87.8,31.9 89.4,32.2 91.1,32.6 92.8,32.7 93.9,34.7 95.2,36.5 96.7,37.3 98.2,38.0 99.6,38.7 99.9,40.4 100.8,41.7 101.6,44.5 99.1,43.1 97.5,42.9 95.9,43.5 94.2,43.7 92.6,43.8 91.1,44.6 89.4,44.5 88.4,42.7 87.2,41.1 86.0,39.6 84.0,40.1 82.5,41.5 79.6,42.6 77.9,42.7 76.4,43.7 74.8,43.9 73.1,43.6 71.5,42.9 69.9,42.6 68.1,43.2 66.3,43.0 64.5,43.1M100.1,48.3 98.3,47.9 96.7,46.9 95.0,47.6 93.2,48.1 91.3,48.0 89.5,48.8 87.9,49.9 86.5,52.1 85.8,53.8 84.5,55.1 86.5,54.9 86.9,57.1 86.7,58.8 86.0,60.3 85.6,62.0 85.0,63.6 84.9,65.3 85.5,66.9 86.5,69.9 88.4,71.3 89.7,70.3 91.3,69.9 92.0,68.4 92.8,66.9 93.1,65.3 93.3,63.6 93.0,61.6 92.1,59.8 92.7,58.2 92.8,56.5 94.2,55.5 94.9,53.8 96.2,52.7 97.1,51.4 98.0,50.1 99.1,48.9 100.1,48.3M100.1,48.3 102.1,48.1 104.0,47.2 106.9,47.2 109.2,47.3 111.3,46.7 113.0,46.4 114.6,46.6 116.2,46.9 118.2,47.0 120.1,47.5 121.5,48.8 122.5,50.5 123.5,52.1 124.5,53.8 122.0,55.4 119.1,54.3 118.2,52.9 117.2,51.6 116.7,54.3 116.1,56.3 115.2,58.1 114.9,60.2 113.8,62.0 111.8,63.6 111.2,62.0 110.8,60.3 109.4,58.1 106.9,58.4 104.5,60.1 105.6,58.2 106.9,56.5 107.2,54.6 107.4,52.7 106.2,51.0 104.5,49.9 102.4,49.0 100.1,48.3M111.3,65.8 109.4,66.1 109.9,67.4 111.6,67.2 111.3,65.8M106.7,70.6 108.5,71.2 110.3,71.8 112.0,71.9 113.6,72.0 115.2,71.8 116.5,70.8 118.3,70.8 119.7,70.0 121.1,69.1 122.9,68.6 124.5,67.4 126.1,66.7 127.3,65.4 128.9,64.4 126.4,64.3 124.3,65.2 122.0,65.8 119.8,66.0 117.6,65.5 116.3,66.4 115.3,67.9 113.8,68.5 110.8,69.1 108.4,68.8 106.7,70.6M124.5,62.0 126.2,61.7 127.9,62.3 129.6,61.8 131.4,61.5 133.2,61.6 135.2,61.6 137.2,61.4 139.1,62.0 140.4,60.9 142.0,60.6 141.5,57.9 139.9,58.5 138.1,58.4 135.2,57.9 133.1,58.6 130.8,58.6 128.7,59.4 126.4,60.1 124.5,62.0M141.5,57.9 142.6,56.5 144.4,55.9 145.4,54.6 147.4,53.6 149.3,52.4 151.0,51.3 152.8,50.6 154.7,49.9 156.0,48.7 157.3,47.7 158.5,46.4 160.1,45.6 161.8,45.2 163.4,44.6 164.8,43.5 166.4,42.8 167.9,42.0 169.3,41.2M169.3,41.2 170.5,39.6 172.2,38.5 173.7,36.6 175.7,35.2 176.9,33.8 178.1,32.5 179.6,31.3 181.3,30.9 182.7,29.6 184.4,29.2 185.4,27.7 187.2,27.1 188.1,25.7 189.3,24.5 190.9,24.0 192.6,24.2 194.2,24.0 196.0,23.5 197.8,24.0 199.7,24.4 201.5,24.0M169.3,41.2 171.5,40.1 173.2,38.5 175.3,37.2 177.1,35.7 178.6,34.6 180.3,33.8 182.0,33.0 183.5,32.0 185.4,31.8 186.9,30.8 188.5,30.6 190.2,30.5 191.8,30.0 193.4,29.7 195.0,29.5 196.6,29.7 198.2,30.9 200.0,31.6 198.9,33.2 198.6,35.2 196.8,35.3 195.2,36.0 193.5,35.8 191.9,35.9 190.3,36.3 192.2,37.0 194.2,37.4 195.9,37.1 197.6,37.4M202.5,51.0 200.5,51.6 198.6,52.1 197.2,53.0 195.8,54.0 194.2,54.3 193.0,56.0 191.3,57.1 192.4,58.6 193.2,60.3 195.3,59.3 197.6,58.7 199.0,57.7 200.5,56.8 201.5,55.4 203.9,54.9 206.4,54.3M201.5,43.4 203.5,44.3 205.4,45.3 207.6,45.7 209.8,45.3 207.7,44.3 205.4,44.2 203.5,43.4 201.5,43.4" fill="none" stroke="#000" stroke-width="1.6" stroke-linejoin="round"/>
<path d="M118.9,151.4 120.3,151.4 120.6,152.8 119.6,152.8 118.9,151.4M133.2,152.5 135.7,153.3 137.6,154.4 137.1,156.6 136.1,155.2 135.2,153.6M134.0,161.5 133.3,163.3 132.3,164.8 133.4,166.2 134.7,167.6 135.2,164.8 134.4,163.3 134.0,161.5M139.6,159.3 140.8,160.5 142.0,161.5 142.0,163.7M49.6,28.7 50.9,27.5 53.3,26.7 54.8,27.8 52.8,29.4 51.4,31.1 49.6,30.8M48.9,36.3 50.9,36.1 52.8,36.0 51.8,34.9 48.9,35.4 48.9,36.3M82.1,28.1 84.0,29.7 83.7,27.4 84.0,25.1 81.1,24.2 79.6,26.4 82.1,28.1M57.7,23.7 59.3,23.7 60.9,23.4 62.6,23.7 64.3,24.5 66.0,25.3 63.5,24.8 61.8,25.0 60.1,24.8M41.1,23.1 43.5,22.9 43.5,20.8 44.0,18.8 42.9,17.5 41.9,16.1 40.6,14.9 40.4,16.6 39.6,18.2 40.5,19.8 41.1,21.5 41.1,23.1M34.8,24.2 34.3,22.0 33.4,20.7 32.6,19.3 31.4,18.2 29.9,16.6 31.3,18.2 32.8,19.9 33.6,21.5 34.3,23.1M28.0,17.1 26.4,15.5 24.5,14.4 24.8,12.7 25.5,11.1 23.1,9.5M9.4,36.8 11.3,37.4 13.3,37.6 16.2,38.5 17.7,38.5 19.2,39.3M22.6,45.0 23.7,46.6 24.5,48.3 24.0,50.0 23.1,51.6 25.0,53.8 24.0,55.4M122.0,45.6 123.8,45.6 125.5,46.1 124.0,45.3M151.8,18.8 153.4,17.8 155.2,17.1 156.3,18.6 157.6,19.9M160.5,34.1 161.9,33.2 163.5,32.7 162.5,34.1M150.3,33.0 152.0,32.5 153.7,31.9 155.2,33.5M177.1,19.3 178.2,18.0 179.1,16.6 181.0,18.8 179.6,20.4 177.1,19.3M121.1,11.7 122.0,13.0 122.7,14.4 123.8,15.6 124.5,17.1 126.3,15.8 128.4,14.9 128.7,13.2 129.4,11.7" fill="none" stroke="#000" stroke-width="2.0" stroke-linejoin="round" stroke-linecap="round"/>
</g></g>
<g transform="translate(0,395)">
<path d="M21.1 25.2L30.9 25.2L30.9 35.2L40.6 35.2L40.6 45.5L50.4 45.5L60.1 45.5L60.1 35.2L69.9 35.2L69.9 45.5L79.6 45.5L79.6 56.2L79.6 67.2L79.6 78.5L89.4 78.5L99.1 78.5L108.9 78.5L118.6 78.5L128.4 78.5L128.4 67.2L128.4 56.2L138.1 56.2L138.1 45.5L147.9 45.5L157.6 45.5L167.4 45.5L167.4 56.2L167.4 67.2L157.6 67.2L147.9 67.2L147.9 78.5L138.1 78.5L138.1 90.2L138.1 102.1L128.4 102.1L128.4 114.4L118.6 114.4L118.6 127.0L108.9 127.0L108.9 140.0L99.1 140.0L99.1 127.0L89.4 127.0L79.6 127.0L69.9 127.0L69.9 140.0L60.1 140.0L50.4 140.0L40.6 140.0L30.9 140.0L30.9 153.3L30.9 166.9L21.1 166.9L11.4 166.9L11.4 153.3L11.4 140.0L11.4 127.0L11.4 114.4L11.4 102.1L11.4 90.2L11.4 78.5L11.4 67.2L11.4 56.2L11.4 45.5L11.4 35.2L11.4 25.2Z" fill="#313695"/>
<path d="M21.1 25.2L30.9 25.2L30.9 35.2L40.6 35.2L40.6 45.5L50.4 45.5L60.1 45.5L60.1 35.2L69.9 35.2L69.9 45.5L79.6 45.5L79.6 56.2L79.6 67.2L79.6 78.5L89.4 78.5L99.1 78.5L108.9 78.5L118.6 78.5L128.4 78.5L128.4 67.2L128.4 56.2L138.1 56.2L138.1 45.5L147.9 45.5L157.6 45.5L167.4 45.5L167.4 56.2L167.4 67.2L157.6 67.2L147.9 67.2L147.9 78.5L138.1 78.5L138.1 90.2L138.1 102.1L128.4 102.1L128.4 114.4L118.6 114.4L118.6 127.0L108.9 127.0L108.9 140.0L99.1 140.0L99.1 127.0L89.4 127.0L79.6 127.0L69.9 127.0L69.9 140.0L60.1 140.0L50.4 140.0L40.6 140.0L30.9 140.0L30.9 153.3L30.9 166.9L21.1 166.9L11.4 166.9L11.4 153.3L11.4 140.0L11.4 127.0L11.4 114.4L11.4 102.1L11.4 90.2L11.4 78.5L11.4 67.2L11.4 56.2L11.4 45.5L11.4 35.2L11.4 25.2Z" fill="#4575b4"/>
<path d="M21.1 25.2L30.9 25.2L30.9 35.2L40.6 35.2L40.6 45.5L50.4 45.5L60.1 45.5L60.1 35.2L69.9 35.2L69.9 45.5L79.6 45.5L79.6 56.2L79.6 67.2L79.6 78.5L89.4 78.5L99.1 78.5L108.9 78.5L118.6 78.5L128.4 78.5L128.4 67.2L128.4 56.2L138.1 56.2L138.1 45.5L147.9 45.5L157.6 45.5L167.4 45.5L167.4 56.2L167.4 67.2L157.6 67.2L147.9 67.2L147.9 78.5L138.1 78.5L138.1 90.2L138.1 102.1L128.4 102.1L128.4 114.4L118.6 114.4L118.6 127.0L108.9 127.0L108.9 140.0L99.1 140.0L99.1 127.0L89.4 127.0L79.6 127.0L69.9 127.0L69.9 140.0L60.1 140.0L50.4 140.0L40.6 140.0L30.9 140.0L30.9 153.3L30.9 166.9L21.1 166.9L11.4 166.9L11.4 153.3L11.4 140.0L11.4 127.0L11.4 114.4L11.4 102.1L11.4 90.2L11.4 78.5L11.4 67.2L11.4 56.2L11.4 50.9L13.8 45.5L11.4 43.0L11.4 35.2L11.4 25.2ZM28.4 127.0L30.9 130.3L33.3 127.0L30.9 123.9Z" fill="#74add1"/>
<path d="M21.1 30.2L30.9 26.5L30.9 35.2L40.6 35.2L40.6 45.5L50.4 45.5L60.1 45.5L60.1 35.2L69.9 35.2L69.9 45.5L79.6 45.5L79.6 56.2L79.6 67.2L79.6 78.5L89.4 78.5L99.1 78.5L108.9 78.5L118.6 78.5L128.4 78.5L128.4 67.2L128.4 56.2L138.1 56.2L138.1 45.5L147.9 45.5L157.6 45.5L167.4 45.5L167.4 56.2L167.4 67.2L157.6 67.2L147.9 67.2L147.9 78.5L138.1 78.5L138.1 90.2L138.1 102.1L128.4 102.1L128.4 114.4L118.6 114.4L118.6 127.0L108.9 127.0L108.9 140.0L99.1 140.0L99.1 127.0L89.4 127.0L79.6 127.0L69.9 127.0L69.9 140.0L60.1 140.0L50.4 140.0L40.6 140.0L30.9 140.0L30.9 153.3L30.9 166.9L21.1 166.9L11.4 166.9L11.4 153.3L11.4 140.0L11.4 127.0L11.4 114.4L11.4 102.1L11.4 90.2L11.4 78.5L11.4 67.2L11.4 61.7L16.2 56.2L18.7 45.5L11.4 37.8L11.4 35.2L11.4 25.2L19.5 25.2ZM57.7 67.2L60.1 69.1L65.0 67.2L60.1 61.7ZM26.0 78.5L26.0 90.2L30.9 96.1L35.8 102.1L40.6 105.2L42.2 102.1L45.5 90.2L40.6 84.3L35.8 78.5L30.9 72.9ZM77.2 90.2L77.2 102.1L79.6 108.3L82.1 102.1L84.5 90.2L79.6 84.3ZM23.6 127.0L30.9 136.8L38.2 127.0L30.9 117.6Z" fill="#abd9e9"/>
<path d="M11.4 32.7L11.4 25.2L16.2 25.2ZM30.9 29.0L30.9 35.2L40.6 35.2L40.6 45.5L50.4 45.5L60.1 45.5L60.1 35.2L69.9 35.2L69.9 45.5L79.6 45.5L79.6 56.2L79.6 65.8L69.9 65.4L61.8 56.2L60.1 55.3L57.7 56.2L52.8 67.2L60.1 72.9L69.9 69.1L78.0 78.5L72.3 90.2L72.3 102.1L69.9 108.3L68.7 114.4L60.1 125.5L50.4 124.9L40.6 120.7L35.8 114.4L40.6 111.3L45.5 102.1L50.4 93.1L55.2 90.2L50.4 84.3L45.5 78.5L40.6 72.9L35.8 67.2L30.9 64.4L23.6 56.2L23.6 45.5L22.8 35.2ZM147.9 45.5L157.6 45.5L167.4 45.5L167.4 56.2L167.4 67.2L157.6 67.2L147.9 67.2L147.9 78.5L138.1 78.5L138.1 90.2L138.1 102.1L128.4 102.1L128.4 114.4L118.6 114.4L118.6 127.0L108.9 127.0L108.9 140.0L99.1 140.0L99.1 127.0L89.4 127.0L79.6 127.0L74.8 127.0L79.6 120.7L81.2 114.4L86.9 102.1L89.4 96.1L94.2 90.2L99.1 84.3L104.0 78.5L108.9 78.5L118.6 78.5L128.4 78.5L128.4 67.2L128.4 57.1L138.1 57.3L147.9 58.0L150.3 56.2L147.9 50.9L138.1 55.3L138.1 45.5ZM18.7 90.2L21.1 96.1L26.0 102.1L26.0 114.4L21.1 120.7L16.2 127.0L20.1 140.0L21.1 141.1L30.9 143.3L30.9 153.3L30.9 166.9L21.1 166.9L12.6 166.9L11.4 165.5L11.4 153.3L11.4 140.0L11.4 127.0L11.4 114.4L11.4 102.1L11.4 90.2L11.4 81.4ZM40.6 129.2L50.4 130.3L60.1 130.3L69.9 130.3L69.9 140.0L60.1 140.0L50.4 140.0L40.6 140.0L32.5 140.0Z" fill="#e0f3f8"/>
<path d="M11.4 27.7L11.4 25.2L13.0 25.2ZM30.9 31.5L30.9 35.2L40.6 35.2L40.6 45.5L47.9 45.5L50.4 50.9L51.3 45.5L60.1 45.5L60.1 35.2L69.9 35.2L69.9 45.5L79.6 45.5L79.6 56.2L79.6 63.1L69.9 61.7L65.0 56.2L60.1 53.5L52.8 56.2L50.4 61.7L40.6 65.8L30.9 59.0L28.4 56.2L28.4 45.5L26.0 35.2ZM138.1 53.5L138.1 45.5L146.9 45.5ZM157.6 45.5L167.4 45.5L167.4 56.2L167.4 67.2L157.6 67.2L147.9 67.2L147.9 78.5L138.1 78.5L138.1 90.2L138.1 102.1L128.4 102.1L128.4 114.4L118.6 114.4L118.6 127.0L108.9 127.0L108.9 140.0L99.1 140.0L99.1 127.0L89.4 127.0L80.8 127.0L84.5 114.4L89.4 105.2L94.2 102.1L99.1 96.1L101.6 90.2L108.9 81.4L111.3 78.5L118.6 78.5L128.4 78.5L128.4 67.2L128.4 59.0L138.1 59.5L147.9 61.7L155.2 56.2L150.3 45.5ZM60.1 76.6L69.9 72.9L74.8 78.5L69.9 87.2L60.1 84.3L55.2 78.5ZM13.8 90.2L11.4 96.1L11.4 90.2L11.4 87.2ZM50.4 99.1L55.2 102.1L60.1 104.2L66.2 114.4L60.1 122.3L50.4 120.7L43.1 114.4L48.8 102.1ZM18.2 140.0L21.1 143.3L30.9 150.0L30.9 153.3L30.9 166.9L21.1 166.9L15.0 166.9L11.4 162.8L11.4 153.3L11.4 140.0L11.4 128.7ZM40.6 133.5L50.4 136.8L60.1 136.8L69.9 136.8L69.9 140.0L60.1 140.0L50.4 140.0L40.6 140.0L35.8 140.0Z" fill="#ffffbf"/>
<path d="M30.9 34.0L30.9 35.2L40.6 35.2L40.6 45.5L43.1 45.5L48.8 56.2L40.6 63.1L32.5 56.2L35.8 45.5L30.9 40.4L29.2 35.2ZM69.9 35.2L69.9 45.5L79.6 45.5L79.6 56.2L79.6 60.3L69.9 58.0L68.2 56.2L60.1 51.8L53.3 45.5L60.1 45.5L60.1 35.2ZM138.1 51.8L138.1 45.5L144.9 45.5ZM157.6 45.5L167.4 45.5L167.4 50.9L157.6 50.9L155.2 45.5ZM138.1 61.7L147.9 65.4L152.8 67.2L147.9 67.2L147.9 78.5L138.1 78.5L138.1 90.2L138.1 102.1L128.4 102.1L128.4 114.4L118.6 114.4L118.6 127.0L108.9 127.0L108.9 140.0L99.1 140.0L99.1 127.0L89.4 127.0L83.3 127.0L87.8 114.4L89.4 111.3L94.2 114.4L99.1 120.7L101.6 114.4L101.6 102.1L106.4 90.2L108.9 87.2L116.2 78.5L118.6 78.5L128.4 78.5L128.4 67.2L128.4 60.8ZM69.9 76.6L71.5 78.5L69.9 81.4L65.0 78.5ZM50.4 108.3L60.1 108.3L63.8 114.4L60.1 119.2L50.4 116.5L47.9 114.4ZM16.2 140.0L21.1 145.5L29.7 153.3L30.9 155.0L30.9 166.9L21.1 166.9L17.5 166.9L11.4 160.1L11.4 153.3L11.4 140.0L11.4 131.9ZM40.6 137.8L45.5 140.0L40.6 140.0L39.0 140.0Z" fill="#fee090"/>
<path d="M40.6 35.2L40.6 40.4L35.8 35.2ZM69.9 35.2L69.9 45.5L79.6 45.5L79.6 56.2L79.6 57.6L74.8 56.2L69.9 54.4L60.1 50.0L55.2 45.5L60.1 45.5L60.1 35.2ZM40.6 48.2L45.5 56.2L40.6 60.3L35.8 56.2ZM138.1 50.0L138.1 45.5L143.0 45.5ZM138.1 63.9L145.4 67.2L147.9 70.0L147.9 78.5L138.1 78.5L138.1 90.2L138.1 102.1L128.4 102.1L128.4 114.4L118.6 114.4L118.6 120.7L108.9 120.7L106.4 114.4L106.4 102.1L108.9 96.1L110.5 90.2L118.6 80.5L120.2 78.5L128.4 78.5L128.4 67.2L128.4 62.6ZM60.1 112.4L61.3 114.4L60.1 116.0L55.2 114.4ZM89.4 117.6L96.7 127.0L89.4 127.0L85.7 127.0ZM14.3 140.0L21.1 147.7L27.2 153.3L30.9 158.4L30.9 166.9L21.1 166.9L19.9 166.9L11.4 157.4L11.4 153.3L11.4 140.0L11.4 135.1ZM108.9 130.3L108.9 140.0L99.1 140.0L99.1 129.2Z" fill="#fdae61"/>
<path d="M69.9 35.2L69.9 45.5L79.6 45.5L79.6 53.5L69.9 50.9L60.1 48.2L57.2 45.5L60.1 45.5L60.1 35.2ZM40.6 53.5L42.2 56.2L40.6 57.6L39.0 56.2ZM138.1 48.2L138.1 45.5L141.1 45.5ZM138.1 66.1L140.6 67.2L147.9 75.7L147.9 78.5L138.1 78.5L138.1 90.2L138.1 102.1L128.4 102.1L128.4 114.4L121.1 114.4L118.6 111.3L111.3 102.1L113.8 90.2L118.6 84.3L123.5 78.5L128.4 78.5L128.4 67.2L128.4 64.4ZM89.4 123.9L91.8 127.0L89.4 127.0L88.2 127.0ZM12.4 140.0L21.1 150.0L24.8 153.3L21.1 163.5L11.4 154.6L11.4 153.3L11.4 140.0L11.4 138.4ZM108.9 136.8L108.9 140.0L99.1 140.0L99.1 133.5ZM30.9 161.8L30.9 166.9L23.6 166.9Z" fill="#f46d43"/>
<path d="M69.9 35.2L69.9 45.5L79.6 45.5L79.6 48.2L69.9 47.3L60.1 46.4L59.2 45.5L60.1 45.5L60.1 35.2ZM138.1 46.4L138.1 45.5L139.1 45.5ZM133.2 67.2L138.1 72.9L143.0 78.5L138.1 78.5L138.1 84.3L133.2 90.2L133.2 102.1L128.4 102.1L128.4 114.4L125.9 114.4L118.6 105.2L116.2 102.1L117.0 90.2L118.6 88.2L126.8 78.5L128.4 78.5L128.4 67.2L128.4 66.3ZM104.0 140.0L99.1 140.0L99.1 137.8ZM21.1 152.2L22.3 153.3L21.1 156.7L16.2 153.3ZM30.9 165.2L30.9 166.9L28.4 166.9Z" fill="#d73027"/>
<g clip-path="url(#cpB)">
<path d="M-22.8,30.2 49.6,30.2M49.6,28.3 51.4,28.7 52.3,31.6 56.2,32.6 60.1,32.2 65.0,33.4 69.9,34.2 74.8,34.7 76.7,35.2M18.7,30.2 18.7,10.8M49.6,28.3 49.6,10.8M125.9,10.8 125.9,17.9 125.9,37.8 126.9,40.3 129.4,44.0 135.7,46.1 141.5,48.2 150.3,49.2 151.3,50.8M149.3,50.8 164.9,50.8M164.9,50.8 166.9,49.2 169.3,47.7 171.3,44.0 172.2,41.9 176.1,38.0 180.5,38.5 183.0,40.1 183.0,47.1 184.7,47.7 185.9,49.8 186.9,51.1M6.3,30.2 6.3,72.8M-27.6,50.8 6.3,50.8M-27.6,72.8 16.0,72.8M16.0,72.8 16.0,96.1M6.3,45.9 42.8,45.9M6.3,61.7 33.3,61.7 38.2,62.5 41.1,63.0 43.3,64.4M16.0,78.5 48.9,78.5M-17.9,96.1 52.2,96.1M11.4,96.1 11.4,99.1 26.0,99.1 26.0,110.9M11.1,99.1 11.1,127.0 -6.2,127.0M26.0,110.9 28.4,111.9 30.9,113.2 33.3,113.8 35.8,114.4 38.2,115.4 40.6,116.0 43.1,115.7 45.5,115.4 47.9,115.0 50.4,115.4 52.9,116.7 55.1,117.2M55.1,117.2 55.1,120.7M55.1,120.7 55.1,127.0 56.2,130.3 57.4,133.5 56.7,136.7 56.5,140.0 56.0,142.0M55.1,120.7 69.1,120.7M52.9,116.7 53.2,105.8 52.2,99.1 52.2,83.7M52.2,83.7 50.9,81.4 49.9,79.7 48.9,78.5 46.6,75.1 46.2,72.8 46.0,70.0 45.0,67.2 43.3,64.4M43.3,64.4 42.6,61.7 43.3,58.9 43.3,49.2 42.8,45.9 41.8,42.9 41.6,40.3 40.6,36.7 40.1,33.7 39.5,30.2M43.3,58.9 68.8,58.9M46.6,75.1 66.3,75.1 67.8,76.3M52.2,99.1 74.0,99.1 72.9,102.1 76.1,102.1M64.5,41.6 63.5,45.0 61.3,47.9 61.1,50.8 63.5,53.5 66.5,55.1 68.9,58.9 69.1,61.7 71.6,64.4 73.8,67.8 71.8,70.0 69.4,72.2 67.8,76.3 68.4,79.7 71.3,83.1 73.8,85.5 73.8,88.4 76.7,92.5 77.2,94.3 78.9,96.1 78.6,98.5 77.2,99.1 76.2,102.1 74.5,105.8 74.3,108.2 71.8,111.3 70.4,114.4 69.1,120.7 69.4,123.9 69.9,127.0 67.0,133.5M67.0,133.5 76.1,133.5 76.7,136.1 76.9,138.7M71.6,64.4 85.5,64.4M86.5,50.3 85.5,47.7 82.1,46.1 77.2,45.0 72.8,42.7M88.4,68.6 100.1,68.9 106.7,68.7M86.8,68.6 86.8,82.0 86.5,84.9 85.7,88.4 84.3,91.3M100.1,68.9 100.1,83.7M121.0,67.2 121.0,74.9M78.9,96.1 82.1,95.5 84.3,91.3 86.9,90.7 90.4,90.5 92.8,90.2 95.2,88.4 97.7,86.0 100.1,83.7 103.0,85.5 105.5,86.3 108.9,86.0 110.8,87.8 112.8,85.5 114.7,83.7 117.2,82.0 119.1,79.7 120.6,76.8 121.0,74.9M77.2,99.1 84.3,99.1 84.3,98.0 94.2,98.3 105.6,98.5 115.3,98.5 123.5,98.8 133.2,98.8 143.6,98.8M105.6,98.5 108.9,97.0 110.8,94.9 112.3,93.1 114.0,92.8 110.8,89.3 110.8,87.8M114.0,92.8 117.6,94.3 121.1,93.4 122.5,90.7 124.5,88.4 125.9,86.9 126.9,84.9 129.8,84.0 131.5,82.0 134.2,82.5 134.7,82.5M126.0,80.1 126.0,83.1 128.9,81.7 131.5,80.8 134.2,81.7 135.7,83.7 137.6,84.9 137.1,86.6 138.6,88.4 141.5,90.2M121.0,80.1 144.0,80.1M144.0,80.1 144.1,87.5 147.6,87.5M121.0,67.2 124.7,65.7 124.7,67.2 146.1,67.2M146.1,67.2 147.4,68.3 149.3,70.8 147.4,73.7 147.9,76.2 149.1,77.7 147.4,79.1 145.4,80.2 145.2,81.4M149.3,70.8 152.8,72.8M155.2,72.2 155.2,66.9 156.3,63.0 156.4,50.8M155.2,66.9 163.5,67.1 163.5,71.1M165.5,67.1 165.5,70.0M156.3,63.0 165.9,63.3 167.6,62.5M160.3,63.1 160.5,58.9 162.3,54.6 164.9,50.8M168.8,61.1 167.6,58.9 167.0,53.5 167.0,49.2M73.3,108.2 102.4,108.2M83.5,108.2 84.0,114.4 82.2,127.7 82.5,133.5 82.5,137.4M96.2,108.2 98.1,120.7 99.1,125.1 98.6,129.6 99.1,133.5M86.5,133.5 99.1,133.5M86.5,133.5 87.2,136.7 86.9,138.0M99.1,133.5 99.8,135.4 112.8,136.3 113.8,137.4 115.0,136.7 116.2,135.4M102.4,108.2 104.5,107.0 106.4,104.9 108.9,103.6 111.3,102.1 113.8,101.2 115.3,98.5M108.4,108.2 109.9,111.3 112.3,114.4 114.2,117.5 116.2,120.7 118.1,125.8 119.1,127.0M108.4,108.2 113.8,107.0 118.6,107.3 119.1,109.5 125.0,109.5 130.6,115.4M-6.2,127.0 -5.2,128.6 -0.8,133.5 2.6,136.7 4.1,142.0 7.0,144.6 10.4,146.6 12.8,142.0 14.8,141.0 19.2,141.6 22.1,144.6 24.5,149.9 27.5,155.3 28.9,159.4 30.4,163.4 34.3,166.2 38.2,167.6 39.9,167.2M-5.7,170.3 1.6,163.4 5.5,162.1 9.9,173.8 15.3,176.6M10.4,146.6 12.8,153.3 13.8,160.0 11.4,166.9M26.0,153.3 24.5,156.6 27.0,163.4 28.4,170.3 31.9,173.8 34.3,179.4M15.3,176.6 21.1,170.3 23.6,161.4 24.5,156.6M37.2,180.8 34.3,179.4 29.9,184.3 28.4,189.3" fill="none" stroke="#111" stroke-width="0.9" stroke-linejoin="round"/>
<path d="M197.6,36.2 195.2,36.2 193.2,37.2 194.8,38.0 196.3,38.7 197.6,39.8 198.6,42.4 200.0,43.6 201.5,44.5 203.1,44.9 204.4,46.1 202.9,46.8 201.5,47.7 199.6,48.4 197.6,49.0 194.7,49.8 192.9,50.0 191.3,49.5 188.8,50.3 186.9,51.1 184.9,52.7 183.5,53.4 182.0,54.0 179.6,54.6 177.1,55.7 175.8,56.7 174.2,57.0 171.3,58.1 170.3,59.5 169.3,60.8 168.4,62.8 167.9,64.4 167.4,65.5 168.8,66.6 169.8,68.0 171.8,68.6 172.5,67.8 172.0,66.9 172.5,68.9 172.2,69.7 169.8,69.7 167.9,69.7 165.4,70.3 163.0,71.1 160.1,71.4 157.6,71.7 154.7,72.8 153.2,73.9 152.8,75.7 152.5,77.9 152.0,80.2 150.3,82.3 148.4,84.6 147.4,83.1 145.7,82.0 145.2,80.8 145.9,82.5 147.0,83.8 147.4,85.5 147.6,87.8 146.7,90.2 146.1,91.8 145.0,93.1 143.2,95.2 143.0,92.5 143.5,89.6 142.7,88.1 142.0,86.6 142.1,84.8 141.5,83.1 142.5,81.1 140.6,82.8 140.8,85.5 140.6,87.8 141.5,90.2 141.3,92.5 141.5,95.5 143.0,96.7 143.5,98.8 144.2,101.5 145.1,102.9 145.4,104.6 145.4,106.7 143.5,107.3 142.2,108.9 140.6,110.1 138.6,110.6 136.7,111.3 134.9,112.9 133.7,115.0 132.0,115.1 130.3,115.4 128.9,117.1 127.4,118.8 126.0,119.7 125.4,121.4 124.0,122.3 122.3,123.1 121.1,124.5 120.0,125.8 118.6,126.7 118.2,128.9 117.2,130.9 117.1,133.2 116.4,135.4 116.7,137.7 116.7,140.0 116.9,141.7 117.6,143.3 118.6,144.8 119.1,146.6 119.8,148.6 120.6,150.6 120.8,152.6 121.3,154.6 121.9,156.4 122.2,158.2 122.8,160.0 123.4,161.7 123.3,163.4 123.6,165.1 123.4,166.7 123.0,168.3 122.2,169.9 121.8,171.7 119.1,172.8 117.9,172.4 117.2,169.6 115.2,167.2 114.7,165.4 114.2,163.4 113.1,162.2 112.3,160.7 111.5,158.7 110.6,156.6 110.2,155.0 109.9,153.3 109.9,151.2 110.3,149.3 109.9,146.6 107.9,144.6 106.9,142.5 105.5,140.7 103.0,139.7 101.6,141.0 99.1,142.3 97.2,142.0 95.7,139.3 94.3,138.2 92.8,137.4 91.1,137.8 89.4,137.7 86.9,138.0 84.5,137.4 82.1,137.7 80.3,137.8 78.6,138.0 76.7,138.7 76.2,140.0 78.2,142.0 78.9,143.6 79.6,145.3 77.7,146.6 75.2,144.6 73.6,145.0 72.3,145.9 70.7,145.1 68.9,144.6 67.3,143.8 66.0,142.6 63.5,143.0 62.0,141.9 60.1,141.6 58.2,142.1 56.2,142.0 54.5,142.7 52.8,143.3 50.4,145.3 48.9,146.2 48.0,147.7 46.5,148.6 44.8,149.9 43.1,151.3 42.2,152.9 40.6,153.9 39.2,156.6 38.8,158.7 38.7,160.7 38.8,162.6 39.3,164.4 39.6,166.2 38.8,168.2 38.8,170.4 38.2,172.4 37.8,174.1 37.6,175.9 37.4,177.6 37.2,179.4 37.2,181.1 36.7,182.8 36.5,184.5 36.8,186.2 36.7,187.9 36.7,189.7 37.3,191.5 36.8,193.3 36.9,195.1 36.7,196.9 37.2,198.7M64.5,41.6 66.4,41.0 68.0,39.7 69.9,39.0 71.4,38.0 73.2,37.3 74.8,36.2 77.2,35.2 78.6,34.1 80.4,33.8 82.1,33.2 84.5,31.2 86.1,31.0 87.8,31.0 89.4,31.4 91.1,31.3 92.8,31.9 93.8,33.8 95.2,35.5 96.8,35.8 98.2,36.6 99.6,37.5 100.8,40.3 101.6,42.9 99.1,41.6 97.5,41.9 95.8,41.6 94.2,42.1 92.7,42.8 91.0,42.7 89.4,42.9 88.3,41.4 87.4,39.6 86.0,38.3 84.1,38.9 82.5,40.1 79.6,41.1 77.9,41.2 76.4,42.2 74.8,42.4 73.1,42.1 71.5,41.7 69.9,41.1 68.1,40.9 66.3,41.0 64.5,41.6M100.1,46.6 98.3,46.2 96.7,45.3 95.0,45.9 93.2,46.2 91.3,46.3 89.7,47.5 87.9,48.2 86.5,50.3 85.5,51.8 84.5,53.2 86.5,53.0 86.9,55.1 86.4,56.7 86.0,58.4 85.7,60.1 85.0,61.7 85.7,63.3 85.5,65.0 86.0,66.5 86.5,68.0 88.4,69.4 89.8,68.6 91.3,68.0 92.1,66.5 92.8,65.0 93.4,63.4 93.3,61.7 92.8,59.7 92.1,57.8 92.4,56.2 92.8,54.6 94.0,53.4 95.2,52.2 96.2,50.8 97.3,48.7 99.1,47.1 100.1,46.6M100.1,46.6 102.1,46.4 104.0,45.5 106.9,45.5 109.1,45.5 111.3,45.0 112.9,45.4 114.5,45.5 116.2,45.3 118.2,45.4 120.1,45.8 121.4,47.2 122.5,48.7 123.8,50.1 124.5,51.9 122.0,53.5 119.1,52.4 118.2,51.0 117.2,49.8 116.7,52.4 116.3,54.5 115.2,56.2 114.8,58.3 113.8,60.0 111.8,61.7 111.1,60.1 110.8,58.4 109.4,56.2 106.9,56.5 104.5,58.1 105.5,56.2 106.9,54.6 107.0,52.7 107.4,50.8 105.7,49.8 104.5,48.2 102.1,47.8 100.1,46.6M111.3,63.9 109.4,64.1 109.9,65.5 111.6,65.2 111.3,63.9M106.7,68.7 108.6,69.1 110.3,70.0 112.0,69.6 113.6,69.9 115.2,70.0 116.5,68.9 118.3,68.9 119.6,68.0 121.1,67.2 122.6,66.1 124.5,65.5 125.8,64.3 127.3,63.4 128.9,62.5 126.4,62.4 124.3,63.2 122.0,63.9 119.8,64.1 117.6,63.6 116.2,64.4 114.8,65.3 113.8,66.6 110.8,67.2 108.4,66.9 106.7,68.7M124.5,60.0 126.2,60.1 127.9,60.3 129.7,60.1 131.4,59.5 133.2,59.6 135.2,59.4 137.2,59.7 139.1,60.0 140.5,59.1 142.0,58.7 141.5,55.9 139.8,55.9 138.1,56.5 135.2,55.9 133.1,56.6 130.8,56.6 128.8,57.8 126.4,58.1 124.5,60.0M141.5,55.9 143.1,55.2 144.2,53.8 145.4,52.7 147.2,51.4 149.3,50.6 151.1,49.8 152.7,48.6 154.7,48.2 156.1,47.1 157.6,46.4 158.9,45.3 160.1,44.0 161.7,43.5 163.1,42.5 164.8,41.9 166.4,41.4 167.7,40.3 169.3,39.8M169.3,39.8 170.9,38.7 172.2,37.2 174.0,35.7 175.7,34.2 177.1,33.2 178.2,31.7 179.6,30.7 181.1,29.8 182.9,29.6 184.4,28.7 185.9,27.9 187.1,26.8 188.3,25.7 189.3,24.5 191.0,24.6 192.6,24.4 194.2,24.0 196.0,23.7 197.8,24.0 199.7,23.8 201.5,24.0M169.3,39.8 171.0,38.2 173.2,37.2 174.9,35.6 177.1,34.7 178.7,33.7 180.3,32.8 182.0,32.2 183.7,31.7 185.4,31.2 186.9,30.2 188.5,29.9 190.2,30.1 191.8,29.4 193.4,29.8 195.0,29.7 196.6,29.2 198.4,29.9 200.0,30.9 199.5,32.7 198.6,34.2 196.9,34.8 195.2,35.0 193.6,35.3 191.9,35.4 190.3,35.2 192.2,35.8 194.2,36.2 195.9,36.6 197.6,36.2M202.5,49.2 200.4,49.5 198.6,50.3 197.1,51.0 195.6,51.6 194.2,52.4 192.5,53.6 191.3,55.1 192.6,56.6 193.2,58.4 195.5,57.7 197.6,56.7 199.1,56.0 200.4,54.8 201.5,53.5 203.9,53.0 206.4,52.4M201.5,41.9 203.4,43.0 205.4,43.7 207.6,43.7 209.8,43.7 207.5,43.5 205.4,42.7 203.5,42.0 201.5,41.9" fill="none" stroke="#000" stroke-width="1.6" stroke-linejoin="round"/>
<path d="M118.9,160.4 120.3,160.4 120.6,162.1 119.6,162.1 118.9,160.4M133.2,161.7 135.7,162.8 137.6,164.1 137.1,166.9 136.1,165.0 135.2,163.1M134.0,173.1 133.3,175.3 132.3,177.3 133.4,179.1 134.7,180.8 134.7,179.0 135.2,177.3 134.6,175.2 134.0,173.1M139.6,170.3 140.9,171.7 142.0,173.1 142.0,175.9M49.6,28.3 50.9,27.2 53.3,26.4 54.8,27.4 52.8,28.9 51.4,30.4 49.6,30.2M48.9,35.2 50.8,34.8 52.8,35.0 51.8,33.9 48.9,34.4 48.9,35.2M82.1,27.7 84.0,29.2 84.0,27.1 84.0,25.0 81.1,24.2 79.6,26.2 82.1,27.7M57.7,23.7 59.3,23.4 60.9,23.7 62.6,23.7 64.4,24.2 66.0,25.2 63.5,24.7 61.8,25.0 60.1,24.7M41.1,23.2 43.5,23.0 43.7,21.2 44.0,19.4 42.5,17.5 40.6,16.0 39.6,18.9 40.6,20.2 41.1,21.8 41.1,23.2M34.8,24.2 34.3,22.3 32.7,20.7 31.4,18.9 29.9,17.4 31.3,18.9 32.8,20.3 33.3,21.9 34.3,23.2M28.0,17.9 26.3,16.7 24.5,15.5 25.5,12.7 23.1,11.3M9.4,35.7 11.4,36.0 13.3,36.5 16.2,37.2 17.7,37.2 19.2,38.0M22.6,43.5 23.3,45.2 24.5,46.6 24.1,48.3 23.1,49.8 25.0,51.9 24.0,53.5M122.0,44.0 123.7,44.4 125.5,44.5 124.0,43.7M151.8,19.4 153.4,18.5 155.2,17.9 156.6,19.0 157.6,20.3M160.5,33.2 163.5,31.9 162.5,33.2M150.3,32.2 152.0,31.4 153.7,31.2 155.2,32.7M177.1,19.8 179.1,17.4 181.0,19.4 179.6,20.8 177.1,19.8M121.1,13.1 122.3,14.7 123.2,16.4 124.5,17.9 126.3,16.8 128.4,16.0 129.4,13.1" fill="none" stroke="#000" stroke-width="2.0" stroke-linejoin="round" stroke-linecap="round"/>
</g></g>
<g transform="translate(204.5,395)">
<path d="M21.1 25.2L30.9 25.2L40.6 25.2L40.6 35.2L40.6 45.5L50.4 45.5L60.1 45.5L60.1 35.2L69.9 35.2L69.9 45.5L79.6 45.5L79.6 56.2L79.6 67.2L79.6 78.5L89.4 78.5L99.1 78.5L108.9 78.5L118.6 78.5L128.4 78.5L128.4 67.2L138.1 67.2L138.1 56.2L138.1 45.5L147.9 45.5L157.6 45.5L167.4 45.5L167.4 56.2L167.4 67.2L157.6 67.2L147.9 67.2L147.9 78.5L138.1 78.5L138.1 90.2L138.1 102.1L128.4 102.1L128.4 114.4L118.6 114.4L118.6 127.0L108.9 127.0L108.9 140.0L99.1 140.0L99.1 127.0L89.4 127.0L79.6 127.0L69.9 127.0L69.9 140.0L60.1 140.0L50.4 140.0L40.6 140.0L30.9 140.0L30.9 153.3L30.9 166.9L21.1 166.9L11.4 166.9L11.4 153.3L11.4 140.0L11.4 127.0L11.4 114.4L11.4 102.1L11.4 90.2L11.4 78.5L11.4 67.2L11.4 56.2L11.4 45.5L11.4 35.2L11.4 25.2Z" fill="#313695"/>
<path d="M21.1 25.2L30.9 25.2L40.6 25.2L40.6 35.2L40.6 45.5L50.4 45.5L60.1 45.5L60.1 35.2L69.9 35.2L69.9 45.5L79.6 45.5L79.6 56.2L79.6 67.2L79.6 78.5L89.4 78.5L99.1 78.5L108.9 78.5L118.6 78.5L128.4 78.5L128.4 67.2L138.1 67.2L138.1 56.2L138.1 45.5L147.9 45.5L157.6 45.5L167.4 45.5L167.4 56.2L167.4 67.2L157.6 67.2L147.9 67.2L147.9 78.5L138.1 78.5L138.1 90.2L138.1 102.1L128.4 102.1L128.4 114.4L118.6 114.4L118.6 127.0L108.9 127.0L108.9 140.0L99.1 140.0L99.1 127.0L89.4 127.0L79.6 127.0L69.9 127.0L69.9 140.0L60.1 140.0L50.4 140.0L40.6 140.0L30.9 140.0L30.9 153.3L30.9 166.9L21.1 166.9L11.4 166.9L11.4 153.3L11.4 140.0L11.4 127.0L11.4 114.4L11.4 102.1L11.4 90.2L11.4 78.5L11.4 67.2L11.4 56.2L11.4 45.5L11.4 35.2L11.4 25.2Z" fill="#4575b4"/>
<path d="M21.1 25.2L30.9 25.2L40.6 25.2L40.6 35.2L40.6 45.5L50.4 45.5L60.1 45.5L60.1 35.2L69.9 35.2L69.9 45.5L79.6 45.5L79.6 56.2L79.6 67.2L79.6 78.5L89.4 78.5L99.1 78.5L108.9 78.5L118.6 78.5L128.4 78.5L128.4 67.2L138.1 67.2L138.1 56.2L138.1 45.5L147.9 45.5L157.6 45.5L167.4 45.5L167.4 56.2L167.4 67.2L157.6 67.2L147.9 67.2L147.9 78.5L138.1 78.5L138.1 90.2L138.1 102.1L128.4 102.1L128.4 114.4L118.6 114.4L118.6 127.0L108.9 127.0L108.9 140.0L99.1 140.0L99.1 127.0L89.4 127.0L79.6 127.0L69.9 127.0L69.9 140.0L60.1 140.0L50.4 140.0L40.6 140.0L30.9 140.0L30.9 153.3L30.9 166.9L21.1 166.9L11.4 166.9L11.4 153.3L11.4 140.0L11.4 127.0L11.4 114.4L11.4 102.1L11.4 90.2L11.4 78.5L11.4 67.2L11.4 56.2L11.4 45.5L11.4 35.2L11.4 25.2ZM145.4 56.2L147.9 59.0L149.1 56.2L147.9 54.9ZM28.4 78.5L26.0 90.2L30.9 96.1L40.6 96.1L45.5 90.2L50.4 84.3L55.2 90.2L60.1 96.1L62.6 90.2L60.1 84.3L55.2 78.5L50.4 75.7L45.5 78.5L40.6 84.3L35.8 78.5L30.9 72.9Z" fill="#74add1"/>
<path d="M21.1 25.2L30.9 25.2L40.6 25.2L40.6 35.2L40.6 45.5L50.4 45.5L60.1 45.5L60.1 35.2L69.9 35.2L69.9 45.5L79.6 45.5L79.6 56.2L79.6 67.2L79.6 78.5L89.4 78.5L99.1 78.5L108.9 78.5L118.6 78.5L128.4 78.5L128.4 67.2L138.1 67.2L138.1 56.2L138.1 45.5L147.9 45.5L157.6 45.5L167.4 45.5L167.4 56.2L167.4 67.2L157.6 67.2L147.9 67.2L147.9 78.5L138.1 78.5L138.1 90.2L138.1 102.1L128.4 102.1L128.4 114.4L118.6 114.4L118.6 127.0L108.9 127.0L108.9 140.0L99.1 140.0L99.1 127.0L89.4 127.0L79.6 127.0L69.9 127.0L69.9 140.0L60.1 140.0L50.4 140.0L40.6 140.0L30.9 140.0L30.9 153.3L30.9 166.9L21.1 166.9L11.4 166.9L11.4 153.3L11.4 140.0L11.4 127.0L11.4 114.4L11.4 102.1L11.4 90.2L11.4 78.5L11.4 67.2L11.4 61.7L16.2 56.2L21.1 50.9L26.0 45.5L21.1 40.4L16.2 35.2L11.4 34.2L11.4 25.2ZM140.6 56.2L147.9 64.4L151.5 56.2L147.9 52.2ZM26.0 67.2L23.6 78.5L21.1 84.3L16.2 90.2L21.1 96.1L26.0 102.1L30.9 108.3L35.8 114.4L35.8 127.0L40.6 129.2L43.1 127.0L50.4 117.6L55.2 114.4L60.1 108.3L65.0 114.4L69.9 120.7L79.6 120.7L89.4 120.7L90.2 114.4L91.8 102.1L99.1 93.1L104.0 90.2L99.1 88.2L89.4 84.3L84.5 90.2L79.6 96.1L69.9 96.1L67.4 90.2L65.0 78.5L65.0 67.2L60.1 64.4L55.2 67.2L50.4 70.0L40.6 75.7L33.3 67.2L30.9 64.4Z" fill="#abd9e9"/>
<path d="M21.1 25.2L30.9 25.2L40.6 25.2L40.6 35.2L40.6 43.8L32.5 35.2L30.9 30.2L21.1 34.0L11.4 32.2L11.4 25.2ZM69.9 35.2L69.9 45.5L79.6 45.5L79.6 54.9L69.9 54.4L65.0 56.2L60.1 59.0L50.4 61.7L45.5 56.2L45.5 45.5L50.4 45.5L60.1 45.5L60.1 35.2ZM30.9 50.9L35.8 56.2L30.9 59.0L26.0 56.2ZM147.9 45.5L157.6 45.5L167.4 45.5L167.4 56.2L167.4 67.2L157.6 67.2L152.8 67.2L154.0 56.2L147.9 49.5L138.1 53.5L138.1 45.5ZM40.6 61.7L45.5 67.2L40.6 70.0L38.2 67.2ZM138.1 69.1L147.9 70.0L147.9 78.5L138.1 78.5L138.1 90.2L138.1 102.1L128.4 102.1L128.4 114.4L118.6 114.4L118.6 127.0L108.9 127.0L108.9 140.0L99.1 140.0L99.1 127.0L90.2 127.0L91.8 114.4L96.7 102.1L99.1 99.1L108.9 93.1L110.5 90.2L113.8 78.5L118.6 78.5L128.4 78.5L128.4 69.1ZM99.1 78.5L106.4 78.5L99.1 84.3L91.8 78.5ZM21.1 108.3L26.0 114.4L21.1 120.7L16.2 114.4ZM50.4 123.9L55.2 127.0L50.4 133.5L47.9 127.0ZM21.1 133.5L30.9 133.5L40.6 133.5L47.9 140.0L40.6 140.0L30.9 140.0L30.9 153.3L30.9 166.9L21.1 166.9L11.4 166.9L11.4 153.3L11.4 140.0L11.4 130.3Z" fill="#e0f3f8"/>
<path d="M21.1 25.2L29.2 25.2L21.1 31.5L11.4 30.2L11.4 25.2ZM40.6 25.2L40.6 35.2L40.6 40.4L35.8 35.2L31.9 25.2ZM69.9 35.2L69.9 45.5L79.6 45.5L79.6 52.2L69.9 50.9L60.1 50.9L55.2 45.5L60.1 45.5L60.1 35.2ZM147.9 45.5L157.6 45.5L167.4 45.5L167.4 50.9L162.5 56.2L157.6 61.7L156.4 56.2L147.9 46.9L138.1 48.2L138.1 45.5ZM138.1 72.9L147.9 75.7L147.9 78.5L138.1 78.5L138.1 90.2L138.1 102.1L128.4 102.1L128.4 114.4L118.6 114.4L118.6 127.0L108.9 127.0L108.9 140.0L99.1 140.0L99.1 127.0L91.8 127.0L93.4 114.4L99.1 103.7L104.0 102.1L108.9 99.1L113.8 90.2L118.6 81.4L121.1 78.5L128.4 78.5L128.4 72.9ZM99.1 78.5L101.6 78.5L99.1 80.5L96.7 78.5ZM16.2 140.0L19.5 153.3L21.1 155.0L26.0 153.3L30.9 146.6L30.9 153.3L30.9 166.9L21.1 166.9L11.4 166.9L11.4 153.3L11.4 140.0L11.4 136.8ZM40.6 137.8L43.1 140.0L40.6 140.0L35.8 140.0Z" fill="#ffffbf"/>
<path d="M21.1 25.2L26.0 25.2L21.1 29.0L11.4 28.2L11.4 25.2ZM40.6 25.2L40.6 35.2L40.6 36.9L39.0 35.2L33.8 25.2ZM69.9 35.2L69.9 45.5L79.6 45.5L79.6 49.5L69.9 47.3L65.0 45.5L60.1 44.3L60.1 35.2ZM138.1 76.6L143.0 78.5L138.1 78.5L138.1 90.2L138.1 102.1L128.4 102.1L128.4 114.4L118.6 114.4L118.6 127.0L108.9 127.0L108.9 140.0L99.1 140.0L99.1 127.0L93.4 127.0L95.1 114.4L99.1 106.7L108.9 105.2L110.1 102.1L117.0 90.2L118.6 87.2L125.9 78.5L128.4 78.5L128.4 76.6ZM16.2 153.3L21.1 158.4L29.2 166.9L21.1 166.9L11.4 166.9L11.4 153.3L11.4 143.3Z" fill="#fee090"/>
<path d="M21.1 25.2L22.8 25.2L21.1 26.5L11.4 26.2L11.4 25.2ZM40.6 25.2L40.6 33.5L35.8 25.2ZM69.9 35.2L69.9 43.8L60.1 41.7L60.1 35.2ZM79.6 45.5L79.6 46.9L74.8 45.5ZM128.4 81.4L135.7 90.2L133.2 102.1L128.4 102.1L128.4 114.4L118.6 114.4L118.6 120.7L108.9 120.7L107.2 127.0L108.9 130.3L108.9 140.0L99.1 140.0L99.1 127.0L95.1 127.0L96.7 114.4L99.1 109.8L108.9 111.3L112.5 102.1L118.6 92.2L121.1 90.2ZM13.0 153.3L21.1 161.8L26.0 166.9L21.1 166.9L11.4 166.9L11.4 153.3L11.4 150.0Z" fill="#fdae61"/>
<path d="M40.6 25.2L40.6 30.2L37.7 25.2ZM69.9 35.2L69.9 40.4L60.1 39.1L60.1 35.2ZM128.4 87.2L130.8 90.2L128.4 96.1L125.9 90.2ZM118.6 96.1L125.9 102.1L128.4 108.3L128.4 114.4L123.5 114.4L118.6 111.3L115.0 102.1ZM99.1 112.9L104.0 114.4L104.0 127.0L108.9 136.8L108.9 140.0L99.1 140.0L99.1 127.0L96.7 127.0L98.3 114.4ZM21.1 165.2L22.8 166.9L21.1 166.9L16.2 166.9Z" fill="#f46d43"/>
<path d="M40.6 25.2L40.6 26.9L39.6 25.2ZM69.9 35.2L69.9 36.9L60.1 36.5L60.1 35.2ZM118.6 100.1L121.1 102.1L118.6 105.2L117.4 102.1ZM99.1 120.7L100.8 127.0L99.1 133.5L99.1 127.0L98.3 127.0Z" fill="#d73027"/>
<g clip-path="url(#cpB)">
<path d="M-22.8,30.2 49.6,30.2M49.6,28.3 51.4,28.7 52.3,31.6 56.2,32.6 60.1,32.2 65.0,33.4 69.9,34.2 74.8,34.7 76.7,35.2M18.7,30.2 18.7,10.8M49.6,28.3 49.6,10.8M125.9,10.8 125.9,17.9 125.9,37.8 126.9,40.3 129.4,44.0 135.7,46.1 141.5,48.2 150.3,49.2 151.3,50.8M149.3,50.8 164.9,50.8M164.9,50.8 166.9,49.2 169.3,47.7 171.3,44.0 172.2,41.9 176.1,38.0 180.5,38.5 183.0,40.1 183.0,47.1 184.7,47.7 185.9,49.8 186.9,51.1M6.3,30.2 6.3,72.8M-27.6,50.8 6.3,50.8M-27.6,72.8 16.0,72.8M16.0,72.8 16.0,96.1M6.3,45.9 42.8,45.9M6.3,61.7 33.3,61.7 38.2,62.5 41.1,63.0 43.3,64.4M16.0,78.5 48.9,78.5M-17.9,96.1 52.2,96.1M11.4,96.1 11.4,99.1 26.0,99.1 26.0,110.9M11.1,99.1 11.1,127.0 -6.2,127.0M26.0,110.9 28.4,111.9 30.9,113.2 33.3,113.8 35.8,114.4 38.2,115.4 40.6,116.0 43.1,115.7 45.5,115.4 47.9,115.0 50.4,115.4 52.9,116.7 55.1,117.2M55.1,117.2 55.1,120.7M55.1,120.7 55.1,127.0 56.2,130.3 57.4,133.5 56.7,136.7 56.5,140.0 56.0,142.0M55.1,120.7 69.1,120.7M52.9,116.7 53.2,105.8 52.2,99.1 52.2,83.7M52.2,83.7 50.9,81.4 49.9,79.7 48.9,78.5 46.6,75.1 46.2,72.8 46.0,70.0 45.0,67.2 43.3,64.4M43.3,64.4 42.6,61.7 43.3,58.9 43.3,49.2 42.8,45.9 41.8,42.9 41.6,40.3 40.6,36.7 40.1,33.7 39.5,30.2M43.3,58.9 68.8,58.9M46.6,75.1 66.3,75.1 67.8,76.3M52.2,99.1 74.0,99.1 72.9,102.1 76.1,102.1M64.5,41.6 63.5,45.0 61.3,47.9 61.1,50.8 63.5,53.5 66.5,55.1 68.9,58.9 69.1,61.7 71.6,64.4 73.8,67.8 71.8,70.0 69.4,72.2 67.8,76.3 68.4,79.7 71.3,83.1 73.8,85.5 73.8,88.4 76.7,92.5 77.2,94.3 78.9,96.1 78.6,98.5 77.2,99.1 76.2,102.1 74.5,105.8 74.3,108.2 71.8,111.3 70.4,114.4 69.1,120.7 69.4,123.9 69.9,127.0 67.0,133.5M67.0,133.5 76.1,133.5 76.7,136.1 76.9,138.7M71.6,64.4 85.5,64.4M86.5,50.3 85.5,47.7 82.1,46.1 77.2,45.0 72.8,42.7M88.4,68.6 100.1,68.9 106.7,68.7M86.8,68.6 86.8,82.0 86.5,84.9 85.7,88.4 84.3,91.3M100.1,68.9 100.1,83.7M121.0,67.2 121.0,74.9M78.9,96.1 82.1,95.5 84.3,91.3 86.9,90.7 90.4,90.5 92.8,90.2 95.2,88.4 97.7,86.0 100.1,83.7 103.0,85.5 105.5,86.3 108.9,86.0 110.8,87.8 112.8,85.5 114.7,83.7 117.2,82.0 119.1,79.7 120.6,76.8 121.0,74.9M77.2,99.1 84.3,99.1 84.3,98.0 94.2,98.3 105.6,98.5 115.3,98.5 123.5,98.8 133.2,98.8 143.6,98.8M105.6,98.5 108.9,97.0 110.8,94.9 112.3,93.1 114.0,92.8 110.8,89.3 110.8,87.8M114.0,92.8 117.6,94.3 121.1,93.4 122.5,90.7 124.5,88.4 125.9,86.9 126.9,84.9 129.8,84.0 131.5,82.0 134.2,82.5 134.7,82.5M126.0,80.1 126.0,83.1 128.9,81.7 131.5,80.8 134.2,81.7 135.7,83.7 137.6,84.9 137.1,86.6 138.6,88.4 141.5,90.2M121.0,80.1 144.0,80.1M144.0,80.1 144.1,87.5 147.6,87.5M121.0,67.2 124.7,65.7 124.7,67.2 146.1,67.2M146.1,67.2 147.4,68.3 149.3,70.8 147.4,73.7 147.9,76.2 149.1,77.7 147.4,79.1 145.4,80.2 145.2,81.4M149.3,70.8 152.8,72.8M155.2,72.2 155.2,66.9 156.3,63.0 156.4,50.8M155.2,66.9 163.5,67.1 163.5,71.1M165.5,67.1 165.5,70.0M156.3,63.0 165.9,63.3 167.6,62.5M160.3,63.1 160.5,58.9 162.3,54.6 164.9,50.8M168.8,61.1 167.6,58.9 167.0,53.5 167.0,49.2M73.3,108.2 102.4,108.2M83.5,108.2 84.0,114.4 82.2,127.7 82.5,133.5 82.5,137.4M96.2,108.2 98.1,120.7 99.1,125.1 98.6,129.6 99.1,133.5M86.5,133.5 99.1,133.5M86.5,133.5 87.2,136.7 86.9,138.0M99.1,133.5 99.8,135.4 112.8,136.3 113.8,137.4 115.0,136.7 116.2,135.4M102.4,108.2 104.5,107.0 106.4,104.9 108.9,103.6 111.3,102.1 113.8,101.2 115.3,98.5M108.4,108.2 109.9,111.3 112.3,114.4 114.2,117.5 116.2,120.7 118.1,125.8 119.1,127.0M108.4,108.2 113.8,107.0 118.6,107.3 119.1,109.5 125.0,109.5 130.6,115.4M-6.2,127.0 -5.2,128.6 -0.8,133.5 2.6,136.7 4.1,142.0 7.0,144.6 10.4,146.6 12.8,142.0 14.8,141.0 19.2,141.6 22.1,144.6 24.5,149.9 27.5,155.3 28.9,159.4 30.4,163.4 34.3,166.2 38.2,167.6 39.9,167.2M-5.7,170.3 1.6,163.4 5.5,162.1 9.9,173.8 15.3,176.6M10.4,146.6 12.8,153.3 13.8,160.0 11.4,166.9M26.0,153.3 24.5,156.6 27.0,163.4 28.4,170.3 31.9,173.8 34.3,179.4M15.3,176.6 21.1,170.3 23.6,161.4 24.5,156.6M37.2,180.8 34.3,179.4 29.9,184.3 28.4,189.3" fill="none" stroke="#111" stroke-width="0.9" stroke-linejoin="round"/>
<path d="M197.6,36.2 195.2,36.2 193.2,37.2 194.8,38.0 196.3,38.7 197.6,39.8 198.6,42.4 200.0,43.6 201.5,44.5 203.1,44.9 204.4,46.1 202.9,46.8 201.5,47.7 199.6,48.4 197.6,49.0 194.7,49.8 192.9,50.0 191.3,49.5 188.8,50.3 186.9,51.1 184.9,52.7 183.5,53.4 182.0,54.0 179.6,54.6 177.1,55.7 175.8,56.7 174.2,57.0 171.3,58.1 170.3,59.5 169.3,60.8 168.4,62.8 167.9,64.4 167.4,65.5 168.8,66.6 169.8,68.0 171.8,68.6 172.5,67.8 172.0,66.9 172.5,68.9 172.2,69.7 169.8,69.7 167.9,69.7 165.4,70.3 163.0,71.1 160.1,71.4 157.6,71.7 154.7,72.8 153.2,73.9 152.8,75.7 152.5,77.9 152.0,80.2 150.3,82.3 148.4,84.6 147.4,83.1 145.7,82.0 145.2,80.8 145.9,82.5 147.0,83.8 147.4,85.5 147.6,87.8 146.7,90.2 146.1,91.8 145.0,93.1 143.2,95.2 143.0,92.5 143.5,89.6 142.7,88.1 142.0,86.6 142.1,84.8 141.5,83.1 142.5,81.1 140.6,82.8 140.8,85.5 140.6,87.8 141.5,90.2 141.3,92.5 141.5,95.5 143.0,96.7 143.5,98.8 144.2,101.5 145.1,102.9 145.4,104.6 145.4,106.7 143.5,107.3 142.2,108.9 140.6,110.1 138.6,110.6 136.7,111.3 134.9,112.9 133.7,115.0 132.0,115.1 130.3,115.4 128.9,117.1 127.4,118.8 126.0,119.7 125.4,121.4 124.0,122.3 122.3,123.1 121.1,124.5 120.0,125.8 118.6,126.7 118.2,128.9 117.2,130.9 117.1,133.2 116.4,135.4 116.7,137.7 116.7,140.0 116.9,141.7 117.6,143.3 118.6,144.8 119.1,146.6 119.8,148.6 120.6,150.6 120.8,152.6 121.3,154.6 121.9,156.4 122.2,158.2 122.8,160.0 123.4,161.7 123.3,163.4 123.6,165.1 123.4,166.7 123.0,168.3 122.2,169.9 121.8,171.7 119.1,172.8 117.9,172.4 117.2,169.6 115.2,167.2 114.7,165.4 114.2,163.4 113.1,162.2 112.3,160.7 111.5,158.7 110.6,156.6 110.2,155.0 109.9,153.3 109.9,151.2 110.3,149.3 109.9,146.6 107.9,144.6 106.9,142.5 105.5,140.7 103.0,139.7 101.6,141.0 99.1,142.3 97.2,142.0 95.7,139.3 94.3,138.2 92.8,137.4 91.1,137.8 89.4,137.7 86.9,138.0 84.5,137.4 82.1,137.7 80.3,137.8 78.6,138.0 76.7,138.7 76.2,140.0 78.2,142.0 78.9,143.6 79.6,145.3 77.7,146.6 75.2,144.6 73.6,145.0 72.3,145.9 70.7,145.1 68.9,144.6 67.3,143.8 66.0,142.6 63.5,143.0 62.0,141.9 60.1,141.6 58.2,142.1 56.2,142.0 54.5,142.7 52.8,143.3 50.4,145.3 48.9,146.2 48.0,147.7 46.5,148.6 44.8,149.9 43.1,151.3 42.2,152.9 40.6,153.9 39.2,156.6 38.8,158.7 38.7,160.7 38.8,162.6 39.3,164.4 39.6,166.2 38.8,168.2 38.8,170.4 38.2,172.4 37.8,174.1 37.6,175.9 37.4,177.6 37.2,179.4 37.2,181.1 36.7,182.8 36.5,184.5 36.8,186.2 36.7,187.9 36.7,189.7 37.3,191.5 36.8,193.3 36.9,195.1 36.7,196.9 37.2,198.7M64.5,41.6 66.4,41.0 68.0,39.7 69.9,39.0 71.4,38.0 73.2,37.3 74.8,36.2 77.2,35.2 78.6,34.1 80.4,33.8 82.1,33.2 84.5,31.2 86.1,31.0 87.8,31.0 89.4,31.4 91.1,31.3 92.8,31.9 93.8,33.8 95.2,35.5 96.8,35.8 98.2,36.6 99.6,37.5 100.8,40.3 101.6,42.9 99.1,41.6 97.5,41.9 95.8,41.6 94.2,42.1 92.7,42.8 91.0,42.7 89.4,42.9 88.3,41.4 87.4,39.6 86.0,38.3 84.1,38.9 82.5,40.1 79.6,41.1 77.9,41.2 76.4,42.2 74.8,42.4 73.1,42.1 71.5,41.7 69.9,41.1 68.1,40.9 66.3,41.0 64.5,41.6M100.1,46.6 98.3,46.2 96.7,45.3 95.0,45.9 93.2,46.2 91.3,46.3 89.7,47.5 87.9,48.2 86.5,50.3 85.5,51.8 84.5,53.2 86.5,53.0 86.9,55.1 86.4,56.7 86.0,58.4 85.7,60.1 85.0,61.7 85.7,63.3 85.5,65.0 86.0,66.5 86.5,68.0 88.4,69.4 89.8,68.6 91.3,68.0 92.1,66.5 92.8,65.0 93.4,63.4 93.3,61.7 92.8,59.7 92.1,57.8 92.4,56.2 92.8,54.6 94.0,53.4 95.2,52.2 96.2,50.8 97.3,48.7 99.1,47.1 100.1,46.6M100.1,46.6 102.1,46.4 104.0,45.5 106.9,45.5 109.1,45.5 111.3,45.0 112.9,45.4 114.5,45.5 116.2,45.3 118.2,45.4 120.1,45.8 121.4,47.2 122.5,48.7 123.8,50.1 124.5,51.9 122.0,53.5 119.1,52.4 118.2,51.0 117.2,49.8 116.7,52.4 116.3,54.5 115.2,56.2 114.8,58.3 113.8,60.0 111.8,61.7 111.1,60.1 110.8,58.4 109.4,56.2 106.9,56.5 104.5,58.1 105.5,56.2 106.9,54.6 107.0,52.7 107.4,50.8 105.7,49.8 104.5,48.2 102.1,47.8 100.1,46.6M111.3,63.9 109.4,64.1 109.9,65.5 111.6,65.2 111.3,63.9M106.7,68.7 108.6,69.1 110.3,70.0 112.0,69.6 113.6,69.9 115.2,70.0 116.5,68.9 118.3,68.9 119.6,68.0 121.1,67.2 122.6,66.1 124.5,65.5 125.8,64.3 127.3,63.4 128.9,62.5 126.4,62.4 124.3,63.2 122.0,63.9 119.8,64.1 117.6,63.6 116.2,64.4 114.8,65.3 113.8,66.6 110.8,67.2 108.4,66.9 106.7,68.7M124.5,60.0 126.2,60.1 127.9,60.3 129.7,60.1 131.4,59.5 133.2,59.6 135.2,59.4 137.2,59.7 139.1,60.0 140.5,59.1 142.0,58.7 141.5,55.9 139.8,55.9 138.1,56.5 135.2,55.9 133.1,56.6 130.8,56.6 128.8,57.8 126.4,58.1 124.5,60.0M141.5,55.9 143.1,55.2 144.2,53.8 145.4,52.7 147.2,51.4 149.3,50.6 151.1,49.8 152.7,48.6 154.7,48.2 156.1,47.1 157.6,46.4 158.9,45.3 160.1,44.0 161.7,43.5 163.1,42.5 164.8,41.9 166.4,41.4 167.7,40.3 169.3,39.8M169.3,39.8 170.9,38.7 172.2,37.2 174.0,35.7 175.7,34.2 177.1,33.2 178.2,31.7 179.6,30.7 181.1,29.8 182.9,29.6 184.4,28.7 185.9,27.9 187.1,26.8 188.3,25.7 189.3,24.5 191.0,24.6 192.6,24.4 194.2,24.0 196.0,23.7 197.8,24.0 199.7,23.8 201.5,24.0M169.3,39.8 171.0,38.2 173.2,37.2 174.9,35.6 177.1,34.7 178.7,33.7 180.3,32.8 182.0,32.2 183.7,31.7 185.4,31.2 186.9,30.2 188.5,29.9 190.2,30.1 191.8,29.4 193.4,29.8 195.0,29.7 196.6,29.2 198.4,29.9 200.0,30.9 199.5,32.7 198.6,34.2 196.9,34.8 195.2,35.0 193.6,35.3 191.9,35.4 190.3,35.2 192.2,35.8 194.2,36.2 195.9,36.6 197.6,36.2M202.5,49.2 200.4,49.5 198.6,50.3 197.1,51.0 195.6,51.6 194.2,52.4 192.5,53.6 191.3,55.1 192.6,56.6 193.2,58.4 195.5,57.7 197.6,56.7 199.1,56.0 200.4,54.8 201.5,53.5 203.9,53.0 206.4,52.4M201.5,41.9 203.4,43.0 205.4,43.7 207.6,43.7 209.8,43.7 207.5,43.5 205.4,42.7 203.5,42.0 201.5,41.9" fill="none" stroke="#000" stroke-width="1.6" stroke-linejoin="round"/>
<path d="M118.9,160.4 120.3,160.4 120.6,162.1 119.6,162.1 118.9,160.4M133.2,161.7 135.7,162.8 137.6,164.1 137.1,166.9 136.1,165.0 135.2,163.1M134.0,173.1 133.3,175.3 132.3,177.3 133.4,179.1 134.7,180.8 134.7,179.0 135.2,177.3 134.6,175.2 134.0,173.1M139.6,170.3 140.9,171.7 142.0,173.1 142.0,175.9M49.6,28.3 50.9,27.2 53.3,26.4 54.8,27.4 52.8,28.9 51.4,30.4 49.6,30.2M48.9,35.2 50.8,34.8 52.8,35.0 51.8,33.9 48.9,34.4 48.9,35.2M82.1,27.7 84.0,29.2 84.0,27.1 84.0,25.0 81.1,24.2 79.6,26.2 82.1,27.7M57.7,23.7 59.3,23.4 60.9,23.7 62.6,23.7 64.4,24.2 66.0,25.2 63.5,24.7 61.8,25.0 60.1,24.7M41.1,23.2 43.5,23.0 43.7,21.2 44.0,19.4 42.5,17.5 40.6,16.0 39.6,18.9 40.6,20.2 41.1,21.8 41.1,23.2M34.8,24.2 34.3,22.3 32.7,20.7 31.4,18.9 29.9,17.4 31.3,18.9 32.8,20.3 33.3,21.9 34.3,23.2M28.0,17.9 26.3,16.7 24.5,15.5 25.5,12.7 23.1,11.3M9.4,35.7 11.4,36.0 13.3,36.5 16.2,37.2 17.7,37.2 19.2,38.0M22.6,43.5 23.3,45.2 24.5,46.6 24.1,48.3 23.1,49.8 25.0,51.9 24.0,53.5M122.0,44.0 123.7,44.4 125.5,44.5 124.0,43.7M151.8,19.4 153.4,18.5 155.2,17.9 156.6,19.0 157.6,20.3M160.5,33.2 163.5,31.9 162.5,33.2M150.3,32.2 152.0,31.4 153.7,31.2 155.2,32.7M177.1,19.8 179.1,17.4 181.0,19.4 179.6,20.8 177.1,19.8M121.1,13.1 122.3,14.7 123.2,16.4 124.5,17.9 126.3,16.8 128.4,16.0 129.4,13.1" fill="none" stroke="#000" stroke-width="2.0" stroke-linejoin="round" stroke-linecap="round"/>
</g></g>
<g transform="translate(409,395)">
<path d="M21.1 25.2L30.9 25.2L40.6 25.2L40.6 35.2L40.6 45.5L50.4 45.5L60.1 45.5L60.1 35.2L69.9 35.2L69.9 45.5L79.6 45.5L79.6 56.2L79.6 67.2L79.6 78.5L89.4 78.5L99.1 78.5L108.9 78.5L118.6 78.5L128.4 78.5L128.4 67.2L138.1 67.2L138.1 56.2L138.1 45.5L147.9 45.5L157.6 45.5L167.4 45.5L167.4 56.2L167.4 67.2L157.6 67.2L147.9 67.2L147.9 78.5L138.1 78.5L138.1 90.2L138.1 102.1L128.4 102.1L128.4 114.4L118.6 114.4L118.6 127.0L108.9 127.0L108.9 140.0L99.1 140.0L99.1 127.0L89.4 127.0L79.6 127.0L69.9 127.0L69.9 140.0L60.1 140.0L50.4 140.0L40.6 140.0L30.9 140.0L30.9 153.3L30.9 166.9L21.1 166.9L11.4 166.9L11.4 153.3L11.4 140.0L11.4 127.0L11.4 114.4L11.4 102.1L11.4 90.2L11.4 78.5L11.4 67.2L11.4 56.2L11.4 45.5L11.4 35.2L11.4 25.2Z" fill="#313695"/>
<path d="M21.1 25.2L30.9 25.2L40.6 25.2L40.6 35.2L40.6 45.5L50.4 45.5L60.1 45.5L60.1 35.2L69.9 35.2L69.9 45.5L79.6 45.5L79.6 56.2L79.6 67.2L79.6 78.5L89.4 78.5L99.1 78.5L108.9 78.5L118.6 78.5L128.4 78.5L128.4 67.2L138.1 67.2L138.1 56.2L138.1 45.5L147.9 45.5L157.6 45.5L167.4 45.5L167.4 56.2L167.4 67.2L157.6 67.2L147.9 67.2L147.9 78.5L138.1 78.5L138.1 90.2L138.1 102.1L128.4 102.1L128.4 114.4L118.6 114.4L118.6 127.0L108.9 127.0L108.9 140.0L99.1 140.0L99.1 127.0L89.4 127.0L79.6 127.0L69.9 127.0L69.9 140.0L60.1 140.0L50.4 140.0L40.6 140.0L30.9 140.0L30.9 153.3L30.9 166.9L21.1 166.9L11.4 166.9L11.4 153.3L11.4 140.0L11.4 127.0L11.4 114.4L11.4 102.1L11.4 90.2L11.4 78.5L11.4 67.2L11.4 56.2L11.4 45.5L11.4 35.2L11.4 25.2Z" fill="#4575b4"/>
<path d="M21.1 25.2L30.9 25.2L40.6 25.2L40.6 35.2L40.6 45.5L50.4 45.5L60.1 45.5L60.1 35.2L69.9 35.2L69.9 45.5L79.6 45.5L79.6 56.2L79.6 67.2L79.6 78.5L89.4 78.5L99.1 78.5L108.9 78.5L118.6 78.5L128.4 78.5L128.4 67.2L138.1 67.2L138.1 56.2L138.1 45.5L147.9 45.5L157.6 45.5L167.4 45.5L167.4 56.2L167.4 67.2L157.6 67.2L147.9 67.2L147.9 78.5L138.1 78.5L138.1 90.2L138.1 102.1L128.4 102.1L128.4 114.4L118.6 114.4L118.6 127.0L108.9 127.0L108.9 140.0L99.1 140.0L99.1 127.0L89.4 127.0L79.6 127.0L69.9 127.0L69.9 140.0L60.1 140.0L50.4 140.0L40.6 140.0L30.9 140.0L30.9 153.3L30.9 166.9L21.1 166.9L11.4 166.9L11.4 153.3L11.4 140.0L11.4 127.0L11.4 114.4L11.4 102.1L11.4 90.2L11.4 78.5L11.4 67.2L11.4 56.2L11.4 45.5L11.4 35.2L11.4 25.2ZM55.2 90.2L50.4 96.1L45.5 102.1L50.4 108.3L55.2 102.1L60.1 96.1L62.6 90.2L60.1 84.3Z" fill="#74add1"/>
<path d="M21.1 26.2L30.9 26.0L35.8 25.2L40.6 25.2L40.6 35.2L40.6 45.5L50.4 45.5L60.1 45.5L60.1 35.2L69.9 35.2L69.9 45.5L79.6 45.5L79.6 56.2L79.6 67.2L79.6 78.5L89.4 78.5L94.2 78.5L94.2 90.2L99.1 91.7L101.6 90.2L101.6 78.5L108.9 78.5L118.6 78.5L128.4 78.5L128.4 67.2L138.1 67.2L138.1 56.2L138.1 45.5L147.9 45.5L157.6 45.5L167.4 45.5L167.4 55.4L162.5 56.2L167.4 61.7L167.4 67.2L157.6 67.2L147.9 67.2L147.9 78.5L138.1 78.5L138.1 90.2L138.1 102.1L128.4 102.1L128.4 114.4L118.6 114.4L118.6 127.0L108.9 127.0L108.9 140.0L99.1 140.0L99.1 127.0L89.4 127.0L79.6 127.0L69.9 127.0L69.9 140.0L60.1 140.0L55.2 140.0L55.2 127.0L60.1 120.7L65.0 114.4L61.8 102.1L67.4 90.2L65.0 78.5L60.1 72.9L55.2 67.2L50.4 65.4L45.5 67.2L40.6 72.9L35.8 78.5L35.8 90.2L30.9 96.1L21.1 100.1L16.2 102.1L21.1 105.2L30.9 108.3L35.8 114.4L40.6 120.7L45.5 127.0L45.5 140.0L40.6 140.0L30.9 140.0L30.9 153.3L30.9 166.9L21.1 166.9L11.4 166.9L11.4 153.3L11.4 140.0L11.4 127.0L11.4 114.4L11.4 102.1L11.4 90.2L11.4 78.5L11.4 67.2L11.4 56.2L11.4 45.5L11.4 35.2L11.4 25.2L18.7 25.2ZM143.0 56.2L147.9 58.0L152.8 56.2L147.9 55.1ZM74.8 114.4L79.6 117.6L81.2 114.4L79.6 111.3Z" fill="#abd9e9"/>
<path d="M21.1 28.2L30.9 27.7L40.6 26.2L40.6 35.2L40.6 45.5L49.2 45.5L50.4 48.2L52.8 45.5L60.1 45.5L60.1 35.2L69.9 35.2L69.9 45.5L79.6 45.5L79.6 56.2L79.6 67.2L79.6 72.9L74.8 67.2L69.9 65.8L60.1 64.4L50.4 61.7L40.6 61.7L38.2 67.2L30.9 75.7L26.0 78.5L28.4 90.2L21.1 96.1L11.4 101.1L11.4 90.2L11.4 78.5L11.4 67.2L11.4 56.2L11.4 47.3L13.0 45.5L12.6 35.2L11.4 30.2L11.4 25.2L13.8 25.2ZM147.9 45.5L157.6 45.5L167.4 45.5L167.4 53.9L157.6 55.3L147.9 53.0L138.1 54.4L138.1 45.5ZM147.9 61.7L157.6 61.7L162.5 67.2L157.6 67.2L147.9 67.2L147.9 78.5L138.1 78.5L138.1 90.2L138.1 102.1L128.4 102.1L128.4 114.4L118.6 114.4L118.6 127.0L108.9 127.0L108.9 140.0L99.1 140.0L99.1 127.0L89.4 127.0L79.6 127.0L74.8 127.0L79.6 123.9L84.5 114.4L79.6 105.2L69.9 111.3L65.0 102.1L69.9 93.1L79.6 96.1L89.4 93.1L99.1 94.6L106.4 90.2L106.4 78.5L108.9 78.5L118.6 78.5L128.4 78.5L128.4 67.2L138.1 67.2L138.1 58.0ZM21.1 111.3L26.0 114.4L30.9 117.6L38.2 127.0L30.9 136.8L29.9 140.0L30.9 146.6L30.9 153.3L30.9 166.9L21.1 166.9L11.4 166.9L11.4 153.3L11.4 140.0L11.4 128.7L13.8 127.0L16.2 114.4Z" fill="#e0f3f8"/>
<path d="M21.1 30.2L30.9 29.4L40.6 28.2L40.6 35.2L40.6 45.5L46.7 45.5L50.4 53.5L57.7 45.5L60.1 45.5L60.1 35.2L69.9 35.2L69.9 45.5L79.6 45.5L79.6 56.2L79.6 66.1L69.9 63.1L60.1 59.0L50.4 58.0L45.5 56.2L40.6 54.4L35.8 56.2L33.3 67.2L30.9 70.0L21.1 76.6L13.0 67.2L11.4 64.4L11.4 56.2L11.4 50.9L16.2 45.5L15.0 35.2ZM147.9 45.5L157.6 45.5L167.4 45.5L167.4 52.4L157.6 53.5L147.9 50.9L138.1 50.9L138.1 45.5ZM147.9 65.4L152.8 67.2L147.9 67.2L147.9 78.5L138.1 78.5L138.1 90.2L138.1 102.1L128.4 102.1L128.4 114.4L118.6 114.4L118.6 127.0L108.9 127.0L108.9 140.0L99.1 140.0L99.1 127.0L89.4 127.0L84.5 127.0L87.8 114.4L84.5 102.1L89.4 99.1L99.1 97.6L108.9 91.7L109.8 90.2L109.8 78.5L118.6 78.5L128.4 78.5L128.4 67.2L138.1 67.2L138.1 61.7ZM21.1 84.3L23.6 90.2L21.1 92.2L11.4 99.1L11.4 90.2L11.4 79.7ZM69.9 99.1L74.8 102.1L69.9 105.2L68.2 102.1ZM21.1 120.7L30.9 123.9L33.3 127.0L30.9 130.3L27.9 140.0L29.2 153.3L29.9 166.9L21.1 166.9L11.4 166.9L11.4 153.3L11.4 140.0L11.4 131.9L18.7 127.0Z" fill="#ffffbf"/>
<path d="M21.1 32.2L30.9 31.0L40.6 30.2L40.6 35.2L40.6 45.5L44.3 45.5L40.6 50.9L30.9 54.9L21.1 50.9L19.5 45.5L17.5 35.2ZM69.9 35.2L69.9 45.5L79.6 45.5L79.6 56.2L79.6 63.9L69.9 60.3L62.6 56.2L61.8 45.5L60.1 40.4L60.1 35.2ZM16.2 56.2L11.4 59.0L11.4 56.2L11.4 54.4ZM147.9 45.5L157.6 45.5L167.4 45.5L167.4 50.9L157.6 51.8L147.9 48.7L138.1 47.3L138.1 45.5ZM21.1 59.0L28.4 67.2L21.1 72.9L16.2 67.2ZM143.0 67.2L146.2 78.5L138.1 78.5L138.1 90.2L138.1 102.1L128.4 102.1L128.4 114.4L118.6 114.4L118.6 127.0L108.9 127.0L108.9 140.0L99.1 140.0L99.1 127.0L94.2 127.0L91.8 114.4L94.2 102.1L99.1 100.6L108.9 94.6L111.8 90.2L111.8 78.5L118.6 78.5L128.4 78.5L128.4 67.2L138.1 67.2L138.1 65.4ZM19.9 90.2L11.4 97.1L11.4 90.2L11.4 82.0ZM21.1 129.2L26.0 140.0L26.0 153.3L27.9 166.9L21.1 166.9L11.4 166.9L11.4 153.3L11.4 140.0L11.4 135.1Z" fill="#fee090"/>
<path d="M21.1 34.2L30.9 32.7L40.6 32.2L40.6 35.2L40.6 45.5L41.8 45.5L40.6 47.3L30.9 52.2L22.8 45.5L21.1 40.4L19.9 35.2ZM69.9 35.2L69.9 45.5L79.6 45.5L79.6 56.2L79.6 61.7L69.9 57.6L67.4 56.2L65.0 45.5L61.8 35.2ZM147.9 45.5L157.6 45.5L167.4 45.5L167.4 49.4L157.6 50.0L147.9 46.6L143.0 45.5ZM21.1 64.4L23.6 67.2L21.1 69.1L19.5 67.2ZM138.1 70.0L143.0 78.5L138.1 78.5L138.1 90.2L138.1 99.1L135.7 102.1L128.4 102.1L128.4 111.3L125.9 114.4L118.6 114.4L118.6 127.0L108.9 127.0L108.9 140.0L99.1 140.0L99.1 133.5L100.8 127.0L99.1 120.7L96.7 114.4L99.1 108.3L101.6 102.1L108.9 97.6L113.8 90.2L113.8 78.5L118.6 78.5L128.4 78.5L128.4 67.2L136.5 67.2ZM17.5 90.2L11.4 95.1L11.4 90.2L11.4 84.3ZM21.1 133.5L24.0 140.0L22.8 153.3L26.0 166.9L21.1 166.9L11.4 166.9L11.4 153.3L11.4 140.0L11.4 138.4Z" fill="#fdae61"/>
<path d="M30.9 34.4L40.6 34.2L40.6 35.2L40.6 40.4L38.2 45.5L30.9 49.5L26.0 45.5L26.0 35.2ZM69.9 35.2L69.9 45.5L79.6 45.5L79.6 56.2L79.6 59.5L72.3 56.2L69.9 50.9L68.2 45.5L65.0 35.2ZM157.6 45.5L167.4 45.5L167.4 47.8L157.6 48.2L150.3 45.5ZM138.1 75.7L139.8 78.5L138.1 78.5L138.1 90.2L138.1 93.1L130.8 102.1L128.4 102.1L128.4 105.2L121.1 114.4L118.6 114.4L118.6 127.0L108.9 127.0L108.9 140.0L101.6 140.0L104.0 127.0L101.6 114.4L106.4 102.1L108.9 100.6L115.7 90.2L115.7 78.5L118.6 78.5L128.4 78.5L128.4 67.2L133.2 67.2ZM15.0 90.2L11.4 93.1L11.4 90.2L11.4 86.7ZM21.1 137.8L22.1 140.0L21.1 146.6L18.7 153.3L21.1 156.7L24.0 166.9L21.1 166.9L11.4 166.9L11.4 153.3L11.4 143.3L16.2 140.0Z" fill="#f46d43"/>
<path d="M30.9 40.4L33.3 45.5L30.9 46.9L29.2 45.5ZM69.9 35.2L69.9 40.4L68.2 35.2ZM79.6 45.5L79.6 56.2L79.6 57.3L77.2 56.2L74.8 45.5ZM157.6 45.5L167.4 45.5L167.4 46.3L157.6 46.4L155.2 45.5ZM133.2 78.5L133.2 90.2L128.4 96.1L123.5 102.1L118.6 108.3L113.8 102.1L117.7 90.2L117.7 78.5L118.6 78.5L128.4 78.5L128.4 67.2L130.0 67.2ZM12.6 90.2L11.4 91.2L11.4 90.2L11.4 89.0ZM108.9 108.3L113.8 114.4L118.6 120.7L118.6 127.0L108.9 127.0L108.9 140.0L106.4 140.0L107.2 127.0L106.4 114.4ZM13.8 153.3L21.1 163.5L22.1 166.9L21.1 166.9L11.4 166.9L11.4 153.3L11.4 150.0Z" fill="#d73027"/>
<g clip-path="url(#cpB)">
<path d="M-22.8,30.2 49.6,30.2M49.6,28.3 51.4,28.7 52.3,31.6 56.2,32.6 60.1,32.2 65.0,33.4 69.9,34.2 74.8,34.7 76.7,35.2M18.7,30.2 18.7,10.8M49.6,28.3 49.6,10.8M125.9,10.8 125.9,17.9 125.9,37.8 126.9,40.3 129.4,44.0 135.7,46.1 141.5,48.2 150.3,49.2 151.3,50.8M149.3,50.8 164.9,50.8M164.9,50.8 166.9,49.2 169.3,47.7 171.3,44.0 172.2,41.9 176.1,38.0 180.5,38.5 183.0,40.1 183.0,47.1 184.7,47.7 185.9,49.8 186.9,51.1M6.3,30.2 6.3,72.8M-27.6,50.8 6.3,50.8M-27.6,72.8 16.0,72.8M16.0,72.8 16.0,96.1M6.3,45.9 42.8,45.9M6.3,61.7 33.3,61.7 38.2,62.5 41.1,63.0 43.3,64.4M16.0,78.5 48.9,78.5M-17.9,96.1 52.2,96.1M11.4,96.1 11.4,99.1 26.0,99.1 26.0,110.9M11.1,99.1 11.1,127.0 -6.2,127.0M26.0,110.9 28.4,111.9 30.9,113.2 33.3,113.8 35.8,114.4 38.2,115.4 40.6,116.0 43.1,115.7 45.5,115.4 47.9,115.0 50.4,115.4 52.9,116.7 55.1,117.2M55.1,117.2 55.1,120.7M55.1,120.7 55.1,127.0 56.2,130.3 57.4,133.5 56.7,136.7 56.5,140.0 56.0,142.0M55.1,120.7 69.1,120.7M52.9,116.7 53.2,105.8 52.2,99.1 52.2,83.7M52.2,83.7 50.9,81.4 49.9,79.7 48.9,78.5 46.6,75.1 46.2,72.8 46.0,70.0 45.0,67.2 43.3,64.4M43.3,64.4 42.6,61.7 43.3,58.9 43.3,49.2 42.8,45.9 41.8,42.9 41.6,40.3 40.6,36.7 40.1,33.7 39.5,30.2M43.3,58.9 68.8,58.9M46.6,75.1 66.3,75.1 67.8,76.3M52.2,99.1 74.0,99.1 72.9,102.1 76.1,102.1M64.5,41.6 63.5,45.0 61.3,47.9 61.1,50.8 63.5,53.5 66.5,55.1 68.9,58.9 69.1,61.7 71.6,64.4 73.8,67.8 71.8,70.0 69.4,72.2 67.8,76.3 68.4,79.7 71.3,83.1 73.8,85.5 73.8,88.4 76.7,92.5 77.2,94.3 78.9,96.1 78.6,98.5 77.2,99.1 76.2,102.1 74.5,105.8 74.3,108.2 71.8,111.3 70.4,114.4 69.1,120.7 69.4,123.9 69.9,127.0 67.0,133.5M67.0,133.5 76.1,133.5 76.7,136.1 76.9,138.7M71.6,64.4 85.5,64.4M86.5,50.3 85.5,47.7 82.1,46.1 77.2,45.0 72.8,42.7M88.4,68.6 100.1,68.9 106.7,68.7M86.8,68.6 86.8,82.0 86.5,84.9 85.7,88.4 84.3,91.3M100.1,68.9 100.1,83.7M121.0,67.2 121.0,74.9M78.9,96.1 82.1,95.5 84.3,91.3 86.9,90.7 90.4,90.5 92.8,90.2 95.2,88.4 97.7,86.0 100.1,83.7 103.0,85.5 105.5,86.3 108.9,86.0 110.8,87.8 112.8,85.5 114.7,83.7 117.2,82.0 119.1,79.7 120.6,76.8 121.0,74.9M77.2,99.1 84.3,99.1 84.3,98.0 94.2,98.3 105.6,98.5 115.3,98.5 123.5,98.8 133.2,98.8 143.6,98.8M105.6,98.5 108.9,97.0 110.8,94.9 112.3,93.1 114.0,92.8 110.8,89.3 110.8,87.8M114.0,92.8 117.6,94.3 121.1,93.4 122.5,90.7 124.5,88.4 125.9,86.9 126.9,84.9 129.8,84.0 131.5,82.0 134.2,82.5 134.7,82.5M126.0,80.1 126.0,83.1 128.9,81.7 131.5,80.8 134.2,81.7 135.7,83.7 137.6,84.9 137.1,86.6 138.6,88.4 141.5,90.2M121.0,80.1 144.0,80.1M144.0,80.1 144.1,87.5 147.6,87.5M121.0,67.2 124.7,65.7 124.7,67.2 146.1,67.2M146.1,67.2 147.4,68.3 149.3,70.8 147.4,73.7 147.9,76.2 149.1,77.7 147.4,79.1 145.4,80.2 145.2,81.4M149.3,70.8 152.8,72.8M155.2,72.2 155.2,66.9 156.3,63.0 156.4,50.8M155.2,66.9 163.5,67.1 163.5,71.1M165.5,67.1 165.5,70.0M156.3,63.0 165.9,63.3 167.6,62.5M160.3,63.1 160.5,58.9 162.3,54.6 164.9,50.8M168.8,61.1 167.6,58.9 167.0,53.5 167.0,49.2M73.3,108.2 102.4,108.2M83.5,108.2 84.0,114.4 82.2,127.7 82.5,133.5 82.5,137.4M96.2,108.2 98.1,120.7 99.1,125.1 98.6,129.6 99.1,133.5M86.5,133.5 99.1,133.5M86.5,133.5 87.2,136.7 86.9,138.0M99.1,133.5 99.8,135.4 112.8,136.3 113.8,137.4 115.0,136.7 116.2,135.4M102.4,108.2 104.5,107.0 106.4,104.9 108.9,103.6 111.3,102.1 113.8,101.2 115.3,98.5M108.4,108.2 109.9,111.3 112.3,114.4 114.2,117.5 116.2,120.7 118.1,125.8 119.1,127.0M108.4,108.2 113.8,107.0 118.6,107.3 119.1,109.5 125.0,109.5 130.6,115.4M-6.2,127.0 -5.2,128.6 -0.8,133.5 2.6,136.7 4.1,142.0 7.0,144.6 10.4,146.6 12.8,142.0 14.8,141.0 19.2,141.6 22.1,144.6 24.5,149.9 27.5,155.3 28.9,159.4 30.4,163.4 34.3,166.2 38.2,167.6 39.9,167.2M-5.7,170.3 1.6,163.4 5.5,162.1 9.9,173.8 15.3,176.6M10.4,146.6 12.8,153.3 13.8,160.0 11.4,166.9M26.0,153.3 24.5,156.6 27.0,163.4 28.4,170.3 31.9,173.8 34.3,179.4M15.3,176.6 21.1,170.3 23.6,161.4 24.5,156.6M37.2,180.8 34.3,179.4 29.9,184.3 28.4,189.3" fill="none" stroke="#111" stroke-width="0.9" stroke-linejoin="round"/>
<path d="M197.6,36.2 195.2,36.2 193.2,37.2 194.8,38.0 196.3,38.7 197.6,39.8 198.6,42.4 200.0,43.6 201.5,44.5 203.1,44.9 204.4,46.1 202.9,46.8 201.5,47.7 199.6,48.4 197.6,49.0 194.7,49.8 192.9,50.0 191.3,49.5 188.8,50.3 186.9,51.1 184.9,52.7 183.5,53.4 182.0,54.0 179.6,54.6 177.1,55.7 175.8,56.7 174.2,57.0 171.3,58.1 170.3,59.5 169.3,60.8 168.4,62.8 167.9,64.4 167.4,65.5 168.8,66.6 169.8,68.0 171.8,68.6 172.5,67.8 172.0,66.9 172.5,68.9 172.2,69.7 169.8,69.7 167.9,69.7 165.4,70.3 163.0,71.1 160.1,71.4 157.6,71.7 154.7,72.8 153.2,73.9 152.8,75.7 152.5,77.9 152.0,80.2 150.3,82.3 148.4,84.6 147.4,83.1 145.7,82.0 145.2,80.8 145.9,82.5 147.0,83.8 147.4,85.5 147.6,87.8 146.7,90.2 146.1,91.8 145.0,93.1 143.2,95.2 143.0,92.5 143.5,89.6 142.7,88.1 142.0,86.6 142.1,84.8 141.5,83.1 142.5,81.1 140.6,82.8 140.8,85.5 140.6,87.8 141.5,90.2 141.3,92.5 141.5,95.5 143.0,96.7 143.5,98.8 144.2,101.5 145.1,102.9 145.4,104.6 145.4,106.7 143.5,107.3 142.2,108.9 140.6,110.1 138.6,110.6 136.7,111.3 134.9,112.9 133.7,115.0 132.0,115.1 130.3,115.4 128.9,117.1 127.4,118.8 126.0,119.7 125.4,121.4 124.0,122.3 122.3,123.1 121.1,124.5 120.0,125.8 118.6,126.7 118.2,128.9 117.2,130.9 117.1,133.2 116.4,135.4 116.7,137.7 116.7,140.0 116.9,141.7 117.6,143.3 118.6,144.8 119.1,146.6 119.8,148.6 120.6,150.6 120.8,152.6 121.3,154.6 121.9,156.4 122.2,158.2 122.8,160.0 123.4,161.7 123.3,163.4 123.6,165.1 123.4,166.7 123.0,168.3 122.2,169.9 121.8,171.7 119.1,172.8 117.9,172.4 117.2,169.6 115.2,167.2 114.7,165.4 114.2,163.4 113.1,162.2 112.3,160.7 111.5,158.7 110.6,156.6 110.2,155.0 109.9,153.3 109.9,151.2 110.3,149.3 109.9,146.6 107.9,144.6 106.9,142.5 105.5,140.7 103.0,139.7 101.6,141.0 99.1,142.3 97.2,142.0 95.7,139.3 94.3,138.2 92.8,137.4 91.1,137.8 89.4,137.7 86.9,138.0 84.5,137.4 82.1,137.7 80.3,137.8 78.6,138.0 76.7,138.7 76.2,140.0 78.2,142.0 78.9,143.6 79.6,145.3 77.7,146.6 75.2,144.6 73.6,145.0 72.3,145.9 70.7,145.1 68.9,144.6 67.3,143.8 66.0,142.6 63.5,143.0 62.0,141.9 60.1,141.6 58.2,142.1 56.2,142.0 54.5,142.7 52.8,143.3 50.4,145.3 48.9,146.2 48.0,147.7 46.5,148.6 44.8,149.9 43.1,151.3 42.2,152.9 40.6,153.9 39.2,156.6 38.8,158.7 38.7,160.7 38.8,162.6 39.3,164.4 39.6,166.2 38.8,168.2 38.8,170.4 38.2,172.4 37.8,174.1 37.6,175.9 37.4,177.6 37.2,179.4 37.2,181.1 36.7,182.8 36.5,184.5 36.8,186.2 36.7,187.9 36.7,189.7 37.3,191.5 36.8,193.3 36.9,195.1 36.7,196.9 37.2,198.7M64.5,41.6 66.4,41.0 68.0,39.7 69.9,39.0 71.4,38.0 73.2,37.3 74.8,36.2 77.2,35.2 78.6,34.1 80.4,33.8 82.1,33.2 84.5,31.2 86.1,31.0 87.8,31.0 89.4,31.4 91.1,31.3 92.8,31.9 93.8,33.8 95.2,35.5 96.8,35.8 98.2,36.6 99.6,37.5 100.8,40.3 101.6,42.9 99.1,41.6 97.5,41.9 95.8,41.6 94.2,42.1 92.7,42.8 91.0,42.7 89.4,42.9 88.3,41.4 87.4,39.6 86.0,38.3 84.1,38.9 82.5,40.1 79.6,41.1 77.9,41.2 76.4,42.2 74.8,42.4 73.1,42.1 71.5,41.7 69.9,41.1 68.1,40.9 66.3,41.0 64.5,41.6M100.1,46.6 98.3,46.2 96.7,45.3 95.0,45.9 93.2,46.2 91.3,46.3 89.7,47.5 87.9,48.2 86.5,50.3 85.5,51.8 84.5,53.2 86.5,53.0 86.9,55.1 86.4,56.7 86.0,58.4 85.7,60.1 85.0,61.7 85.7,63.3 85.5,65.0 86.0,66.5 86.5,68.0 88.4,69.4 89.8,68.6 91.3,68.0 92.1,66.5 92.8,65.0 93.4,63.4 93.3,61.7 92.8,59.7 92.1,57.8 92.4,56.2 92.8,54.6 94.0,53.4 95.2,52.2 96.2,50.8 97.3,48.7 99.1,47.1 100.1,46.6M100.1,46.6 102.1,46.4 104.0,45.5 106.9,45.5 109.1,45.5 111.3,45.0 112.9,45.4 114.5,45.5 116.2,45.3 118.2,45.4 120.1,45.8 121.4,47.2 122.5,48.7 123.8,50.1 124.5,51.9 122.0,53.5 119.1,52.4 118.2,51.0 117.2,49.8 116.7,52.4 116.3,54.5 115.2,56.2 114.8,58.3 113.8,60.0 111.8,61.7 111.1,60.1 110.8,58.4 109.4,56.2 106.9,56.5 104.5,58.1 105.5,56.2 106.9,54.6 107.0,52.7 107.4,50.8 105.7,49.8 104.5,48.2 102.1,47.8 100.1,46.6M111.3,63.9 109.4,64.1 109.9,65.5 111.6,65.2 111.3,63.9M106.7,68.7 108.6,69.1 110.3,70.0 112.0,69.6 113.6,69.9 115.2,70.0 116.5,68.9 118.3,68.9 119.6,68.0 121.1,67.2 122.6,66.1 124.5,65.5 125.8,64.3 127.3,63.4 128.9,62.5 126.4,62.4 124.3,63.2 122.0,63.9 119.8,64.1 117.6,63.6 116.2,64.4 114.8,65.3 113.8,66.6 110.8,67.2 108.4,66.9 106.7,68.7M124.5,60.0 126.2,60.1 127.9,60.3 129.7,60.1 131.4,59.5 133.2,59.6 135.2,59.4 137.2,59.7 139.1,60.0 140.5,59.1 142.0,58.7 141.5,55.9 139.8,55.9 138.1,56.5 135.2,55.9 133.1,56.6 130.8,56.6 128.8,57.8 126.4,58.1 124.5,60.0M141.5,55.9 143.1,55.2 144.2,53.8 145.4,52.7 147.2,51.4 149.3,50.6 151.1,49.8 152.7,48.6 154.7,48.2 156.1,47.1 157.6,46.4 158.9,45.3 160.1,44.0 161.7,43.5 163.1,42.5 164.8,41.9 166.4,41.4 167.7,40.3 169.3,39.8M169.3,39.8 170.9,38.7 172.2,37.2 174.0,35.7 175.7,34.2 177.1,33.2 178.2,31.7 179.6,30.7 181.1,29.8 182.9,29.6 184.4,28.7 185.9,27.9 187.1,26.8 188.3,25.7 189.3,24.5 191.0,24.6 192.6,24.4 194.2,24.0 196.0,23.7 197.8,24.0 199.7,23.8 201.5,24.0M169.3,39.8 171.0,38.2 173.2,37.2 174.9,35.6 177.1,34.7 178.7,33.7 180.3,32.8 182.0,32.2 183.7,31.7 185.4,31.2 186.9,30.2 188.5,29.9 190.2,30.1 191.8,29.4 193.4,29.8 195.0,29.7 196.6,29.2 198.4,29.9 200.0,30.9 199.5,32.7 198.6,34.2 196.9,34.8 195.2,35.0 193.6,35.3 191.9,35.4 190.3,35.2 192.2,35.8 194.2,36.2 195.9,36.6 197.6,36.2M202.5,49.2 200.4,49.5 198.6,50.3 197.1,51.0 195.6,51.6 194.2,52.4 192.5,53.6 191.3,55.1 192.6,56.6 193.2,58.4 195.5,57.7 197.6,56.7 199.1,56.0 200.4,54.8 201.5,53.5 203.9,53.0 206.4,52.4M201.5,41.9 203.4,43.0 205.4,43.7 207.6,43.7 209.8,43.7 207.5,43.5 205.4,42.7 203.5,42.0 201.5,41.9" fill="none" stroke="#000" stroke-width="1.6" stroke-linejoin="round"/>
<path d="M118.9,160.4 120.3,160.4 120.6,162.1 119.6,162.1 118.9,160.4M133.2,161.7 135.7,162.8 137.6,164.1 137.1,166.9 136.1,165.0 135.2,163.1M134.0,173.1 133.3,175.3 132.3,177.3 133.4,179.1 134.7,180.8 134.7,179.0 135.2,177.3 134.6,175.2 134.0,173.1M139.6,170.3 140.9,171.7 142.0,173.1 142.0,175.9M49.6,28.3 50.9,27.2 53.3,26.4 54.8,27.4 52.8,28.9 51.4,30.4 49.6,30.2M48.9,35.2 50.8,34.8 52.8,35.0 51.8,33.9 48.9,34.4 48.9,35.2M82.1,27.7 84.0,29.2 84.0,27.1 84.0,25.0 81.1,24.2 79.6,26.2 82.1,27.7M57.7,23.7 59.3,23.4 60.9,23.7 62.6,23.7 64.4,24.2 66.0,25.2 63.5,24.7 61.8,25.0 60.1,24.7M41.1,23.2 43.5,23.0 43.7,21.2 44.0,19.4 42.5,17.5 40.6,16.0 39.6,18.9 40.6,20.2 41.1,21.8 41.1,23.2M34.8,24.2 34.3,22.3 32.7,20.7 31.4,18.9 29.9,17.4 31.3,18.9 32.8,20.3 33.3,21.9 34.3,23.2M28.0,17.9 26.3,16.7 24.5,15.5 25.5,12.7 23.1,11.3M9.4,35.7 11.4,36.0 13.3,36.5 16.2,37.2 17.7,37.2 19.2,38.0M22.6,43.5 23.3,45.2 24.5,46.6 24.1,48.3 23.1,49.8 25.0,51.9 24.0,53.5M122.0,44.0 123.7,44.4 125.5,44.5 124.0,43.7M151.8,19.4 153.4,18.5 155.2,17.9 156.6,19.0 157.6,20.3M160.5,33.2 163.5,31.9 162.5,33.2M150.3,32.2 152.0,31.4 153.7,31.2 155.2,32.7M177.1,19.8 179.1,17.4 181.0,19.4 179.6,20.8 177.1,19.8M121.1,13.1 122.3,14.7 123.2,16.4 124.5,17.9 126.3,16.8 128.4,16.0 129.4,13.1" fill="none" stroke="#000" stroke-width="2.0" stroke-linejoin="round" stroke-linecap="round"/>
</g></g>
<g transform="translate(613.5,395)">
<path d="M21.1 35.2L30.9 35.2L40.6 35.2L40.6 45.5L50.4 45.5L60.1 45.5L69.9 45.5L79.6 45.5L79.6 56.2L79.6 67.2L79.6 78.5L89.4 78.5L99.1 78.5L108.9 78.5L118.6 78.5L128.4 78.5L128.4 67.2L138.1 67.2L138.1 56.2L147.9 56.2L147.9 45.5L157.6 45.5L167.4 45.5L167.4 56.2L167.4 67.2L157.6 67.2L147.9 67.2L147.9 78.5L138.1 78.5L138.1 90.2L138.1 102.1L128.4 102.1L128.4 114.4L118.6 114.4L118.6 127.0L108.9 127.0L108.9 140.0L99.1 140.0L99.1 127.0L89.4 127.0L79.6 127.0L69.9 127.0L69.9 140.0L60.1 140.0L50.4 140.0L40.6 140.0L30.9 140.0L30.9 153.3L30.9 166.9L21.1 166.9L11.4 166.9L11.4 153.3L11.4 140.0L11.4 127.0L11.4 114.4L11.4 102.1L11.4 90.2L11.4 78.5L11.4 67.2L11.4 56.2L11.4 45.5L11.4 35.2Z" fill="#313695"/>
<path d="M21.1 35.2L30.9 35.2L40.6 35.2L40.6 45.5L50.4 45.5L60.1 45.5L69.9 45.5L79.6 45.5L79.6 56.2L79.6 67.2L79.6 78.5L89.4 78.5L99.1 78.5L108.9 78.5L118.6 78.5L128.4 78.5L128.4 67.2L138.1 67.2L138.1 56.2L147.9 56.2L147.9 45.5L157.6 45.5L167.4 45.5L167.4 56.2L167.4 67.2L157.6 67.2L147.9 67.2L147.9 78.5L138.1 78.5L138.1 90.2L138.1 102.1L128.4 102.1L128.4 114.4L118.6 114.4L118.6 127.0L108.9 127.0L108.9 140.0L99.1 140.0L99.1 127.0L89.4 127.0L79.6 127.0L69.9 127.0L69.9 140.0L60.1 140.0L50.4 140.0L40.6 140.0L30.9 140.0L30.9 153.3L30.9 166.9L21.1 166.9L11.4 166.9L11.4 153.3L11.4 140.0L11.4 127.0L11.4 114.4L11.4 102.1L11.4 90.2L11.4 78.5L11.4 67.2L11.4 56.2L11.4 45.5L11.4 35.2Z" fill="#4575b4"/>
<path d="M21.1 35.2L30.9 35.2L40.6 35.2L40.6 45.5L50.4 45.5L60.1 45.5L69.9 45.5L79.6 45.5L79.6 56.2L79.6 67.2L79.6 78.5L89.4 78.5L99.1 78.5L108.9 78.5L118.6 78.5L128.4 78.5L128.4 67.2L138.1 67.2L138.1 56.2L147.9 56.2L147.9 45.5L157.6 45.5L167.4 45.5L167.4 56.2L167.4 67.2L157.6 67.2L147.9 67.2L147.9 78.5L138.1 78.5L138.1 90.2L138.1 102.1L128.4 102.1L128.4 114.4L118.6 114.4L118.6 127.0L108.9 127.0L108.9 140.0L99.1 140.0L99.1 127.0L89.4 127.0L79.6 127.0L69.9 127.0L69.9 140.0L60.1 140.0L50.4 140.0L40.6 140.0L30.9 140.0L30.9 153.3L30.9 166.9L21.1 166.9L11.4 166.9L11.4 153.3L11.4 140.0L11.4 127.0L11.4 114.4L11.4 102.1L11.4 90.2L11.4 78.5L11.4 67.2L11.4 56.2L11.4 45.5L11.4 35.2Z" fill="#74add1"/>
<path d="M21.1 35.2L30.9 35.2L40.6 35.2L40.6 45.5L50.4 45.5L60.1 45.5L69.9 45.5L79.6 45.5L79.6 56.2L79.6 67.2L79.6 78.5L89.4 78.5L99.1 78.5L108.9 78.5L118.6 78.5L128.4 78.5L128.4 67.2L138.1 67.2L138.1 56.2L147.9 56.2L147.9 45.5L157.6 45.5L167.4 45.5L167.4 56.2L167.4 67.2L157.6 67.2L147.9 67.2L147.9 78.5L138.1 78.5L138.1 90.2L138.1 102.1L128.4 102.1L128.4 114.4L118.6 114.4L118.6 127.0L108.9 127.0L108.9 140.0L99.1 140.0L99.1 127.0L89.4 127.0L79.6 127.0L69.9 127.0L69.9 140.0L60.1 140.0L50.4 140.0L40.6 140.0L30.9 140.0L30.9 153.3L30.9 166.9L21.1 166.9L11.4 166.9L11.4 153.3L11.4 140.0L11.4 127.0L11.4 114.4L11.4 102.1L11.4 90.2L11.4 78.5L11.4 67.2L11.4 56.2L11.4 45.5L11.4 35.2ZM29.2 67.2L30.9 68.6L32.1 67.2L30.9 66.4ZM57.7 67.2L57.7 78.5L60.1 81.4L65.0 78.5L65.0 67.2L60.1 66.3ZM67.4 90.2L69.9 96.1L74.8 90.2L69.9 84.3ZM57.7 114.4L60.1 120.7L62.6 114.4L60.1 112.4Z" fill="#abd9e9"/>
<path d="M21.1 35.2L30.9 35.2L40.6 35.2L40.6 45.5L50.4 45.5L60.1 45.5L69.9 45.5L79.6 45.5L79.6 56.2L79.6 67.2L79.6 72.9L74.8 67.2L69.9 66.3L60.1 64.4L52.8 67.2L52.8 78.5L60.1 87.2L62.6 90.2L67.4 102.1L60.1 108.3L52.8 114.4L57.7 127.0L60.1 130.3L65.0 127.0L67.4 114.4L69.9 108.3L72.3 102.1L79.6 93.1L80.4 90.2L89.4 79.5L94.2 78.5L99.1 78.5L108.9 78.5L118.6 78.5L128.4 78.5L128.4 67.2L138.1 67.2L138.1 56.2L147.9 56.2L147.9 45.5L157.6 45.5L167.4 45.5L167.4 55.1L166.6 56.2L167.4 57.6L167.4 67.2L157.6 67.2L147.9 67.2L147.9 78.5L138.1 78.5L138.1 90.2L138.1 102.1L128.4 102.1L128.4 114.4L118.6 114.4L118.6 127.0L108.9 127.0L108.9 140.0L99.1 140.0L99.1 127.0L89.4 127.0L79.6 127.0L69.9 127.0L69.9 140.0L60.1 140.0L50.4 140.0L40.6 140.0L30.9 140.0L30.9 153.3L30.9 166.9L21.1 166.9L11.4 166.9L11.4 153.3L11.4 140.0L11.4 127.0L11.4 114.4L11.4 102.1L11.4 90.2L11.4 78.5L11.4 67.2L11.4 56.2L11.4 45.5L11.4 35.2ZM26.0 67.2L30.9 71.4L34.5 67.2L30.9 64.8Z" fill="#e0f3f8"/>
<path d="M21.1 35.2L30.1 35.2L30.9 37.8L35.8 35.2L40.6 35.2L40.6 45.5L50.4 45.5L60.1 45.5L69.9 45.5L79.6 45.5L79.6 56.2L79.6 66.3L69.9 64.4L60.1 62.6L50.4 61.7L47.9 67.2L47.9 78.5L47.9 90.2L45.5 102.1L47.9 114.4L50.4 120.7L52.8 127.0L60.1 136.8L69.9 133.5L69.9 140.0L60.1 140.0L50.4 140.0L40.6 140.0L30.9 140.0L30.9 153.3L30.9 166.9L21.1 166.9L11.4 166.9L11.4 153.3L11.4 140.0L11.4 127.0L11.4 114.4L11.4 102.1L11.4 90.2L11.4 78.5L11.4 68.1L16.2 67.2L11.4 66.1L11.4 56.2L11.4 45.5L11.4 35.2ZM22.8 67.2L30.9 74.3L37.0 67.2L30.9 63.3ZM157.6 45.5L167.4 45.5L167.4 53.0L164.9 56.2L167.4 60.3L167.4 67.2L157.6 67.2L147.9 67.2L147.9 78.5L138.1 78.5L138.1 90.2L138.1 102.1L128.4 102.1L128.4 114.4L118.6 114.4L118.6 127.0L108.9 127.0L108.9 140.0L99.1 140.0L99.1 127.0L89.4 127.0L79.6 127.0L74.8 127.0L74.8 114.4L77.2 102.1L79.6 99.1L82.1 90.2L89.4 81.4L99.1 80.5L108.9 84.3L109.7 78.5L118.6 78.5L128.4 78.5L128.4 67.2L138.1 67.2L138.1 56.2L146.2 56.2L147.9 58.0L148.8 56.2L147.9 55.3L147.9 45.5ZM60.1 96.1L62.6 102.1L60.1 104.2L55.2 102.1Z" fill="#ffffbf"/>
<path d="M21.1 35.2L28.4 35.2L30.9 43.0L35.8 45.5L40.6 50.9L45.5 56.2L43.1 67.2L43.1 78.5L43.1 90.2L40.6 96.1L35.8 102.1L40.6 108.3L43.1 114.4L47.9 127.0L40.6 136.8L30.9 136.8L28.4 140.0L30.9 146.6L30.9 153.3L30.9 166.9L21.1 166.9L11.4 166.9L11.4 153.3L11.4 140.0L11.4 127.0L11.4 114.4L11.4 102.1L11.4 90.2L11.4 78.5L11.4 70.0L21.1 70.0L30.9 77.1L39.4 67.2L30.9 61.7L21.1 66.1L11.4 63.9L11.4 56.2L11.4 45.5L11.4 35.2ZM50.4 45.5L60.1 45.5L69.9 45.5L79.6 45.5L79.6 56.2L79.6 64.4L69.9 62.6L60.1 60.8L52.0 56.2L50.4 50.9L45.5 45.5ZM157.6 45.5L167.4 45.5L167.4 50.9L163.3 56.2L167.4 63.1L167.4 67.2L157.6 67.2L147.9 67.2L147.9 78.5L138.1 78.5L138.1 90.2L138.1 102.1L128.4 102.1L128.4 114.4L118.6 114.4L118.6 127.0L108.9 127.0L108.9 140.0L99.1 140.0L99.1 127.0L89.4 127.0L82.1 127.0L81.2 114.4L89.4 104.2L91.8 102.1L89.4 100.6L83.7 90.2L89.4 83.4L99.1 84.3L106.4 90.2L108.9 91.4L109.8 90.2L111.3 78.5L118.6 78.5L128.4 78.5L128.4 67.2L138.1 67.2L138.1 56.2L143.0 56.2L147.9 61.7L150.8 56.2L147.9 53.5L147.9 45.5Z" fill="#fee090"/>
<path d="M21.1 35.2L26.8 35.2L28.4 45.5L30.9 47.3L39.0 56.2L30.9 60.1L21.1 63.9L11.4 61.7L11.4 56.2L11.4 47.3L13.8 45.5L12.6 35.2ZM60.1 45.5L69.9 45.5L79.6 45.5L79.6 56.2L79.6 62.6L69.9 60.8L60.1 59.0L55.2 56.2L51.6 45.5ZM157.6 45.5L167.4 45.5L167.4 48.7L161.7 56.2L167.4 65.8L167.4 67.2L157.6 67.2L147.9 67.2L147.9 78.5L138.1 78.5L138.1 90.2L138.1 102.1L128.4 102.1L128.4 114.4L118.6 114.4L118.6 127.0L108.9 127.0L108.9 140.0L99.1 140.0L99.1 127.0L89.4 127.0L86.9 127.0L84.5 114.4L89.4 108.3L96.7 102.1L89.4 97.6L85.3 90.2L89.4 85.3L99.1 88.2L101.6 90.2L108.9 93.7L111.8 90.2L112.9 78.5L118.6 78.5L128.4 78.5L128.4 67.2L138.1 67.2L138.1 56.2L139.8 56.2L147.9 65.4L152.8 56.2L147.9 51.8L147.9 45.5ZM21.1 75.7L26.0 78.5L30.9 81.4L38.2 90.2L30.9 99.1L28.4 102.1L30.9 105.2L38.2 114.4L40.6 120.7L43.1 127.0L40.6 130.3L30.9 130.3L26.0 127.0L21.1 125.5L12.6 114.4L13.8 102.1L21.1 93.1L23.6 90.2L21.1 84.3L11.4 88.7L11.4 78.5L11.4 71.9ZM21.1 133.5L23.6 140.0L26.0 153.3L30.9 155.5L30.9 166.9L21.1 166.9L12.6 166.9L11.4 163.5L11.4 153.3L11.4 140.0L11.4 129.2Z" fill="#fdae61"/>
<path d="M21.1 35.2L25.2 35.2L23.6 45.5L30.9 50.9L35.8 56.2L30.9 58.6L21.1 61.7L11.4 59.5L11.4 56.2L11.4 50.9L18.7 45.5L15.0 35.2ZM60.1 45.5L69.9 45.5L79.6 45.5L79.6 56.2L79.6 60.8L69.9 59.0L60.1 57.1L58.5 56.2L54.0 45.5ZM157.6 45.5L167.4 45.5L167.4 46.6L160.1 56.2L162.5 67.2L157.6 67.2L152.8 67.2L154.7 56.2L147.9 50.0L147.9 45.5ZM146.2 67.2L146.2 78.5L138.1 78.5L138.1 90.2L138.1 102.1L128.4 102.1L128.4 114.4L118.6 114.4L118.6 127.0L108.9 127.0L108.9 140.0L99.1 140.0L99.1 129.2L101.6 127.0L99.1 120.7L89.4 120.7L87.8 114.4L89.4 112.4L99.1 108.3L100.8 102.1L108.9 96.1L113.8 90.2L114.6 78.5L118.6 78.5L128.4 78.5L128.4 67.2L138.1 67.2L138.1 58.0ZM19.5 78.5L11.4 85.8L11.4 78.5L11.4 73.8ZM30.9 87.2L33.3 90.2L30.9 93.1L28.4 90.2ZM89.4 87.2L96.7 90.2L89.4 94.6L86.9 90.2ZM21.1 99.1L23.6 102.1L30.9 111.3L33.3 114.4L30.9 120.7L21.1 122.3L15.0 114.4L18.7 102.1ZM18.7 140.0L16.2 153.3L21.1 155.5L30.9 160.1L30.9 166.9L21.1 166.9L15.0 166.9L11.4 156.7L11.4 153.3L11.4 140.0L11.4 133.5Z" fill="#f46d43"/>
<path d="M21.1 35.2L23.6 35.2L21.1 43.0L17.5 35.2ZM21.1 48.2L30.9 54.4L32.5 56.2L30.9 57.0L21.1 59.5L11.4 57.3L11.4 56.2L11.4 54.4ZM60.1 45.5L69.9 45.5L79.6 45.5L79.6 56.2L79.6 59.0L69.9 57.1L65.0 56.2L60.1 53.5L56.5 45.5ZM157.6 45.5L164.9 45.5L158.4 56.2L157.6 61.7L156.7 56.2L147.9 48.2L147.9 45.5ZM143.0 67.2L143.0 78.5L138.1 78.5L138.1 90.2L138.1 102.1L128.4 102.1L128.4 114.4L118.6 114.4L118.6 123.9L113.8 127.0L108.9 127.0L108.9 133.5L106.4 127.0L101.6 114.4L104.0 102.1L108.9 98.5L115.7 90.2L116.2 78.5L118.6 78.5L128.4 78.5L128.4 67.2L138.1 67.2L138.1 61.7ZM16.2 78.5L11.4 82.9L11.4 78.5L11.4 75.7ZM89.4 89.2L91.8 90.2L89.4 91.7L88.6 90.2ZM21.1 105.2L28.4 114.4L21.1 119.2L17.5 114.4ZM13.8 140.0L11.4 146.6L11.4 140.0L11.4 137.8ZM106.4 140.0L99.1 140.0L99.1 133.5ZM21.1 160.1L30.9 164.6L30.9 166.9L21.1 166.9L17.5 166.9Z" fill="#d73027"/>
<path d="M21.1 35.2L21.9 35.2L21.1 37.8L19.9 35.2ZM21.1 53.5L26.0 56.2L21.1 57.3L16.2 56.2ZM60.1 45.5L69.9 45.5L79.6 45.5L79.6 56.2L79.6 57.1L74.8 56.2L69.9 50.9L60.1 48.2L58.9 45.5ZM157.6 45.5L160.1 45.5L157.6 50.9L147.9 46.4L147.9 45.5ZM139.8 67.2L139.8 78.5L138.1 78.5L138.1 90.2L138.1 96.1L133.2 102.1L128.4 102.1L128.4 114.4L118.6 114.4L118.6 117.6L108.9 120.7L106.4 114.4L107.2 102.1L108.9 100.9L117.7 90.2L117.8 78.5L118.6 78.5L128.4 78.5L128.4 67.2L138.1 67.2L138.1 65.4ZM13.0 78.5L11.4 80.0L11.4 78.5L11.4 77.6ZM21.1 111.3L23.6 114.4L21.1 116.0L19.9 114.4ZM101.6 140.0L99.1 140.0L99.1 137.8ZM21.1 164.6L26.0 166.9L21.1 166.9L19.9 166.9Z" fill="#a50026"/>
<g clip-path="url(#cpB)">
<path d="M-22.8,30.2 49.6,30.2M49.6,28.3 51.4,28.7 52.3,31.6 56.2,32.6 60.1,32.2 65.0,33.4 69.9,34.2 74.8,34.7 76.7,35.2M18.7,30.2 18.7,10.8M49.6,28.3 49.6,10.8M125.9,10.8 125.9,17.9 125.9,37.8 126.9,40.3 129.4,44.0 135.7,46.1 141.5,48.2 150.3,49.2 151.3,50.8M149.3,50.8 164.9,50.8M164.9,50.8 166.9,49.2 169.3,47.7 171.3,44.0 172.2,41.9 176.1,38.0 180.5,38.5 183.0,40.1 183.0,47.1 184.7,47.7 185.9,49.8 186.9,51.1M6.3,30.2 6.3,72.8M-27.6,50.8 6.3,50.8M-27.6,72.8 16.0,72.8M16.0,72.8 16.0,96.1M6.3,45.9 42.8,45.9M6.3,61.7 33.3,61.7 38.2,62.5 41.1,63.0 43.3,64.4M16.0,78.5 48.9,78.5M-17.9,96.1 52.2,96.1M11.4,96.1 11.4,99.1 26.0,99.1 26.0,110.9M11.1,99.1 11.1,127.0 -6.2,127.0M26.0,110.9 28.4,111.9 30.9,113.2 33.3,113.8 35.8,114.4 38.2,115.4 40.6,116.0 43.1,115.7 45.5,115.4 47.9,115.0 50.4,115.4 52.9,116.7 55.1,117.2M55.1,117.2 55.1,120.7M55.1,120.7 55.1,127.0 56.2,130.3 57.4,133.5 56.7,136.7 56.5,140.0 56.0,142.0M55.1,120.7 69.1,120.7M52.9,116.7 53.2,105.8 52.2,99.1 52.2,83.7M52.2,83.7 50.9,81.4 49.9,79.7 48.9,78.5 46.6,75.1 46.2,72.8 46.0,70.0 45.0,67.2 43.3,64.4M43.3,64.4 42.6,61.7 43.3,58.9 43.3,49.2 42.8,45.9 41.8,42.9 41.6,40.3 40.6,36.7 40.1,33.7 39.5,30.2M43.3,58.9 68.8,58.9M46.6,75.1 66.3,75.1 67.8,76.3M52.2,99.1 74.0,99.1 72.9,102.1 76.1,102.1M64.5,41.6 63.5,45.0 61.3,47.9 61.1,50.8 63.5,53.5 66.5,55.1 68.9,58.9 69.1,61.7 71.6,64.4 73.8,67.8 71.8,70.0 69.4,72.2 67.8,76.3 68.4,79.7 71.3,83.1 73.8,85.5 73.8,88.4 76.7,92.5 77.2,94.3 78.9,96.1 78.6,98.5 77.2,99.1 76.2,102.1 74.5,105.8 74.3,108.2 71.8,111.3 70.4,114.4 69.1,120.7 69.4,123.9 69.9,127.0 67.0,133.5M67.0,133.5 76.1,133.5 76.7,136.1 76.9,138.7M71.6,64.4 85.5,64.4M86.5,50.3 85.5,47.7 82.1,46.1 77.2,45.0 72.8,42.7M88.4,68.6 100.1,68.9 106.7,68.7M86.8,68.6 86.8,82.0 86.5,84.9 85.7,88.4 84.3,91.3M100.1,68.9 100.1,83.7M121.0,67.2 121.0,74.9M78.9,96.1 82.1,95.5 84.3,91.3 86.9,90.7 90.4,90.5 92.8,90.2 95.2,88.4 97.7,86.0 100.1,83.7 103.0,85.5 105.5,86.3 108.9,86.0 110.8,87.8 112.8,85.5 114.7,83.7 117.2,82.0 119.1,79.7 120.6,76.8 121.0,74.9M77.2,99.1 84.3,99.1 84.3,98.0 94.2,98.3 105.6,98.5 115.3,98.5 123.5,98.8 133.2,98.8 143.6,98.8M105.6,98.5 108.9,97.0 110.8,94.9 112.3,93.1 114.0,92.8 110.8,89.3 110.8,87.8M114.0,92.8 117.6,94.3 121.1,93.4 122.5,90.7 124.5,88.4 125.9,86.9 126.9,84.9 129.8,84.0 131.5,82.0 134.2,82.5 134.7,82.5M126.0,80.1 126.0,83.1 128.9,81.7 131.5,80.8 134.2,81.7 135.7,83.7 137.6,84.9 137.1,86.6 138.6,88.4 141.5,90.2M121.0,80.1 144.0,80.1M144.0,80.1 144.1,87.5 147.6,87.5M121.0,67.2 124.7,65.7 124.7,67.2 146.1,67.2M146.1,67.2 147.4,68.3 149.3,70.8 147.4,73.7 147.9,76.2 149.1,77.7 147.4,79.1 145.4,80.2 145.2,81.4M149.3,70.8 152.8,72.8M155.2,72.2 155.2,66.9 156.3,63.0 156.4,50.8M155.2,66.9 163.5,67.1 163.5,71.1M165.5,67.1 165.5,70.0M156.3,63.0 165.9,63.3 167.6,62.5M160.3,63.1 160.5,58.9 162.3,54.6 164.9,50.8M168.8,61.1 167.6,58.9 167.0,53.5 167.0,49.2M73.3,108.2 102.4,108.2M83.5,108.2 84.0,114.4 82.2,127.7 82.5,133.5 82.5,137.4M96.2,108.2 98.1,120.7 99.1,125.1 98.6,129.6 99.1,133.5M86.5,133.5 99.1,133.5M86.5,133.5 87.2,136.7 86.9,138.0M99.1,133.5 99.8,135.4 112.8,136.3 113.8,137.4 115.0,136.7 116.2,135.4M102.4,108.2 104.5,107.0 106.4,104.9 108.9,103.6 111.3,102.1 113.8,101.2 115.3,98.5M108.4,108.2 109.9,111.3 112.3,114.4 114.2,117.5 116.2,120.7 118.1,125.8 119.1,127.0M108.4,108.2 113.8,107.0 118.6,107.3 119.1,109.5 125.0,109.5 130.6,115.4M-6.2,127.0 -5.2,128.6 -0.8,133.5 2.6,136.7 4.1,142.0 7.0,144.6 10.4,146.6 12.8,142.0 14.8,141.0 19.2,141.6 22.1,144.6 24.5,149.9 27.5,155.3 28.9,159.4 30.4,163.4 34.3,166.2 38.2,167.6 39.9,167.2M-5.7,170.3 1.6,163.4 5.5,162.1 9.9,173.8 15.3,176.6M10.4,146.6 12.8,153.3 13.8,160.0 11.4,166.9M26.0,153.3 24.5,156.6 27.0,163.4 28.4,170.3 31.9,173.8 34.3,179.4M15.3,176.6 21.1,170.3 23.6,161.4 24.5,156.6M37.2,180.8 34.3,179.4 29.9,184.3 28.4,189.3" fill="none" stroke="#111" stroke-width="0.9" stroke-linejoin="round"/>
<path d="M197.6,36.2 195.2,36.2 193.2,37.2 194.8,38.0 196.3,38.7 197.6,39.8 198.6,42.4 200.0,43.6 201.5,44.5 203.1,44.9 204.4,46.1 202.9,46.8 201.5,47.7 199.6,48.4 197.6,49.0 194.7,49.8 192.9,50.0 191.3,49.5 188.8,50.3 186.9,51.1 184.9,52.7 183.5,53.4 182.0,54.0 179.6,54.6 177.1,55.7 175.8,56.7 174.2,57.0 171.3,58.1 170.3,59.5 169.3,60.8 168.4,62.8 167.9,64.4 167.4,65.5 168.8,66.6 169.8,68.0 171.8,68.6 172.5,67.8 172.0,66.9 172.5,68.9 172.2,69.7 169.8,69.7 167.9,69.7 165.4,70.3 163.0,71.1 160.1,71.4 157.6,71.7 154.7,72.8 153.2,73.9 152.8,75.7 152.5,77.9 152.0,80.2 150.3,82.3 148.4,84.6 147.4,83.1 145.7,82.0 145.2,80.8 145.9,82.5 147.0,83.8 147.4,85.5 147.6,87.8 146.7,90.2 146.1,91.8 145.0,93.1 143.2,95.2 143.0,92.5 143.5,89.6 142.7,88.1 142.0,86.6 142.1,84.8 141.5,83.1 142.5,81.1 140.6,82.8 140.8,85.5 140.6,87.8 141.5,90.2 141.3,92.5 141.5,95.5 143.0,96.7 143.5,98.8 144.2,101.5 145.1,102.9 145.4,104.6 145.4,106.7 143.5,107.3 142.2,108.9 140.6,110.1 138.6,110.6 136.7,111.3 134.9,112.9 133.7,115.0 132.0,115.1 130.3,115.4 128.9,117.1 127.4,118.8 126.0,119.7 125.4,121.4 124.0,122.3 122.3,123.1 121.1,124.5 120.0,125.8 118.6,126.7 118.2,128.9 117.2,130.9 117.1,133.2 116.4,135.4 116.7,137.7 116.7,140.0 116.9,141.7 117.6,143.3 118.6,144.8 119.1,146.6 119.8,148.6 120.6,150.6 120.8,152.6 121.3,154.6 121.9,156.4 122.2,158.2 122.8,160.0 123.4,161.7 123.3,163.4 123.6,165.1 123.4,166.7 123.0,168.3 122.2,169.9 121.8,171.7 119.1,172.8 117.9,172.4 117.2,169.6 115.2,167.2 114.7,165.4 114.2,163.4 113.1,162.2 112.3,160.7 111.5,158.7 110.6,156.6 110.2,155.0 109.9,153.3 109.9,151.2 110.3,149.3 109.9,146.6 107.9,144.6 106.9,142.5 105.5,140.7 103.0,139.7 101.6,141.0 99.1,142.3 97.2,142.0 95.7,139.3 94.3,138.2 92.8,137.4 91.1,137.8 89.4,137.7 86.9,138.0 84.5,137.4 82.1,137.7 80.3,137.8 78.6,138.0 76.7,138.7 76.2,140.0 78.2,142.0 78.9,143.6 79.6,145.3 77.7,146.6 75.2,144.6 73.6,145.0 72.3,145.9 70.7,145.1 68.9,144.6 67.3,143.8 66.0,142.6 63.5,143.0 62.0,141.9 60.1,141.6 58.2,142.1 56.2,142.0 54.5,142.7 52.8,143.3 50.4,145.3 48.9,146.2 48.0,147.7 46.5,148.6 44.8,149.9 43.1,151.3 42.2,152.9 40.6,153.9 39.2,156.6 38.8,158.7 38.7,160.7 38.8,162.6 39.3,164.4 39.6,166.2 38.8,168.2 38.8,170.4 38.2,172.4 37.8,174.1 37.6,175.9 37.4,177.6 37.2,179.4 37.2,181.1 36.7,182.8 36.5,184.5 36.8,186.2 36.7,187.9 36.7,189.7 37.3,191.5 36.8,193.3 36.9,195.1 36.7,196.9 37.2,198.7M64.5,41.6 66.4,41.0 68.0,39.7 69.9,39.0 71.4,38.0 73.2,37.3 74.8,36.2 77.2,35.2 78.6,34.1 80.4,33.8 82.1,33.2 84.5,31.2 86.1,31.0 87.8,31.0 89.4,31.4 91.1,31.3 92.8,31.9 93.8,33.8 95.2,35.5 96.8,35.8 98.2,36.6 99.6,37.5 100.8,40.3 101.6,42.9 99.1,41.6 97.5,41.9 95.8,41.6 94.2,42.1 92.7,42.8 91.0,42.7 89.4,42.9 88.3,41.4 87.4,39.6 86.0,38.3 84.1,38.9 82.5,40.1 79.6,41.1 77.9,41.2 76.4,42.2 74.8,42.4 73.1,42.1 71.5,41.7 69.9,41.1 68.1,40.9 66.3,41.0 64.5,41.6M100.1,46.6 98.3,46.2 96.7,45.3 95.0,45.9 93.2,46.2 91.3,46.3 89.7,47.5 87.9,48.2 86.5,50.3 85.5,51.8 84.5,53.2 86.5,53.0 86.9,55.1 86.4,56.7 86.0,58.4 85.7,60.1 85.0,61.7 85.7,63.3 85.5,65.0 86.0,66.5 86.5,68.0 88.4,69.4 89.8,68.6 91.3,68.0 92.1,66.5 92.8,65.0 93.4,63.4 93.3,61.7 92.8,59.7 92.1,57.8 92.4,56.2 92.8,54.6 94.0,53.4 95.2,52.2 96.2,50.8 97.3,48.7 99.1,47.1 100.1,46.6M100.1,46.6 102.1,46.4 104.0,45.5 106.9,45.5 109.1,45.5 111.3,45.0 112.9,45.4 114.5,45.5 116.2,45.3 118.2,45.4 120.1,45.8 121.4,47.2 122.5,48.7 123.8,50.1 124.5,51.9 122.0,53.5 119.1,52.4 118.2,51.0 117.2,49.8 116.7,52.4 116.3,54.5 115.2,56.2 114.8,58.3 113.8,60.0 111.8,61.7 111.1,60.1 110.8,58.4 109.4,56.2 106.9,56.5 104.5,58.1 105.5,56.2 106.9,54.6 107.0,52.7 107.4,50.8 105.7,49.8 104.5,48.2 102.1,47.8 100.1,46.6M111.3,63.9 109.4,64.1 109.9,65.5 111.6,65.2 111.3,63.9M106.7,68.7 108.6,69.1 110.3,70.0 112.0,69.6 113.6,69.9 115.2,70.0 116.5,68.9 118.3,68.9 119.6,68.0 121.1,67.2 122.6,66.1 124.5,65.5 125.8,64.3 127.3,63.4 128.9,62.5 126.4,62.4 124.3,63.2 122.0,63.9 119.8,64.1 117.6,63.6 116.2,64.4 114.8,65.3 113.8,66.6 110.8,67.2 108.4,66.9 106.7,68.7M124.5,60.0 126.2,60.1 127.9,60.3 129.7,60.1 131.4,59.5 133.2,59.6 135.2,59.4 137.2,59.7 139.1,60.0 140.5,59.1 142.0,58.7 141.5,55.9 139.8,55.9 138.1,56.5 135.2,55.9 133.1,56.6 130.8,56.6 128.8,57.8 126.4,58.1 124.5,60.0M141.5,55.9 143.1,55.2 144.2,53.8 145.4,52.7 147.2,51.4 149.3,50.6 151.1,49.8 152.7,48.6 154.7,48.2 156.1,47.1 157.6,46.4 158.9,45.3 160.1,44.0 161.7,43.5 163.1,42.5 164.8,41.9 166.4,41.4 167.7,40.3 169.3,39.8M169.3,39.8 170.9,38.7 172.2,37.2 174.0,35.7 175.7,34.2 177.1,33.2 178.2,31.7 179.6,30.7 181.1,29.8 182.9,29.6 184.4,28.7 185.9,27.9 187.1,26.8 188.3,25.7 189.3,24.5 191.0,24.6 192.6,24.4 194.2,24.0 196.0,23.7 197.8,24.0 199.7,23.8 201.5,24.0M169.3,39.8 171.0,38.2 173.2,37.2 174.9,35.6 177.1,34.7 178.7,33.7 180.3,32.8 182.0,32.2 183.7,31.7 185.4,31.2 186.9,30.2 188.5,29.9 190.2,30.1 191.8,29.4 193.4,29.8 195.0,29.7 196.6,29.2 198.4,29.9 200.0,30.9 199.5,32.7 198.6,34.2 196.9,34.8 195.2,35.0 193.6,35.3 191.9,35.4 190.3,35.2 192.2,35.8 194.2,36.2 195.9,36.6 197.6,36.2M202.5,49.2 200.4,49.5 198.6,50.3 197.1,51.0 195.6,51.6 194.2,52.4 192.5,53.6 191.3,55.1 192.6,56.6 193.2,58.4 195.5,57.7 197.6,56.7 199.1,56.0 200.4,54.8 201.5,53.5 203.9,53.0 206.4,52.4M201.5,41.9 203.4,43.0 205.4,43.7 207.6,43.7 209.8,43.7 207.5,43.5 205.4,42.7 203.5,42.0 201.5,41.9" fill="none" stroke="#000" stroke-width="1.6" stroke-linejoin="round"/>
<path d="M118.9,160.4 120.3,160.4 120.6,162.1 119.6,162.1 118.9,160.4M133.2,161.7 135.7,162.8 137.6,164.1 137.1,166.9 136.1,165.0 135.2,163.1M134.0,173.1 133.3,175.3 132.3,177.3 133.4,179.1 134.7,180.8 134.7,179.0 135.2,177.3 134.6,175.2 134.0,173.1M139.6,170.3 140.9,171.7 142.0,173.1 142.0,175.9M49.6,28.3 50.9,27.2 53.3,26.4 54.8,27.4 52.8,28.9 51.4,30.4 49.6,30.2M48.9,35.2 50.8,34.8 52.8,35.0 51.8,33.9 48.9,34.4 48.9,35.2M82.1,27.7 84.0,29.2 84.0,27.1 84.0,25.0 81.1,24.2 79.6,26.2 82.1,27.7M57.7,23.7 59.3,23.4 60.9,23.7 62.6,23.7 64.4,24.2 66.0,25.2 63.5,24.7 61.8,25.0 60.1,24.7M41.1,23.2 43.5,23.0 43.7,21.2 44.0,19.4 42.5,17.5 40.6,16.0 39.6,18.9 40.6,20.2 41.1,21.8 41.1,23.2M34.8,24.2 34.3,22.3 32.7,20.7 31.4,18.9 29.9,17.4 31.3,18.9 32.8,20.3 33.3,21.9 34.3,23.2M28.0,17.9 26.3,16.7 24.5,15.5 25.5,12.7 23.1,11.3M9.4,35.7 11.4,36.0 13.3,36.5 16.2,37.2 17.7,37.2 19.2,38.0M22.6,43.5 23.3,45.2 24.5,46.6 24.1,48.3 23.1,49.8 25.0,51.9 24.0,53.5M122.0,44.0 123.7,44.4 125.5,44.5 124.0,43.7M151.8,19.4 153.4,18.5 155.2,17.9 156.6,19.0 157.6,20.3M160.5,33.2 163.5,31.9 162.5,33.2M150.3,32.2 152.0,31.4 153.7,31.2 155.2,32.7M177.1,19.8 179.1,17.4 181.0,19.4 179.6,20.8 177.1,19.8M121.1,13.1 122.3,14.7 123.2,16.4 124.5,17.9 126.3,16.8 128.4,16.0 129.4,13.1" fill="none" stroke="#000" stroke-width="2.0" stroke-linejoin="round" stroke-linecap="round"/>
</g></g>
<rect x="34.30" y="364.8" width="50.89" height="12.40" fill="#000080"/>
<rect x="84.89" y="364.8" width="50.89" height="12.40" fill="#0000cd"/>
<rect x="135.48" y="364.8" width="50.89" height="12.40" fill="#4169e1"/>
<rect x="186.07" y="364.8" width="50.89" height="12.40" fill="#1e90ff"/>
<rect x="236.66" y="364.8" width="50.89" height="12.40" fill="#00bfff"/>
<rect x="287.25" y="364.8" width="50.89" height="12.40" fill="#a4d2fe"/>
<rect x="337.84" y="364.8" width="50.89" height="12.40" fill="#d2f2ff"/>
<rect x="388.43" y="364.8" width="50.89" height="12.40" fill="#fffac8"/>
<rect x="439.02" y="364.8" width="50.89" height="12.40" fill="#ffd93c"/>
<rect x="489.61" y="364.8" width="50.89" height="12.40" fill="#ffa500"/>
<rect x="540.20" y="364.8" width="50.89" height="12.40" fill="#ff7f00"/>
<rect x="590.79" y="364.8" width="50.89" height="12.40" fill="#ff0000"/>
<rect x="641.38" y="364.8" width="50.89" height="12.40" fill="#c80000"/>
<rect x="691.97" y="364.8" width="50.89" height="12.40" fill="#a01e23"/>
<polygon points="742.56,364.8 779.4,371.00 742.56,377.2" fill="#ff69b4"/>
<polygon points="34.3,364.8 742.56,364.8 779.4,371.00 742.56,377.2 34.3,377.2" fill="none" stroke="#000" stroke-width="1"/>
<line x1="34.30" y1="374.2" x2="34.30" y2="377.2" stroke="#000" stroke-width="0.8"/>
<text x="36.00" y="392.3" text-anchor="middle" font-size="12.7">0.0</text>
<line x1="135.48" y1="374.2" x2="135.48" y2="377.2" stroke="#000" stroke-width="0.8"/>
<text x="137.01" y="392.3" text-anchor="middle" font-size="12.7">0.5</text>
<line x1="236.66" y1="374.2" x2="236.66" y2="377.2" stroke="#000" stroke-width="0.8"/>
<text x="238.02" y="392.3" text-anchor="middle" font-size="12.7">1.0</text>
<line x1="337.84" y1="374.2" x2="337.84" y2="377.2" stroke="#000" stroke-width="0.8"/>
<text x="339.03" y="392.3" text-anchor="middle" font-size="12.7">1.5</text>
<line x1="439.02" y1="374.2" x2="439.02" y2="377.2" stroke="#000" stroke-width="0.8"/>
<text x="440.03" y="392.3" text-anchor="middle" font-size="12.7">2.0</text>
<line x1="540.20" y1="374.2" x2="540.20" y2="377.2" stroke="#000" stroke-width="0.8"/>
<text x="541.04" y="392.3" text-anchor="middle" font-size="12.7">2.5</text>
<line x1="641.38" y1="374.2" x2="641.38" y2="377.2" stroke="#000" stroke-width="0.8"/>
<text x="642.05" y="392.3" text-anchor="middle" font-size="12.7">3.0</text>
<line x1="742.56" y1="374.2" x2="742.56" y2="377.2" stroke="#000" stroke-width="0.8"/>
<text x="743.06" y="392.3" text-anchor="middle" font-size="12.7">3.5</text>
<text x="406.9" y="359.2" text-anchor="middle" font-size="15.2">number of storm per year []</text>
<polygon points="85.4,595.2 18.1,602.00 85.4,608.8" fill="#313695"/>
<rect x="85.40" y="595.2" width="67.87" height="13.60" fill="#4575b4"/>
<rect x="152.97" y="595.2" width="67.87" height="13.60" fill="#74add1"/>
<rect x="220.54" y="595.2" width="67.87" height="13.60" fill="#abd9e9"/>
<rect x="288.11" y="595.2" width="67.87" height="13.60" fill="#e0f3f8"/>
<rect x="355.68" y="595.2" width="67.87" height="13.60" fill="#ffffbf"/>
<rect x="423.25" y="595.2" width="67.87" height="13.60" fill="#fee090"/>
<rect x="490.82" y="595.2" width="67.87" height="13.60" fill="#fdae61"/>
<rect x="558.39" y="595.2" width="67.87" height="13.60" fill="#f46d43"/>
<rect x="625.96" y="595.2" width="67.87" height="13.60" fill="#d73027"/>
<polygon points="693.53,595.2 761,602.00 693.53,608.8" fill="#a50026"/>
<polygon points="18.1,602.00 85.4,595.2 693.53,595.2 761,602.00 693.53,608.8 85.4,608.8" fill="none" stroke="#000" stroke-width="1"/>
<line x1="85.40" y1="605.8" x2="85.40" y2="608.8" stroke="#000" stroke-width="0.8"/>
<text x="87.30" y="622.8" text-anchor="middle" font-size="12.7">−90</text>
<line x1="152.97" y1="605.8" x2="152.97" y2="608.8" stroke="#000" stroke-width="0.8"/>
<text x="154.75" y="622.8" text-anchor="middle" font-size="12.7">−70</text>
<line x1="220.54" y1="605.8" x2="220.54" y2="608.8" stroke="#000" stroke-width="0.8"/>
<text x="222.20" y="622.8" text-anchor="middle" font-size="12.7">−50</text>
<line x1="288.11" y1="605.8" x2="288.11" y2="608.8" stroke="#000" stroke-width="0.8"/>
<text x="289.64" y="622.8" text-anchor="middle" font-size="12.7">−30</text>
<line x1="355.68" y1="605.8" x2="355.68" y2="608.8" stroke="#000" stroke-width="0.8"/>
<text x="357.09" y="622.8" text-anchor="middle" font-size="12.7">−10</text>
<line x1="423.25" y1="605.8" x2="423.25" y2="608.8" stroke="#000" stroke-width="0.8"/>
<text x="424.54" y="622.8" text-anchor="middle" font-size="12.7">10</text>
<line x1="490.82" y1="605.8" x2="490.82" y2="608.8" stroke="#000" stroke-width="0.8"/>
<text x="491.99" y="622.8" text-anchor="middle" font-size="12.7">30</text>
<line x1="558.39" y1="605.8" x2="558.39" y2="608.8" stroke="#000" stroke-width="0.8"/>
<text x="559.43" y="622.8" text-anchor="middle" font-size="12.7">50</text>
<line x1="625.96" y1="605.8" x2="625.96" y2="608.8" stroke="#000" stroke-width="0.8"/>
<text x="626.88" y="622.8" text-anchor="middle" font-size="12.7">70</text>
<line x1="693.53" y1="605.8" x2="693.53" y2="608.8" stroke="#000" stroke-width="0.8"/>
<text x="694.33" y="622.8" text-anchor="middle" font-size="12.7">90</text>
<text x="389.7" y="590.3" text-anchor="middle" font-size="15.2">track density difference [%]</text>
<text x="6.20" y="12.70" font-size="15.2" font-weight="bold" style="stroke-width:0">a</text>
<text x="21.80" y="11.30" font-size="12.7">0−6 UTC</text>
<text x="210.70" y="12.70" font-size="15.2" font-weight="bold" style="stroke-width:0">b</text>
<text x="226.30" y="11.30" font-size="12.7">6−12 UTC</text>
<text x="415.20" y="12.70" font-size="15.2" font-weight="bold" style="stroke-width:0">c</text>
<text x="430.80" y="11.30" font-size="12.7">12−18 UTC</text>
<text x="619.70" y="12.70" font-size="15.2" font-weight="bold" style="stroke-width:0">d</text>
<text x="635.30" y="11.30" font-size="12.7">18−24 UTC</text>
<text x="6.20" y="189.70" font-size="15.2" font-weight="bold" style="stroke-width:0">e</text>
<text x="21.80" y="188.30" font-size="12.7">0−6 UTC</text>
<text x="210.70" y="189.70" font-size="15.2" font-weight="bold" style="stroke-width:0">f</text>
<text x="226.30" y="188.30" font-size="12.7">6−12 UTC</text>
<text x="415.20" y="189.70" font-size="15.2" font-weight="bold" style="stroke-width:0">g</text>
<text x="430.80" y="188.30" font-size="12.7">12−18 UTC</text>
<text x="619.70" y="189.70" font-size="15.2" font-weight="bold" style="stroke-width:0">h</text>
<text x="635.30" y="188.30" font-size="12.7">18−24 UTC</text>
<text x="6.20" y="408.70" font-size="15.2" font-weight="bold" style="stroke-width:0">i</text>
<text x="17.20" y="407.50" font-size="12.7">Difference; SP: 0.66</text>
<text x="210.70" y="408.70" font-size="15.2" font-weight="bold" style="stroke-width:0">j</text>
<text x="221.70" y="407.50" font-size="12.7">Difference; SP: 0.60</text>
<text x="415.20" y="408.70" font-size="15.2" font-weight="bold" style="stroke-width:0">k</text>
<text x="426.20" y="407.50" font-size="12.7">Difference; SP: 0.69</text>
<text x="619.70" y="408.70" font-size="15.2" font-weight="bold" style="stroke-width:0">l</text>
<text x="630.70" y="407.50" font-size="12.7">Difference; SP: 0.74</text>
</svg>
</body></html>
